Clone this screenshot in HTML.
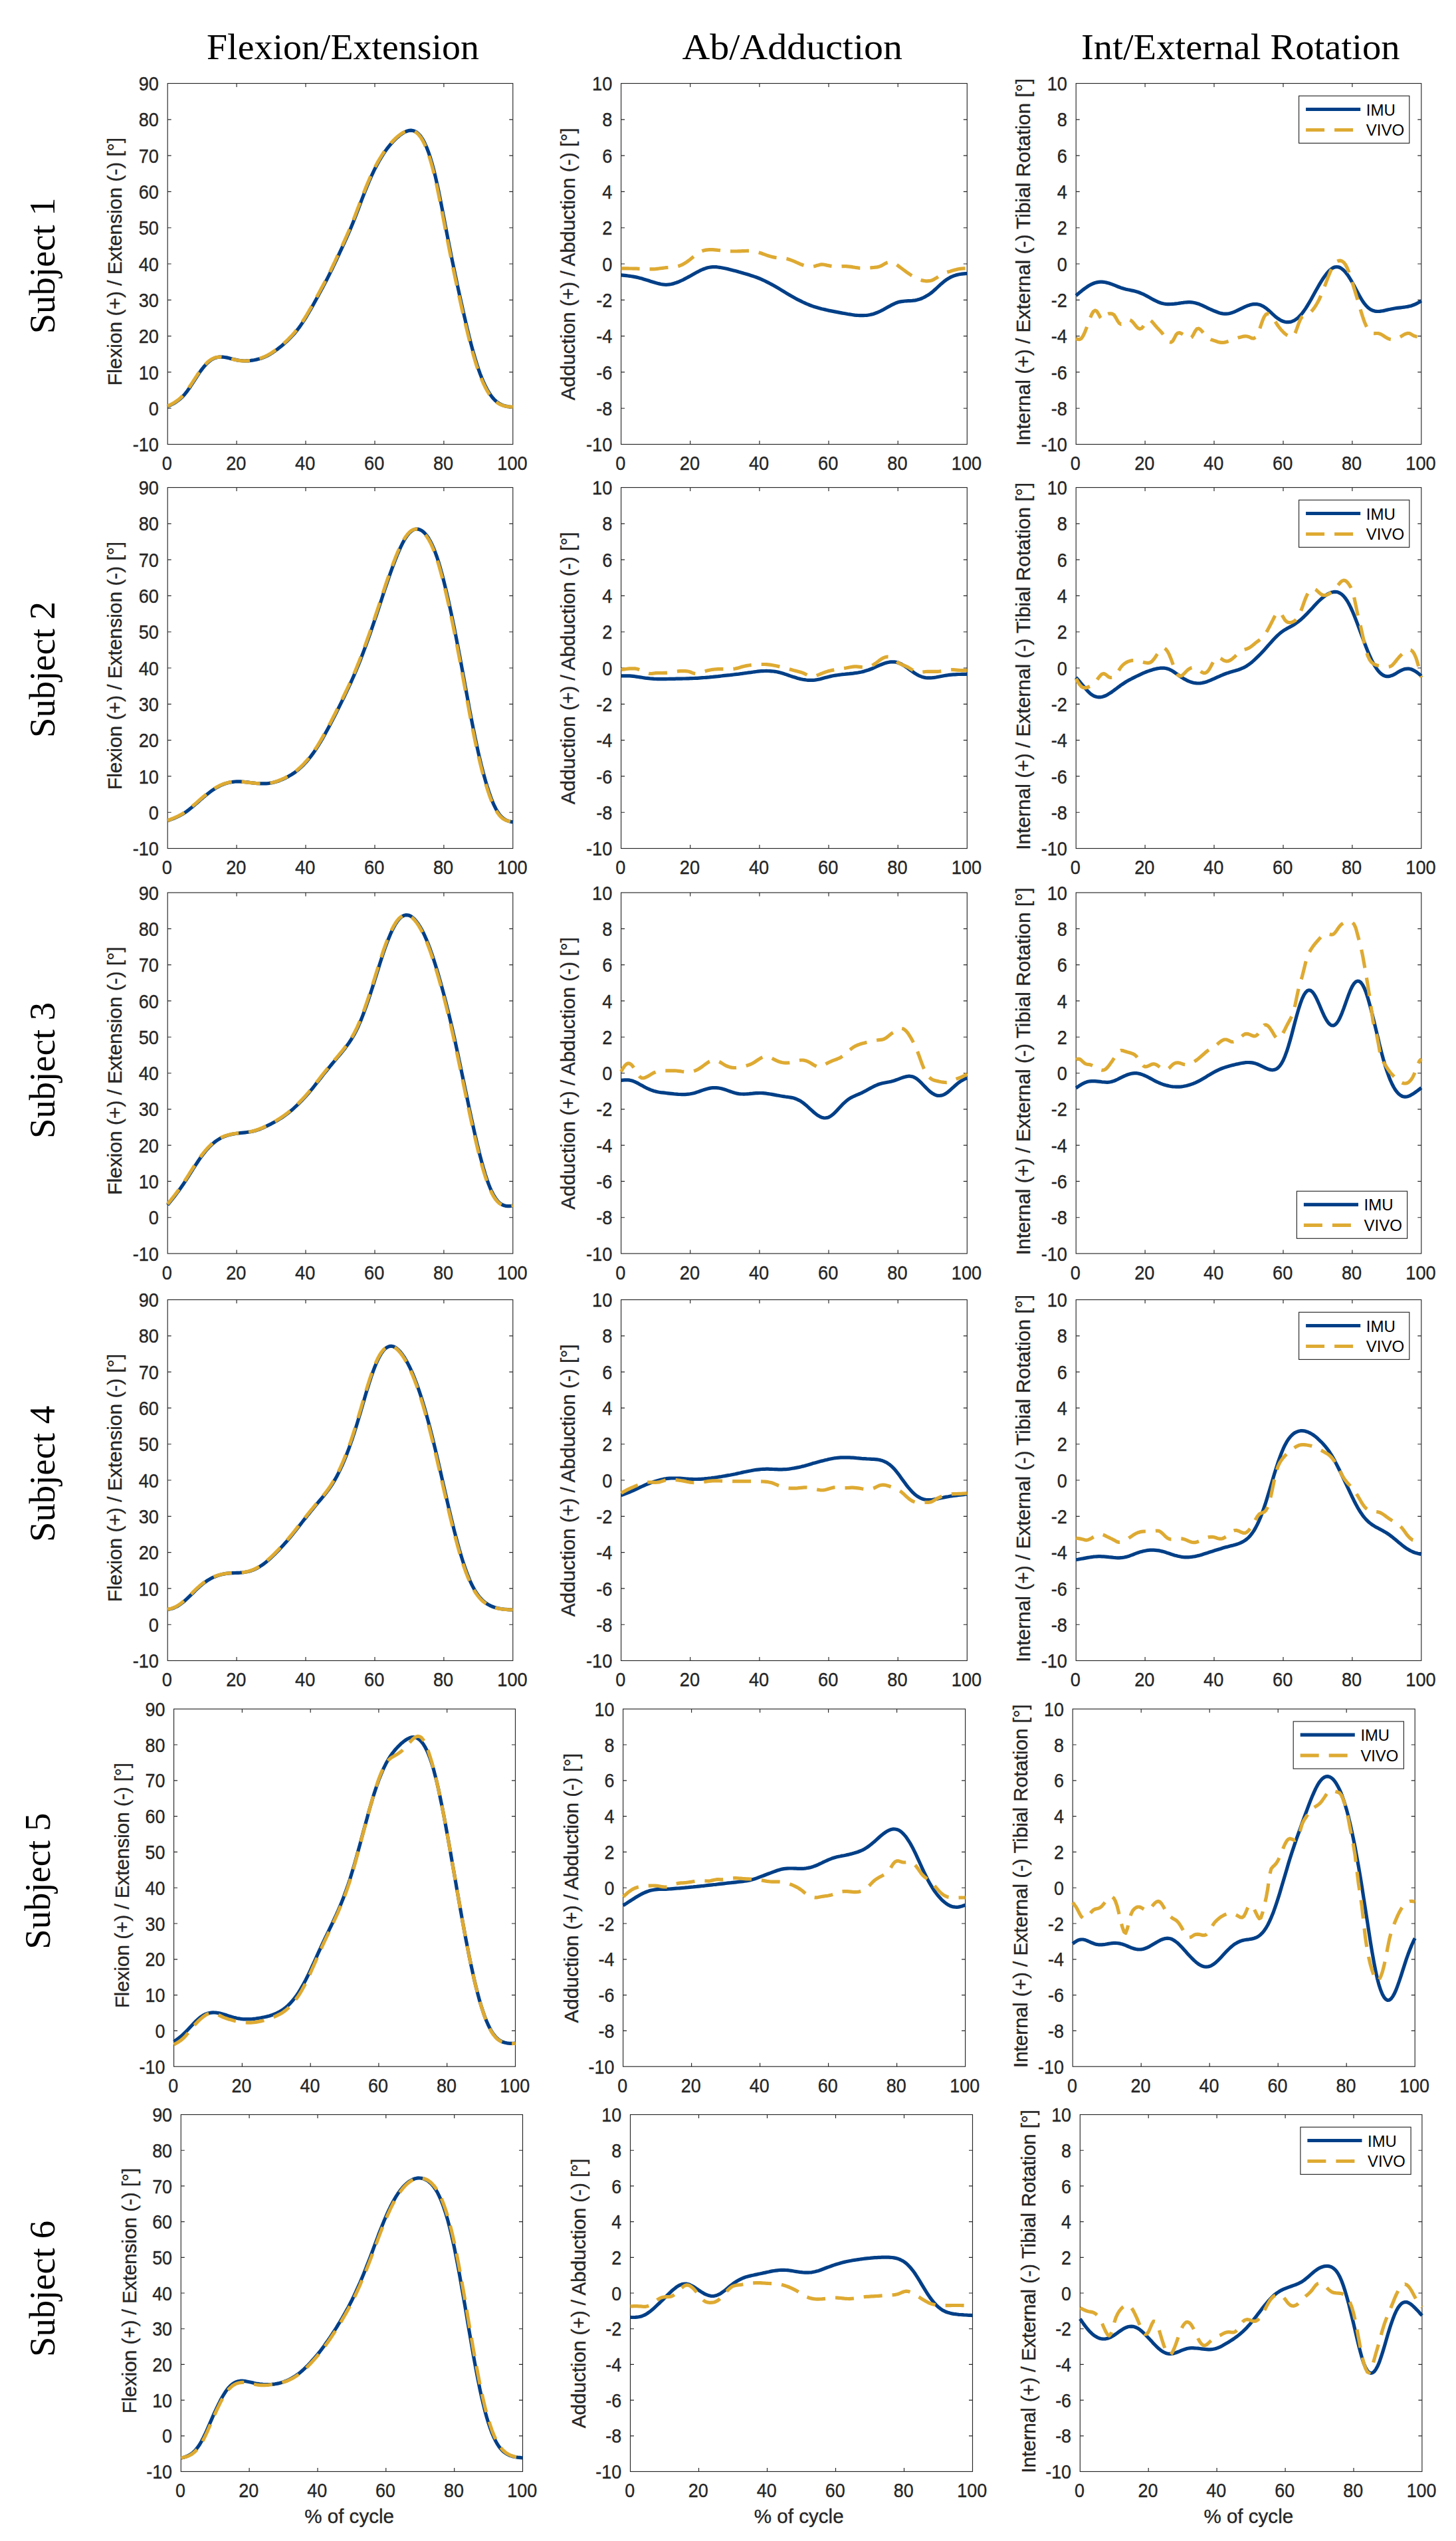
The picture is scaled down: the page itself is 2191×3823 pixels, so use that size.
<!DOCTYPE html>
<html lang="en"><head><meta charset="utf-8"><title>Knee kinematics: IMU vs VIVO</title><style>
html,body{margin:0;padding:0;background:#fff}
svg{display:block}
text{fill:#262626}
.tk,.lb{stroke:#262626;stroke-width:0.35px}
.ti{font-family:"Liberation Serif","DejaVu Serif",serif;font-size:54px;fill:#000}
.tk{font-family:"Liberation Sans","DejaVu Sans",sans-serif;font-size:29.6px}
.lb{font-family:"Liberation Sans","DejaVu Sans",sans-serif;font-size:29.9px}
.lt{font-family:"Liberation Sans","DejaVu Sans",sans-serif;font-size:24px;fill:#000}
.r5 .tk,.r6 .tk{font-size:29.29px}
.r5 .lb,.r6 .lb{font-size:29.59px}
.r5 .lt,.r6 .lt{font-size:23.75px}
.ax{fill:none;stroke:#262626;stroke-width:1.15}
.lg{fill:#fff;stroke:#262626;stroke-width:1.15}
.imu{fill:none;stroke:#003f87;stroke-width:5.2;stroke-linejoin:round}
.vivo{fill:none;stroke:#deaa32;stroke-width:5.2;stroke-dasharray:28 15;stroke-linejoin:round}
</style></head><body>
<svg width="2191" height="3823" viewBox="0 0 2191 3823">
<rect width="100%" height="100%" fill="#fff"/>
<text class="ti" x="311" y="89" textLength="410" lengthAdjust="spacingAndGlyphs">Flexion/Extension</text>
<text class="ti" x="1026.5" y="89" textLength="331.5" lengthAdjust="spacingAndGlyphs">Ab/Adduction</text>
<text class="ti" x="1627" y="89" textLength="479.5" lengthAdjust="spacingAndGlyphs">Int/External Rotation</text>
<text class="ti" transform="translate(81.7,502.3) rotate(-90)" textLength="205" lengthAdjust="spacingAndGlyphs">Subject 1</text>
<g class="r1"><clipPath id="c11"><rect x="249.2" y="122.5" width="525.6" height="549"/></clipPath>
<rect class="ax" x="252.2" y="125.5" width="519.6" height="543"/>
<path class="ax" d="M356.1,668.5v-5.5M356.1,125.5v5.5M460,668.5v-5.5M460,125.5v5.5M564,668.5v-5.5M564,125.5v5.5M667.9,668.5v-5.5M667.9,125.5v5.5M252.2,614.2h5.5M771.8,614.2h-5.5M252.2,559.9h5.5M771.8,559.9h-5.5M252.2,505.6h5.5M771.8,505.6h-5.5M252.2,451.3h5.5M771.8,451.3h-5.5M252.2,397h5.5M771.8,397h-5.5M252.2,342.7h5.5M771.8,342.7h-5.5M252.2,288.4h5.5M771.8,288.4h-5.5M252.2,234.1h5.5M771.8,234.1h-5.5M252.2,179.8h5.5M771.8,179.8h-5.5"/>
<g clip-path="url(#c11)">
<path class="imu" d="M252.2,611.6 254.8,610.4 257.4,609 260,607.7 262.6,606.2 265.2,604.5 267.8,602.7 270.4,600.7 273,598.4 275.6,595.8 278.2,592.9 280.8,589.7 283.4,586.1 286,582.4 288.6,578.4 291.2,574.4 293.8,570.4 296.4,566.3 299,562.4 301.6,558.6 304.2,555.1 306.8,551.8 309.4,548.9 312,546.2 314.6,543.9 317.1,541.9 319.7,540.3 322.3,539 324.9,538.1 327.5,537.5 330.1,537.2 332.7,537.1 335.3,537.2 337.9,537.5 340.5,537.9 343.1,538.4 345.7,539.1 348.3,539.7 350.9,540.4 353.5,541 356.1,541.6 358.7,542.1 361.3,542.5 363.9,542.7 366.5,542.9 369.1,543 371.7,542.9 374.3,542.8 376.9,542.5 379.5,542.1 382.1,541.7 384.7,541.2 387.3,540.6 389.9,539.9 392.5,539.2 395.1,538.3 397.7,537.3 400.3,536.2 402.9,534.9 405.5,533.5 408.1,531.9 410.7,530.2 413.3,528.4 415.9,526.5 418.5,524.6 421.1,522.5 423.7,520.4 426.3,518.2 428.9,515.9 431.5,513.5 434.1,511.1 436.7,508.5 439.3,505.8 441.9,503 444.5,500 447,496.8 449.6,493.5 452.2,489.9 454.8,486.1 457.4,482.1 460,478 462.6,473.7 465.2,469.3 467.8,464.8 470.4,460.2 473,455.5 475.6,450.7 478.2,445.9 480.8,441 483.4,436.2 486,431.4 488.6,426.6 491.2,421.7 493.8,416.6 496.4,411.4 499,406.1 501.6,400.7 504.2,395.2 506.8,389.6 509.4,384.1 512,378.4 514.6,372.8 517.2,367.2 519.8,361.4 522.4,355.6 525,349.7 527.6,343.7 530.2,337.5 532.8,331 535.4,324.3 538,317.5 540.6,310.6 543.2,303.7 545.8,296.8 548.4,290.1 551,283.6 553.6,277.2 556.2,271.1 558.8,265.2 561.4,259.6 564,254.2 566.6,249.2 569.2,244.4 571.8,239.9 574.4,235.6 576.9,231.6 579.5,227.8 582.1,224.2 584.7,220.9 587.3,217.7 589.9,214.7 592.5,211.9 595.1,209.3 597.7,206.9 600.3,204.7 602.9,202.6 605.5,200.8 608.1,199.2 610.7,198 613.3,197 615.9,196.4 618.5,196.2 621.1,196.5 623.7,197.2 626.3,198.6 628.9,200.5 631.5,203.2 634.1,206.6 636.7,210.7 639.3,215.7 641.9,221.5 644.5,228.2 647.1,235.8 649.7,244.4 652.3,253.9 654.9,264.4 657.5,275.8 660.1,287.9 662.7,300.7 665.3,313.9 667.9,327.4 670.5,341 673.1,354.5 675.7,367.8 678.3,380.9 680.9,393.7 683.5,406.3 686.1,418.6 688.7,430.7 691.3,442.7 693.9,454.4 696.5,466 699.1,477.4 701.7,488.5 704.3,499.3 706.8,509.7 709.4,519.7 712,529.3 714.6,538.3 717.2,546.8 719.8,554.8 722.4,562.1 725,568.8 727.6,574.9 730.2,580.5 732.8,585.5 735.4,590 738,594 740.6,597.5 743.2,600.5 745.8,603.1 748.4,605.2 751,607 753.6,608.4 756.2,609.6 758.8,610.5 761.4,611.1 764,611.6 766.6,612 769.2,612.3 771.8,612.5"/>
<path class="vivo" d="M252.2,611.1 254.8,609.8 257.4,608.5 260,607.1 262.6,605.5 265.2,603.8 267.8,601.9 270.4,599.8 273,597.4 275.6,594.7 278.2,591.6 280.8,588.3 283.4,584.7 286,580.8 288.6,576.8 291.2,572.8 293.8,568.8 296.4,564.8 299,560.9 301.6,557.2 304.2,553.8 306.8,550.6 309.4,547.8 312,545.3 314.6,543.1 317.1,541.2 319.7,539.8 322.3,538.6 324.9,537.8 327.5,537.3 330.1,537.1 332.7,537.1 335.3,537.3 337.9,537.6 340.5,538.1 343.1,538.7 345.7,539.3 348.3,540 350.9,540.6 353.5,541.3 356.1,541.8 358.7,542.2 361.3,542.6 363.9,542.8 366.5,542.9 369.1,543 371.7,542.9 374.3,542.7 376.9,542.4 379.5,542 382.1,541.5 384.7,541 387.3,540.3 389.9,539.6 392.5,538.8 395.1,537.9 397.7,536.9 400.3,535.7 402.9,534.3 405.5,532.9 408.1,531.3 410.7,529.5 413.3,527.7 415.9,525.8 418.5,523.8 421.1,521.7 423.7,519.5 426.3,517.3 428.9,515 431.5,512.6 434.1,510.1 436.7,507.4 439.3,504.7 441.9,501.8 444.5,498.7 447,495.5 449.6,492.1 452.2,488.4 454.8,484.5 457.4,480.5 460,476.3 462.6,472 465.2,467.5 467.8,463 470.4,458.3 473,453.6 475.6,448.8 478.2,444 480.8,439.1 483.4,434.3 486,429.5 488.6,424.6 491.2,419.7 493.8,414.6 496.4,409.3 499,403.9 501.6,398.5 504.2,393 506.8,387.4 509.4,381.8 512,376.2 514.6,370.6 517.2,364.9 519.8,359.1 522.4,353.3 525,347.3 527.6,341.2 530.2,334.9 532.8,328.4 535.4,321.6 538,314.7 540.6,307.8 543.2,300.9 545.8,294.1 548.4,287.5 551,281 553.6,274.8 556.2,268.7 558.8,262.9 561.4,257.4 564,252.2 566.6,247.2 569.2,242.6 571.8,238.2 574.4,234 576.9,230.1 579.5,226.4 582.1,222.9 584.7,219.6 587.3,216.5 589.9,213.6 592.5,210.9 595.1,208.3 597.7,206 600.3,203.8 602.9,201.9 605.5,200.1 608.1,198.7 610.7,197.6 613.3,196.7 615.9,196.3 618.5,196.3 621.1,196.7 623.7,197.7 626.3,199.3 628.9,201.5 631.5,204.4 634.1,208.1 636.7,212.6 639.3,217.9 641.9,224.1 644.5,231.1 647.1,239.2 649.7,248.1 652.3,258 654.9,268.8 657.5,280.5 660.1,293 662.7,305.9 665.3,319.3 667.9,332.8 670.5,346.4 673.1,359.8 675.7,373.1 678.3,386.1 680.9,398.8 683.5,411.2 686.1,423.4 688.7,435.5 691.3,447.4 693.9,459.1 696.5,470.6 699.1,481.9 701.7,492.8 704.3,503.5 706.8,513.7 709.4,523.6 712,532.9 714.6,541.8 717.2,550.1 719.8,557.8 722.4,564.9 725,571.3 727.6,577.2 730.2,582.6 732.8,587.4 735.4,591.7 738,595.4 740.6,598.7 743.2,601.6 745.8,604 748.4,606 751,607.6 753.6,608.9 756.2,609.9 758.8,610.7 761.4,611.2 764,611.6 766.6,611.9 769.2,612.1 771.8,612.3"/>
</g>
<text class="tk" transform="translate(251.4,707.1) scale(0.92,1)" text-anchor="middle">0</text>
<text class="tk" transform="translate(355.3,707.1) scale(0.92,1)" text-anchor="middle">20</text>
<text class="tk" transform="translate(459.2,707.1) scale(0.92,1)" text-anchor="middle">40</text>
<text class="tk" transform="translate(563.2,707.1) scale(0.92,1)" text-anchor="middle">60</text>
<text class="tk" transform="translate(667.1,707.1) scale(0.92,1)" text-anchor="middle">80</text>
<text class="tk" transform="translate(771,707.1) scale(0.92,1)" text-anchor="middle">100</text>
<text class="tk" transform="translate(239,679.1) scale(0.92,1)" text-anchor="end">-10</text>
<text class="tk" transform="translate(239,624.8) scale(0.92,1)" text-anchor="end">0</text>
<text class="tk" transform="translate(239,570.5) scale(0.92,1)" text-anchor="end">10</text>
<text class="tk" transform="translate(239,516.2) scale(0.92,1)" text-anchor="end">20</text>
<text class="tk" transform="translate(239,461.9) scale(0.92,1)" text-anchor="end">30</text>
<text class="tk" transform="translate(239,407.6) scale(0.92,1)" text-anchor="end">40</text>
<text class="tk" transform="translate(239,353.3) scale(0.92,1)" text-anchor="end">50</text>
<text class="tk" transform="translate(239,299) scale(0.92,1)" text-anchor="end">60</text>
<text class="tk" transform="translate(239,244.7) scale(0.92,1)" text-anchor="end">70</text>
<text class="tk" transform="translate(239,190.4) scale(0.92,1)" text-anchor="end">80</text>
<text class="tk" transform="translate(239,136.1) scale(0.92,1)" text-anchor="end">90</text>
<text class="lb" transform="translate(183,393.5) rotate(-90)" text-anchor="middle">Flexion (+) / Extension (-) [°]</text></g>
<g class="r1"><clipPath id="c12"><rect x="931.6" y="122.5" width="526.7" height="549"/></clipPath>
<rect class="ax" x="934.6" y="125.5" width="520.7" height="543"/>
<path class="ax" d="M1038.7,668.5v-5.5M1038.7,125.5v5.5M1142.9,668.5v-5.5M1142.9,125.5v5.5M1247,668.5v-5.5M1247,125.5v5.5M1351.2,668.5v-5.5M1351.2,125.5v5.5M934.6,614.2h5.5M1455.3,614.2h-5.5M934.6,559.9h5.5M1455.3,559.9h-5.5M934.6,505.6h5.5M1455.3,505.6h-5.5M934.6,451.3h5.5M1455.3,451.3h-5.5M934.6,397h5.5M1455.3,397h-5.5M934.6,342.7h5.5M1455.3,342.7h-5.5M934.6,288.4h5.5M1455.3,288.4h-5.5M934.6,234.1h5.5M1455.3,234.1h-5.5M934.6,179.8h5.5M1455.3,179.8h-5.5"/>
<g clip-path="url(#c12)">
<path class="imu" d="M934.6,413.8 937.2,414.1 939.8,414.4 942.4,414.7 945,415 947.6,415.3 950.2,415.7 952.8,416.1 955.4,416.6 958,417.1 960.6,417.7 963.2,418.4 965.8,419.1 968.4,419.9 971,420.7 973.7,421.5 976.3,422.3 978.9,423.2 981.5,424 984.1,424.8 986.7,425.6 989.3,426.3 991.9,426.9 994.5,427.5 997.1,427.9 999.7,428.2 1002.3,428.3 1004.9,428.2 1007.5,427.9 1010.1,427.5 1012.7,426.9 1015.3,426.1 1017.9,425.3 1020.5,424.3 1023.1,423.2 1025.7,422 1028.3,420.8 1030.9,419.4 1033.5,418 1036.1,416.6 1038.7,415.2 1041.3,413.7 1043.9,412.2 1046.6,410.7 1049.2,409.3 1051.8,408 1054.4,406.7 1057,405.5 1059.6,404.5 1062.2,403.6 1064.8,402.8 1067.4,402.3 1070,401.9 1072.6,401.7 1075.2,401.6 1077.8,401.7 1080.4,402 1083,402.3 1085.6,402.7 1088.2,403.2 1090.8,403.7 1093.4,404.3 1096,404.9 1098.6,405.6 1101.2,406.2 1103.8,406.9 1106.4,407.6 1109,408.3 1111.6,409.1 1114.2,409.8 1116.8,410.5 1119.4,411.3 1122.1,412 1124.7,412.8 1127.3,413.6 1129.9,414.4 1132.5,415.2 1135.1,416.1 1137.7,417 1140.3,418 1142.9,419 1145.5,420.1 1148.1,421.3 1150.7,422.5 1153.3,423.8 1155.9,425.1 1158.5,426.5 1161.1,427.9 1163.7,429.3 1166.3,430.8 1168.9,432.3 1171.5,433.8 1174.1,435.4 1176.7,437 1179.3,438.5 1181.9,440.1 1184.5,441.7 1187.1,443.2 1189.7,444.8 1192.3,446.3 1195,447.8 1197.6,449.2 1200.2,450.6 1202.8,451.9 1205.4,453.2 1208,454.5 1210.6,455.7 1213.2,456.9 1215.8,457.9 1218.4,459 1221,460 1223.6,460.9 1226.2,461.7 1228.8,462.5 1231.4,463.3 1234,464 1236.6,464.7 1239.2,465.3 1241.8,465.9 1244.4,466.5 1247,467.1 1249.6,467.6 1252.2,468.1 1254.8,468.6 1257.4,469.1 1260,469.6 1262.6,470.1 1265.2,470.6 1267.8,471.1 1270.5,471.5 1273.1,472 1275.7,472.5 1278.3,472.9 1280.9,473.3 1283.5,473.7 1286.1,474.1 1288.7,474.3 1291.3,474.5 1293.9,474.7 1296.5,474.7 1299.1,474.7 1301.7,474.5 1304.3,474.3 1306.9,474 1309.5,473.5 1312.1,472.9 1314.7,472.2 1317.3,471.3 1319.9,470.3 1322.5,469.2 1325.1,468 1327.7,466.7 1330.3,465.3 1332.9,463.8 1335.5,462.3 1338.1,460.9 1340.7,459.4 1343.3,458.1 1346,456.8 1348.6,455.7 1351.2,454.8 1353.8,454.1 1356.4,453.6 1359,453.3 1361.6,453 1364.2,452.8 1366.8,452.7 1369.4,452.6 1372,452.5 1374.6,452.2 1377.2,451.9 1379.8,451.3 1382.4,450.6 1385,449.7 1387.6,448.7 1390.2,447.5 1392.8,446.1 1395.4,444.6 1398,443 1400.6,441.1 1403.2,439.1 1405.8,436.8 1408.4,434.5 1411,432 1413.6,429.6 1416.2,427.2 1418.9,424.9 1421.5,422.8 1424.1,420.9 1426.7,419.2 1429.3,417.7 1431.9,416.4 1434.5,415.3 1437.1,414.4 1439.7,413.6 1442.3,413 1444.9,412.5 1447.5,412.2 1450.1,411.9 1452.7,411.7 1455.3,411.5"/>
<path class="vivo" d="M934.6,403.8 937.2,403.8 939.8,403.8 942.4,403.9 945,403.9 947.6,404 950.2,404 952.8,404.1 955.4,404.1 958,404.2 960.6,404.3 963.2,404.4 965.8,404.6 968.4,404.7 971,404.8 973.7,404.9 976.3,404.9 978.9,404.9 981.5,404.9 984.1,404.8 986.7,404.6 989.3,404.3 991.9,404 994.5,403.7 997.1,403.3 999.7,403 1002.3,402.7 1004.9,402.5 1007.5,402.3 1010.1,402.2 1012.7,401.9 1015.3,401.6 1017.9,401.2 1020.5,400.5 1023.1,399.7 1025.7,398.6 1028.3,397.3 1030.9,395.8 1033.5,394.1 1036.1,392.2 1038.7,390.2 1041.3,388.1 1043.9,385.9 1046.6,383.8 1049.2,381.8 1051.8,380.1 1054.4,378.6 1057,377.5 1059.6,376.7 1062.2,376.1 1064.8,375.8 1067.4,375.6 1070,375.6 1072.6,375.7 1075.2,375.9 1077.8,376.1 1080.4,376.4 1083,376.6 1085.6,376.9 1088.2,377.2 1090.8,377.4 1093.4,377.6 1096,377.8 1098.6,377.9 1101.2,378 1103.8,378 1106.4,378 1109,378 1111.6,377.9 1114.2,377.8 1116.8,377.7 1119.4,377.6 1122.1,377.5 1124.7,377.4 1127.3,377.4 1129.9,377.5 1132.5,377.7 1135.1,378.1 1137.7,378.7 1140.3,379.4 1142.9,380.2 1145.5,381 1148.1,382 1150.7,382.9 1153.3,383.9 1155.9,384.8 1158.5,385.6 1161.1,386.3 1163.7,386.9 1166.3,387.4 1168.9,387.7 1171.5,388 1174.1,388.2 1176.7,388.4 1179.3,388.6 1181.9,388.9 1184.5,389.4 1187.1,390.2 1189.7,391.1 1192.3,392.1 1195,393.2 1197.6,394.3 1200.2,395.5 1202.8,396.6 1205.4,397.8 1208,398.8 1210.6,399.7 1213.2,400.6 1215.8,401.2 1218.4,401.5 1221,401.5 1223.6,401.1 1226.2,400.5 1228.8,399.6 1231.4,398.9 1234,398.2 1236.6,397.9 1239.2,398 1241.8,398.5 1244.4,399.1 1247,399.6 1249.6,400.1 1252.2,400.5 1254.8,400.7 1257.4,400.8 1260,400.8 1262.6,400.8 1265.2,400.7 1267.8,400.6 1270.5,400.5 1273.1,400.6 1275.7,400.8 1278.3,401.1 1280.9,401.4 1283.5,401.9 1286.1,402.3 1288.7,402.7 1291.3,403 1293.9,403.3 1296.5,403.4 1299.1,403.5 1301.7,403.5 1304.3,403.4 1306.9,403.2 1309.5,403 1312.1,402.7 1314.7,402.5 1317.3,402.2 1319.9,401.9 1322.5,401.3 1325.1,400.4 1327.7,399.1 1330.3,397.6 1332.9,396.1 1335.5,394.9 1338.1,394.2 1340.7,394.1 1343.3,394.8 1346,396.1 1348.6,397.8 1351.2,399.6 1353.8,401.6 1356.4,403.5 1359,405.5 1361.6,407.4 1364.2,409.3 1366.8,411.1 1369.4,412.9 1372,414.6 1374.6,416.2 1377.2,417.6 1379.8,418.9 1382.4,420.1 1385,421.1 1387.6,421.9 1390.2,422.4 1392.8,422.8 1395.4,422.9 1398,422.7 1400.6,422.2 1403.2,421.4 1405.8,420.1 1408.4,418.6 1411,416.9 1413.6,415.1 1416.2,413.5 1418.9,412 1421.5,410.8 1424.1,409.9 1426.7,409.1 1429.3,408.4 1431.9,407.6 1434.5,406.8 1437.1,406.1 1439.7,405.4 1442.3,404.8 1444.9,404.4 1447.5,404.1 1450.1,403.9 1452.7,403.8 1455.3,403.8"/>
</g>
<text class="tk" transform="translate(933.8,707.1) scale(0.92,1)" text-anchor="middle">0</text>
<text class="tk" transform="translate(1037.9,707.1) scale(0.92,1)" text-anchor="middle">20</text>
<text class="tk" transform="translate(1142.1,707.1) scale(0.92,1)" text-anchor="middle">40</text>
<text class="tk" transform="translate(1246.2,707.1) scale(0.92,1)" text-anchor="middle">60</text>
<text class="tk" transform="translate(1350.4,707.1) scale(0.92,1)" text-anchor="middle">80</text>
<text class="tk" transform="translate(1454.5,707.1) scale(0.92,1)" text-anchor="middle">100</text>
<text class="tk" transform="translate(921.4,679.1) scale(0.92,1)" text-anchor="end">-10</text>
<text class="tk" transform="translate(921.4,624.8) scale(0.92,1)" text-anchor="end">-8</text>
<text class="tk" transform="translate(921.4,570.5) scale(0.92,1)" text-anchor="end">-6</text>
<text class="tk" transform="translate(921.4,516.2) scale(0.92,1)" text-anchor="end">-4</text>
<text class="tk" transform="translate(921.4,461.9) scale(0.92,1)" text-anchor="end">-2</text>
<text class="tk" transform="translate(921.4,407.6) scale(0.92,1)" text-anchor="end">0</text>
<text class="tk" transform="translate(921.4,353.3) scale(0.92,1)" text-anchor="end">2</text>
<text class="tk" transform="translate(921.4,299) scale(0.92,1)" text-anchor="end">4</text>
<text class="tk" transform="translate(921.4,244.7) scale(0.92,1)" text-anchor="end">6</text>
<text class="tk" transform="translate(921.4,190.4) scale(0.92,1)" text-anchor="end">8</text>
<text class="tk" transform="translate(921.4,136.1) scale(0.92,1)" text-anchor="end">10</text>
<text class="lb" transform="translate(865.4,397.4) rotate(-90)" text-anchor="middle">Adduction (+) / Abduction (-) [°]</text></g>
<g class="r1"><clipPath id="c13"><rect x="1616.2" y="122.5" width="525.6" height="549"/></clipPath>
<rect class="ax" x="1619.2" y="125.5" width="519.6" height="543"/>
<path class="ax" d="M1723.1,668.5v-5.5M1723.1,125.5v5.5M1827,668.5v-5.5M1827,125.5v5.5M1931,668.5v-5.5M1931,125.5v5.5M2034.9,668.5v-5.5M2034.9,125.5v5.5M1619.2,614.2h5.5M2138.8,614.2h-5.5M1619.2,559.9h5.5M2138.8,559.9h-5.5M1619.2,505.6h5.5M2138.8,505.6h-5.5M1619.2,451.3h5.5M2138.8,451.3h-5.5M1619.2,397h5.5M2138.8,397h-5.5M1619.2,342.7h5.5M2138.8,342.7h-5.5M1619.2,288.4h5.5M2138.8,288.4h-5.5M1619.2,234.1h5.5M2138.8,234.1h-5.5M1619.2,179.8h5.5M2138.8,179.8h-5.5"/>
<g clip-path="url(#c13)">
<path class="imu" d="M1619.2,444.7 1621.8,442.5 1624.4,440.3 1627,438.2 1629.6,436.1 1632.2,434.1 1634.8,432.3 1637.4,430.5 1640,429 1642.6,427.6 1645.2,426.5 1647.8,425.5 1650.4,424.9 1653,424.4 1655.6,424.2 1658.2,424.2 1660.8,424.4 1663.4,424.8 1666,425.4 1668.6,426.1 1671.2,426.9 1673.8,427.9 1676.4,428.9 1679,429.9 1681.6,431 1684.2,432 1686.7,432.9 1689.3,433.7 1691.9,434.5 1694.5,435.2 1697.1,435.8 1699.7,436.3 1702.3,436.9 1704.9,437.4 1707.5,438 1710.1,438.7 1712.7,439.5 1715.3,440.5 1717.9,441.6 1720.5,442.7 1723.1,444 1725.7,445.4 1728.3,446.8 1730.9,448.2 1733.5,449.7 1736.1,451.1 1738.7,452.4 1741.3,453.6 1743.9,454.8 1746.5,455.7 1749.1,456.5 1751.7,457 1754.3,457.4 1756.9,457.6 1759.5,457.6 1762.1,457.5 1764.7,457.3 1767.3,457.1 1769.9,456.8 1772.5,456.5 1775.1,456.1 1777.7,455.7 1780.3,455.4 1782.9,455 1785.5,454.8 1788.1,454.7 1790.7,454.7 1793.3,454.8 1795.9,455.2 1798.5,455.7 1801.1,456.4 1803.7,457.2 1806.3,458.3 1808.9,459.4 1811.5,460.6 1814.1,461.8 1816.6,463.1 1819.2,464.3 1821.8,465.5 1824.4,466.6 1827,467.8 1829.6,468.8 1832.2,469.8 1834.8,470.7 1837.4,471.4 1840,471.9 1842.6,472.2 1845.2,472.2 1847.8,472 1850.4,471.5 1853,470.8 1855.6,469.9 1858.2,468.8 1860.8,467.7 1863.4,466.4 1866,465.1 1868.6,463.8 1871.2,462.6 1873.8,461.4 1876.4,460.3 1879,459.4 1881.6,458.6 1884.2,457.9 1886.8,457.6 1889.4,457.5 1892,457.7 1894.6,458.3 1897.2,459.1 1899.8,460.3 1902.4,461.8 1905,463.6 1907.6,465.7 1910.2,468 1912.8,470.4 1915.4,472.8 1918,475.2 1920.6,477.4 1923.2,479.3 1925.8,481 1928.4,482.5 1931,483.5 1933.6,484.3 1936.2,484.7 1938.8,484.7 1941.4,484.4 1944,483.7 1946.5,482.7 1949.1,481.2 1951.7,479.4 1954.3,477.1 1956.9,474.4 1959.5,471.3 1962.1,467.9 1964.7,464.1 1967.3,460 1969.9,455.7 1972.5,451.2 1975.1,446.5 1977.7,441.8 1980.3,437.1 1982.9,432.4 1985.5,427.9 1988.1,423.6 1990.7,419.5 1993.3,415.7 1995.9,412.2 1998.5,409.2 2001.1,406.6 2003.7,404.4 2006.3,402.8 2008.9,401.8 2011.5,401.5 2014.1,401.8 2016.7,402.8 2019.3,404.4 2021.9,406.6 2024.5,409.3 2027.1,412.6 2029.7,416.3 2032.3,420.5 2034.9,425 2037.5,429.7 2040.1,434.6 2042.7,439.5 2045.3,444.3 2047.9,448.8 2050.5,453 2053.1,456.7 2055.7,459.8 2058.3,462.5 2060.9,464.6 2063.5,466.2 2066.1,467.3 2068.7,468.1 2071.3,468.4 2073.9,468.5 2076.4,468.4 2079,468 2081.6,467.6 2084.2,467 2086.8,466.4 2089.4,465.8 2092,465.3 2094.6,464.7 2097.2,464.2 2099.8,463.8 2102.4,463.4 2105,463.1 2107.6,462.8 2110.2,462.5 2112.8,462.2 2115.4,461.8 2118,461.4 2120.6,460.8 2123.2,460.2 2125.8,459.3 2128.4,458.3 2131,457.1 2133.6,455.7 2136.2,454.2 2138.8,452.6"/>
<path class="vivo" d="M1619.2,509.4 1621.8,510.5 1624.4,510.7 1627,509.4 1629.6,505.9 1632.2,500.5 1634.8,493.9 1637.4,486.7 1640,479.6 1642.6,473.4 1645.2,468.9 1647.8,467 1650.4,468.1 1653,472.3 1655.6,477.3 1658.2,480.4 1660.8,479.4 1663.4,476.1 1666,473 1668.6,471.9 1671.2,471.9 1673.8,472.2 1676.4,473.8 1679,477.7 1681.6,482.5 1684.2,486.3 1686.7,487.8 1689.3,487.2 1691.9,485.5 1694.5,483.4 1697.1,481.7 1699.7,481.2 1702.3,482.3 1704.9,484.8 1707.5,488.1 1710.1,491.4 1712.7,493.9 1715.3,494.9 1717.9,493.9 1720.5,491.1 1723.1,487.3 1725.7,483.8 1728.3,481.7 1730.9,481.9 1733.5,483.8 1736.1,486.9 1738.7,490.1 1741.3,493 1743.9,495.7 1746.5,498.5 1749.1,501.5 1751.7,505.1 1754.3,508.7 1756.9,512 1759.5,514.3 1762.1,515 1764.7,513.2 1767.3,508.4 1769.9,503.4 1772.5,501 1775.1,500.7 1777.7,501.7 1780.3,503.4 1782.9,505.5 1785.5,507.5 1788.1,509 1790.7,509.3 1793.3,507.5 1795.9,503.3 1798.5,498.3 1801.1,494.7 1803.7,494.2 1806.3,495.8 1808.9,498.5 1811.5,501.7 1814.1,504.8 1816.6,507.5 1819.2,509.4 1821.8,510.7 1824.4,511.6 1827,512.4 1829.6,513.3 1832.2,514.2 1834.8,514.9 1837.4,515.4 1840,515.4 1842.6,515.1 1845.2,514.5 1847.8,513.7 1850.4,512.9 1853,511.9 1855.6,510.9 1858.2,509.9 1860.8,509 1863.4,508.1 1866,507.4 1868.6,506.7 1871.2,506.1 1873.8,505.9 1876.4,506 1879,506.7 1881.6,507.9 1884.2,509 1886.8,509.1 1889.4,507.5 1892,503.5 1894.6,497.5 1897.2,490.1 1899.8,482.6 1902.4,476.5 1905,473 1907.6,471.9 1910.2,472.7 1912.8,475 1915.4,478.4 1918,482.3 1920.6,486.3 1923.2,490.2 1925.8,493.7 1928.4,496.8 1931,499.6 1933.6,502 1936.2,504 1938.8,505.5 1941.4,506.7 1944,507.2 1946.5,505.6 1949.1,500.8 1951.7,493.9 1954.3,486.6 1956.9,480.4 1959.5,476.5 1962.1,474.5 1964.7,473.6 1967.3,472.7 1969.9,471.4 1972.5,469.3 1975.1,466.6 1977.7,463.2 1980.3,459.3 1982.9,454.8 1985.5,449.7 1988.1,444 1990.7,437.6 1993.3,430.9 1995.9,423.9 1998.5,417.1 2001.1,410.6 2003.7,404.7 2006.3,399.7 2008.9,395.9 2011.5,393.5 2014.1,392.3 2016.7,392.1 2019.3,392.8 2021.9,394.6 2024.5,397.8 2027.1,402.8 2029.7,409.1 2032.3,416.6 2034.9,424.7 2037.5,433.2 2040.1,441.8 2042.7,450.6 2045.3,459.4 2047.9,468.1 2050.5,476.4 2053.1,483.9 2055.7,490.1 2058.3,494.9 2060.9,498.3 2063.5,500.5 2066.1,501.5 2068.7,501.7 2071.3,501.5 2073.9,501.5 2076.4,502.2 2079,503.4 2081.6,505 2084.2,506.7 2086.8,508.3 2089.4,509.6 2092,510.5 2094.6,510.9 2097.2,510.8 2099.8,510.3 2102.4,509.4 2105,508.1 2107.6,506.6 2110.2,505 2112.8,503.4 2115.4,502.2 2118,501.4 2120.6,501.5 2123.2,502.6 2125.8,504.2 2128.4,505.6 2131,506.3 2133.6,506.4 2136.2,506.1 2138.8,505.6"/>
</g>
<text class="tk" transform="translate(1618.4,707.1) scale(0.92,1)" text-anchor="middle">0</text>
<text class="tk" transform="translate(1722.3,707.1) scale(0.92,1)" text-anchor="middle">20</text>
<text class="tk" transform="translate(1826.2,707.1) scale(0.92,1)" text-anchor="middle">40</text>
<text class="tk" transform="translate(1930.2,707.1) scale(0.92,1)" text-anchor="middle">60</text>
<text class="tk" transform="translate(2034.1,707.1) scale(0.92,1)" text-anchor="middle">80</text>
<text class="tk" transform="translate(2138,707.1) scale(0.92,1)" text-anchor="middle">100</text>
<text class="tk" transform="translate(1606,679.1) scale(0.92,1)" text-anchor="end">-10</text>
<text class="tk" transform="translate(1606,624.8) scale(0.92,1)" text-anchor="end">-8</text>
<text class="tk" transform="translate(1606,570.5) scale(0.92,1)" text-anchor="end">-6</text>
<text class="tk" transform="translate(1606,516.2) scale(0.92,1)" text-anchor="end">-4</text>
<text class="tk" transform="translate(1606,461.9) scale(0.92,1)" text-anchor="end">-2</text>
<text class="tk" transform="translate(1606,407.6) scale(0.92,1)" text-anchor="end">0</text>
<text class="tk" transform="translate(1606,353.3) scale(0.92,1)" text-anchor="end">2</text>
<text class="tk" transform="translate(1606,299) scale(0.92,1)" text-anchor="end">4</text>
<text class="tk" transform="translate(1606,244.7) scale(0.92,1)" text-anchor="end">6</text>
<text class="tk" transform="translate(1606,190.4) scale(0.92,1)" text-anchor="end">8</text>
<text class="tk" transform="translate(1606,136.1) scale(0.92,1)" text-anchor="end">10</text>
<text class="lb" transform="translate(1550,394.4) rotate(-90)" text-anchor="middle">Internal (+) / External (-) Tibial Rotation [°]</text>
<rect class="lg" x="1954.6" y="144.3" width="166.2" height="71.1"/>
<path class="imu" d="M1965.1,164.5h82.1"/>
<path class="vivo" d="M1965.1,195.5h82.1"/>
<text class="lt" x="2055.8" y="173.5">IMU</text>
<text class="lt" x="2055.8" y="204.4">VIVO</text></g>
<text class="ti" transform="translate(81.7,1109.9) rotate(-90)" textLength="205" lengthAdjust="spacingAndGlyphs">Subject 2</text>
<g class="r2"><clipPath id="c21"><rect x="249.2" y="730.5" width="525.6" height="549"/></clipPath>
<rect class="ax" x="252.2" y="733.5" width="519.6" height="543"/>
<path class="ax" d="M356.1,1276.5v-5.5M356.1,733.5v5.5M460,1276.5v-5.5M460,733.5v5.5M564,1276.5v-5.5M564,733.5v5.5M667.9,1276.5v-5.5M667.9,733.5v5.5M252.2,1222.2h5.5M771.8,1222.2h-5.5M252.2,1167.9h5.5M771.8,1167.9h-5.5M252.2,1113.6h5.5M771.8,1113.6h-5.5M252.2,1059.3h5.5M771.8,1059.3h-5.5M252.2,1005h5.5M771.8,1005h-5.5M252.2,950.7h5.5M771.8,950.7h-5.5M252.2,896.4h5.5M771.8,896.4h-5.5M252.2,842.1h5.5M771.8,842.1h-5.5M252.2,787.8h5.5M771.8,787.8h-5.5"/>
<g clip-path="url(#c21)">
<path class="imu" d="M252.2,1234.9 254.8,1233.9 257.4,1232.9 260,1231.9 262.6,1230.8 265.2,1229.7 267.8,1228.5 270.4,1227.2 273,1225.8 275.6,1224.3 278.2,1222.6 280.8,1220.8 283.4,1218.9 286,1216.8 288.6,1214.7 291.2,1212.5 293.8,1210.3 296.4,1208 299,1205.7 301.6,1203.4 304.2,1201.2 306.8,1198.9 309.4,1196.8 312,1194.7 314.6,1192.7 317.1,1190.8 319.7,1188.9 322.3,1187.2 324.9,1185.6 327.5,1184.1 330.1,1182.7 332.7,1181.4 335.3,1180.3 337.9,1179.3 340.5,1178.5 343.1,1177.8 345.7,1177.1 348.3,1176.7 350.9,1176.3 353.5,1176 356.1,1175.9 358.7,1175.9 361.3,1175.9 363.9,1176.1 366.5,1176.3 369.1,1176.6 371.7,1176.9 374.3,1177.2 376.9,1177.5 379.5,1177.8 382.1,1178.1 384.7,1178.4 387.3,1178.6 389.9,1178.7 392.5,1178.8 395.1,1178.9 397.7,1178.9 400.3,1178.8 402.9,1178.6 405.5,1178.3 408.1,1177.9 410.7,1177.4 413.3,1176.8 415.9,1176 418.5,1175.2 421.1,1174.2 423.7,1173.1 426.3,1172 428.9,1170.8 431.5,1169.5 434.1,1168.1 436.7,1166.6 439.3,1165 441.9,1163.3 444.5,1161.5 447,1159.5 449.6,1157.4 452.2,1155.1 454.8,1152.7 457.4,1150.1 460,1147.3 462.6,1144.3 465.2,1141.2 467.8,1137.9 470.4,1134.4 473,1130.8 475.6,1126.9 478.2,1122.9 480.8,1118.7 483.4,1114.4 486,1109.9 488.6,1105.3 491.2,1100.6 493.8,1095.8 496.4,1090.9 499,1085.9 501.6,1080.9 504.2,1075.8 506.8,1070.6 509.4,1065.4 512,1060.1 514.6,1054.9 517.2,1049.6 519.8,1044.2 522.4,1038.7 525,1033.2 527.6,1027.6 530.2,1021.8 532.8,1015.9 535.4,1009.8 538,1003.6 540.6,997.2 543.2,990.6 545.8,983.8 548.4,976.9 551,969.8 553.6,962.6 556.2,955.3 558.8,947.8 561.4,940.2 564,932.5 566.6,924.8 569.2,916.9 571.8,909 574.4,901.2 576.9,893.3 579.5,885.5 582.1,877.8 584.7,870.2 587.3,862.7 589.9,855.4 592.5,848.4 595.1,841.6 597.7,835 600.3,828.9 602.9,823.1 605.5,817.8 608.1,813 610.7,808.7 613.3,805 615.9,801.9 618.5,799.5 621.1,797.7 623.7,796.5 626.3,796 628.9,796.1 631.5,796.8 634.1,798 636.7,799.9 639.3,802.3 641.9,805.4 644.5,809.1 647.1,813.5 649.7,818.5 652.3,824.3 654.9,830.8 657.5,838 660.1,846.1 662.7,855 665.3,864.4 667.9,874.5 670.5,885.1 673.1,896.1 675.7,907.6 678.3,919.5 680.9,931.8 683.5,944.5 686.1,957.6 688.7,970.9 691.3,984.6 693.9,998.5 696.5,1012.5 699.1,1026.6 701.7,1040.7 704.3,1054.8 706.8,1068.6 709.4,1082.1 712,1095.3 714.6,1108.1 717.2,1120.4 719.8,1132.2 722.4,1143.4 725,1154 727.6,1164 730.2,1173.5 732.8,1182.3 735.4,1190.4 738,1197.9 740.6,1204.8 743.2,1210.9 745.8,1216.2 748.4,1220.8 751,1224.7 753.6,1227.8 756.2,1230.4 758.8,1232.4 761.4,1233.8 764,1234.9 766.6,1235.8 769.2,1236.4 771.8,1236.9"/>
<path class="vivo" d="M252.2,1234.5 254.8,1233.5 257.4,1232.5 260,1231.4 262.6,1230.4 265.2,1229.2 267.8,1228 270.4,1226.6 273,1225.2 275.6,1223.6 278.2,1221.9 280.8,1220 283.4,1218.1 286,1216 288.6,1213.8 291.2,1211.6 293.8,1209.4 296.4,1207.1 299,1204.8 301.6,1202.5 304.2,1200.3 306.8,1198.1 309.4,1196 312,1193.9 314.6,1191.9 317.1,1190 319.7,1188.2 322.3,1186.5 324.9,1185 327.5,1183.5 330.1,1182.2 332.7,1181 335.3,1179.9 337.9,1179 340.5,1178.2 343.1,1177.5 345.7,1176.9 348.3,1176.5 350.9,1176.2 353.5,1176 356.1,1175.9 358.7,1175.9 361.3,1176 363.9,1176.2 366.5,1176.4 369.1,1176.7 371.7,1177 374.3,1177.3 376.9,1177.6 379.5,1177.9 382.1,1178.2 384.7,1178.5 387.3,1178.6 389.9,1178.8 392.5,1178.9 395.1,1178.9 397.7,1178.8 400.3,1178.7 402.9,1178.5 405.5,1178.2 408.1,1177.8 410.7,1177.2 413.3,1176.5 415.9,1175.7 418.5,1174.8 421.1,1173.8 423.7,1172.7 426.3,1171.5 428.9,1170.3 431.5,1168.9 434.1,1167.5 436.7,1166 439.3,1164.3 441.9,1162.6 444.5,1160.7 447,1158.7 449.6,1156.5 452.2,1154.2 454.8,1151.7 457.4,1149 460,1146.1 462.6,1143.1 465.2,1139.9 467.8,1136.5 470.4,1133 473,1129.3 475.6,1125.3 478.2,1121.3 480.8,1117 483.4,1112.6 486,1108.1 488.6,1103.4 491.2,1098.7 493.8,1093.8 496.4,1088.9 499,1083.9 501.6,1078.8 504.2,1073.7 506.8,1068.5 509.4,1063.3 512,1058 514.6,1052.8 517.2,1047.4 519.8,1042 522.4,1036.5 525,1031 527.6,1025.3 530.2,1019.5 532.8,1013.5 535.4,1007.4 538,1001.1 540.6,994.6 543.2,987.9 545.8,981.1 548.4,974.1 551,967 553.6,959.7 556.2,952.3 558.8,944.8 561.4,937.2 564,929.4 566.6,921.6 569.2,913.8 571.8,905.9 574.4,898 576.9,890.2 579.5,882.4 582.1,874.7 584.7,867.2 587.3,859.8 589.9,852.6 592.5,845.6 595.1,838.9 597.7,832.5 600.3,826.5 602.9,820.9 605.5,815.8 608.1,811.2 610.7,807.2 613.3,803.7 615.9,800.9 618.5,798.7 621.1,797.2 623.7,796.3 626.3,796 628.9,796.3 631.5,797.2 634.1,798.7 636.7,800.8 639.3,803.5 641.9,806.8 644.5,810.8 647.1,815.4 649.7,820.7 652.3,826.8 654.9,833.6 657.5,841.2 660.1,849.6 662.7,858.7 665.3,868.4 667.9,878.7 670.5,889.4 673.1,900.6 675.7,912.3 678.3,924.4 680.9,936.8 683.5,949.7 686.1,962.9 688.7,976.4 691.3,990.1 693.9,1004.1 696.5,1018.2 699.1,1032.3 701.7,1046.4 704.3,1060.3 706.8,1074.1 709.4,1087.5 712,1100.5 714.6,1113.1 717.2,1125.2 719.8,1136.7 722.4,1147.7 725,1158.1 727.6,1167.9 730.2,1177.1 732.8,1185.6 735.4,1193.5 738,1200.8 740.6,1207.3 743.2,1213.2 745.8,1218.2 748.4,1222.5 751,1226 753.6,1228.9 756.2,1231.2 758.8,1232.9 761.4,1234.1 764,1235 766.6,1235.6 769.2,1236.1 771.8,1236.4"/>
</g>
<text class="tk" transform="translate(251.4,1315.1) scale(0.92,1)" text-anchor="middle">0</text>
<text class="tk" transform="translate(355.3,1315.1) scale(0.92,1)" text-anchor="middle">20</text>
<text class="tk" transform="translate(459.2,1315.1) scale(0.92,1)" text-anchor="middle">40</text>
<text class="tk" transform="translate(563.2,1315.1) scale(0.92,1)" text-anchor="middle">60</text>
<text class="tk" transform="translate(667.1,1315.1) scale(0.92,1)" text-anchor="middle">80</text>
<text class="tk" transform="translate(771,1315.1) scale(0.92,1)" text-anchor="middle">100</text>
<text class="tk" transform="translate(239,1287.1) scale(0.92,1)" text-anchor="end">-10</text>
<text class="tk" transform="translate(239,1232.8) scale(0.92,1)" text-anchor="end">0</text>
<text class="tk" transform="translate(239,1178.5) scale(0.92,1)" text-anchor="end">10</text>
<text class="tk" transform="translate(239,1124.2) scale(0.92,1)" text-anchor="end">20</text>
<text class="tk" transform="translate(239,1069.9) scale(0.92,1)" text-anchor="end">30</text>
<text class="tk" transform="translate(239,1015.6) scale(0.92,1)" text-anchor="end">40</text>
<text class="tk" transform="translate(239,961.3) scale(0.92,1)" text-anchor="end">50</text>
<text class="tk" transform="translate(239,907) scale(0.92,1)" text-anchor="end">60</text>
<text class="tk" transform="translate(239,852.7) scale(0.92,1)" text-anchor="end">70</text>
<text class="tk" transform="translate(239,798.4) scale(0.92,1)" text-anchor="end">80</text>
<text class="tk" transform="translate(239,744.1) scale(0.92,1)" text-anchor="end">90</text>
<text class="lb" transform="translate(183,1001.5) rotate(-90)" text-anchor="middle">Flexion (+) / Extension (-) [°]</text></g>
<g class="r2"><clipPath id="c22"><rect x="931.6" y="730.5" width="526.7" height="549"/></clipPath>
<rect class="ax" x="934.6" y="733.5" width="520.7" height="543"/>
<path class="ax" d="M1038.7,1276.5v-5.5M1038.7,733.5v5.5M1142.9,1276.5v-5.5M1142.9,733.5v5.5M1247,1276.5v-5.5M1247,733.5v5.5M1351.2,1276.5v-5.5M1351.2,733.5v5.5M934.6,1222.2h5.5M1455.3,1222.2h-5.5M934.6,1167.9h5.5M1455.3,1167.9h-5.5M934.6,1113.6h5.5M1455.3,1113.6h-5.5M934.6,1059.3h5.5M1455.3,1059.3h-5.5M934.6,1005h5.5M1455.3,1005h-5.5M934.6,950.7h5.5M1455.3,950.7h-5.5M934.6,896.4h5.5M1455.3,896.4h-5.5M934.6,842.1h5.5M1455.3,842.1h-5.5M934.6,787.8h5.5M1455.3,787.8h-5.5"/>
<g clip-path="url(#c22)">
<path class="imu" d="M934.6,1016.9 937.2,1016.8 939.8,1016.8 942.4,1016.8 945,1016.8 947.6,1016.9 950.2,1017.1 952.8,1017.4 955.4,1017.7 958,1018.1 960.6,1018.5 963.2,1018.9 965.8,1019.3 968.4,1019.7 971,1020.1 973.7,1020.4 976.3,1020.7 978.9,1021 981.5,1021.2 984.1,1021.4 986.7,1021.5 989.3,1021.6 991.9,1021.7 994.5,1021.7 997.1,1021.7 999.7,1021.6 1002.3,1021.6 1004.9,1021.5 1007.5,1021.4 1010.1,1021.4 1012.7,1021.3 1015.3,1021.3 1017.9,1021.2 1020.5,1021.2 1023.1,1021.1 1025.7,1021.1 1028.3,1021 1030.9,1021 1033.5,1020.9 1036.1,1020.8 1038.7,1020.7 1041.3,1020.6 1043.9,1020.5 1046.6,1020.4 1049.2,1020.3 1051.8,1020.1 1054.4,1019.9 1057,1019.7 1059.6,1019.5 1062.2,1019.3 1064.8,1019.1 1067.4,1018.9 1070,1018.6 1072.6,1018.4 1075.2,1018.1 1077.8,1017.8 1080.4,1017.6 1083,1017.3 1085.6,1017 1088.2,1016.7 1090.8,1016.4 1093.4,1016.1 1096,1015.8 1098.6,1015.6 1101.2,1015.3 1103.8,1015 1106.4,1014.7 1109,1014.4 1111.6,1014.1 1114.2,1013.7 1116.8,1013.4 1119.4,1013 1122.1,1012.7 1124.7,1012.3 1127.3,1011.9 1129.9,1011.6 1132.5,1011.2 1135.1,1010.8 1137.7,1010.5 1140.3,1010.2 1142.9,1009.9 1145.5,1009.7 1148.1,1009.6 1150.7,1009.5 1153.3,1009.4 1155.9,1009.5 1158.5,1009.6 1161.1,1009.8 1163.7,1010 1166.3,1010.4 1168.9,1010.8 1171.5,1011.4 1174.1,1012 1176.7,1012.8 1179.3,1013.6 1181.9,1014.4 1184.5,1015.3 1187.1,1016.2 1189.7,1017.1 1192.3,1018 1195,1018.8 1197.6,1019.6 1200.2,1020.4 1202.8,1021.1 1205.4,1021.7 1208,1022.2 1210.6,1022.6 1213.2,1023 1215.8,1023.3 1218.4,1023.4 1221,1023.4 1223.6,1023.3 1226.2,1023.1 1228.8,1022.7 1231.4,1022.3 1234,1021.7 1236.6,1021 1239.2,1020.3 1241.8,1019.6 1244.4,1018.9 1247,1018.2 1249.6,1017.6 1252.2,1017 1254.8,1016.5 1257.4,1016.1 1260,1015.7 1262.6,1015.3 1265.2,1015 1267.8,1014.7 1270.5,1014.5 1273.1,1014.2 1275.7,1013.9 1278.3,1013.7 1280.9,1013.4 1283.5,1013.1 1286.1,1012.7 1288.7,1012.4 1291.3,1012 1293.9,1011.5 1296.5,1011 1299.1,1010.4 1301.7,1009.6 1304.3,1008.8 1306.9,1008 1309.5,1007 1312.1,1006 1314.7,1004.9 1317.3,1003.7 1319.9,1002.5 1322.5,1001.3 1325.1,1000.2 1327.7,999.2 1330.3,998.3 1332.9,997.4 1335.5,996.8 1338.1,996.2 1340.7,995.9 1343.3,995.8 1346,995.9 1348.6,996.3 1351.2,997 1353.8,998 1356.4,999.2 1359,1000.7 1361.6,1002.3 1364.2,1004 1366.8,1005.9 1369.4,1007.8 1372,1009.7 1374.6,1011.5 1377.2,1013.3 1379.8,1014.9 1382.4,1016.3 1385,1017.4 1387.6,1018.4 1390.2,1019.1 1392.8,1019.6 1395.4,1019.8 1398,1019.9 1400.6,1019.9 1403.2,1019.7 1405.8,1019.4 1408.4,1019 1411,1018.5 1413.6,1018 1416.2,1017.5 1418.9,1017 1421.5,1016.5 1424.1,1016.1 1426.7,1015.7 1429.3,1015.4 1431.9,1015.1 1434.5,1014.9 1437.1,1014.8 1439.7,1014.6 1442.3,1014.5 1444.9,1014.5 1447.5,1014.4 1450.1,1014.3 1452.7,1014.3 1455.3,1014.2"/>
<path class="vivo" d="M934.6,1007.7 937.2,1007.3 939.8,1006.9 942.4,1006.5 945,1006.2 947.6,1005.9 950.2,1005.8 952.8,1005.8 955.4,1005.9 958,1006.3 960.6,1007 963.2,1008 965.8,1009.2 968.4,1010.5 971,1011.7 973.7,1012.7 976.3,1013.3 978.9,1013.5 981.5,1013.3 984.1,1013 986.7,1012.7 989.3,1012.5 991.9,1012.5 994.5,1012.5 997.1,1012.5 999.7,1012.4 1002.3,1012.3 1004.9,1012 1007.5,1011.6 1010.1,1011.2 1012.7,1010.7 1015.3,1010.4 1017.9,1010.1 1020.5,1009.9 1023.1,1009.7 1025.7,1009.6 1028.3,1009.6 1030.9,1009.6 1033.5,1009.8 1036.1,1010.2 1038.7,1011 1041.3,1012.1 1043.9,1013.1 1046.6,1013.5 1049.2,1013.2 1051.8,1012.6 1054.4,1011.9 1057,1011 1059.6,1010.2 1062.2,1009.5 1064.8,1008.8 1067.4,1008.2 1070,1007.7 1072.6,1007.3 1075.2,1007 1077.8,1006.8 1080.4,1006.6 1083,1006.6 1085.6,1006.5 1088.2,1006.6 1090.8,1006.6 1093.4,1006.7 1096,1006.8 1098.6,1006.8 1101.2,1006.7 1103.8,1006.4 1106.4,1006 1109,1005.4 1111.6,1004.7 1114.2,1003.9 1116.8,1003.1 1119.4,1002.5 1122.1,1001.9 1124.7,1001.4 1127.3,1001 1129.9,1000.7 1132.5,1000.4 1135.1,1000.1 1137.7,999.9 1140.3,999.7 1142.9,999.6 1145.5,999.5 1148.1,999.5 1150.7,999.5 1153.3,999.6 1155.9,999.8 1158.5,1000.1 1161.1,1000.5 1163.7,1001 1166.3,1001.5 1168.9,1002 1171.5,1002.6 1174.1,1003.2 1176.7,1003.8 1179.3,1004.4 1181.9,1005.1 1184.5,1005.8 1187.1,1006.6 1189.7,1007.3 1192.3,1008.1 1195,1008.8 1197.6,1009.4 1200.2,1010.1 1202.8,1010.7 1205.4,1011.5 1208,1012.4 1210.6,1013.5 1213.2,1014.8 1215.8,1016.2 1218.4,1017.2 1221,1017.9 1223.6,1017.9 1226.2,1017.3 1228.8,1016.4 1231.4,1015.4 1234,1014.3 1236.6,1013.3 1239.2,1012.2 1241.8,1011.3 1244.4,1010.4 1247,1009.6 1249.6,1009 1252.2,1008.4 1254.8,1007.9 1257.4,1007.4 1260,1007 1262.6,1006.6 1265.2,1006.2 1267.8,1005.8 1270.5,1005.4 1273.1,1005 1275.7,1004.5 1278.3,1004 1280.9,1003.5 1283.5,1003.2 1286.1,1002.9 1288.7,1002.9 1291.3,1003.1 1293.9,1003.4 1296.5,1003.7 1299.1,1003.9 1301.7,1003.9 1304.3,1003.7 1306.9,1003.3 1309.5,1002.5 1312.1,1001.5 1314.7,1000 1317.3,998.2 1319.9,996.2 1322.5,994.2 1325.1,992.3 1327.7,990.7 1330.3,989.4 1332.9,988.5 1335.5,988.1 1338.1,988.2 1340.7,988.9 1343.3,990.4 1346,992.4 1348.6,994.6 1351.2,996.7 1353.8,998.3 1356.4,999.6 1359,1000.7 1361.6,1001.7 1364.2,1002.8 1366.8,1004.1 1369.4,1005.7 1372,1007.4 1374.6,1009 1377.2,1010.3 1379.8,1011 1382.4,1011.4 1385,1011.3 1387.6,1011.1 1390.2,1010.8 1392.8,1010.5 1395.4,1010.4 1398,1010.3 1400.6,1010.4 1403.2,1010.4 1405.8,1010.4 1408.4,1010.4 1411,1010.4 1413.6,1010.2 1416.2,1009.9 1418.9,1009.6 1421.5,1009.1 1424.1,1008.6 1426.7,1008.1 1429.3,1007.8 1431.9,1007.6 1434.5,1007.7 1437.1,1007.9 1439.7,1008.1 1442.3,1008.3 1444.9,1008.5 1447.5,1008.6 1450.1,1008.6 1452.7,1008.6 1455.3,1008.5"/>
</g>
<text class="tk" transform="translate(933.8,1315.1) scale(0.92,1)" text-anchor="middle">0</text>
<text class="tk" transform="translate(1037.9,1315.1) scale(0.92,1)" text-anchor="middle">20</text>
<text class="tk" transform="translate(1142.1,1315.1) scale(0.92,1)" text-anchor="middle">40</text>
<text class="tk" transform="translate(1246.2,1315.1) scale(0.92,1)" text-anchor="middle">60</text>
<text class="tk" transform="translate(1350.4,1315.1) scale(0.92,1)" text-anchor="middle">80</text>
<text class="tk" transform="translate(1454.5,1315.1) scale(0.92,1)" text-anchor="middle">100</text>
<text class="tk" transform="translate(921.4,1287.1) scale(0.92,1)" text-anchor="end">-10</text>
<text class="tk" transform="translate(921.4,1232.8) scale(0.92,1)" text-anchor="end">-8</text>
<text class="tk" transform="translate(921.4,1178.5) scale(0.92,1)" text-anchor="end">-6</text>
<text class="tk" transform="translate(921.4,1124.2) scale(0.92,1)" text-anchor="end">-4</text>
<text class="tk" transform="translate(921.4,1069.9) scale(0.92,1)" text-anchor="end">-2</text>
<text class="tk" transform="translate(921.4,1015.6) scale(0.92,1)" text-anchor="end">0</text>
<text class="tk" transform="translate(921.4,961.3) scale(0.92,1)" text-anchor="end">2</text>
<text class="tk" transform="translate(921.4,907) scale(0.92,1)" text-anchor="end">4</text>
<text class="tk" transform="translate(921.4,852.7) scale(0.92,1)" text-anchor="end">6</text>
<text class="tk" transform="translate(921.4,798.4) scale(0.92,1)" text-anchor="end">8</text>
<text class="tk" transform="translate(921.4,744.1) scale(0.92,1)" text-anchor="end">10</text>
<text class="lb" transform="translate(865.4,1005.4) rotate(-90)" text-anchor="middle">Adduction (+) / Abduction (-) [°]</text></g>
<g class="r2"><clipPath id="c23"><rect x="1616.2" y="730.5" width="525.6" height="549"/></clipPath>
<rect class="ax" x="1619.2" y="733.5" width="519.6" height="543"/>
<path class="ax" d="M1723.1,1276.5v-5.5M1723.1,733.5v5.5M1827,1276.5v-5.5M1827,733.5v5.5M1931,1276.5v-5.5M1931,733.5v5.5M2034.9,1276.5v-5.5M2034.9,733.5v5.5M1619.2,1222.2h5.5M2138.8,1222.2h-5.5M1619.2,1167.9h5.5M2138.8,1167.9h-5.5M1619.2,1113.6h5.5M2138.8,1113.6h-5.5M1619.2,1059.3h5.5M2138.8,1059.3h-5.5M1619.2,1005h5.5M2138.8,1005h-5.5M1619.2,950.7h5.5M2138.8,950.7h-5.5M1619.2,896.4h5.5M2138.8,896.4h-5.5M1619.2,842.1h5.5M2138.8,842.1h-5.5M1619.2,787.8h5.5M2138.8,787.8h-5.5"/>
<g clip-path="url(#c23)">
<path class="imu" d="M1619.2,1019.1 1621.8,1022.1 1624.4,1025.2 1627,1028.3 1629.6,1031.4 1632.2,1034.5 1634.8,1037.6 1637.4,1040.4 1640,1042.9 1642.6,1045 1645.2,1046.6 1647.8,1047.8 1650.4,1048.5 1653,1048.9 1655.6,1048.9 1658.2,1048.5 1660.8,1047.8 1663.4,1046.8 1666,1045.5 1668.6,1043.9 1671.2,1042.3 1673.8,1040.5 1676.4,1038.6 1679,1036.7 1681.6,1034.7 1684.2,1032.8 1686.7,1030.9 1689.3,1029.2 1691.9,1027.5 1694.5,1025.8 1697.1,1024.3 1699.7,1022.8 1702.3,1021.5 1704.9,1020.1 1707.5,1018.8 1710.1,1017.5 1712.7,1016.3 1715.3,1015.1 1717.9,1013.9 1720.5,1012.7 1723.1,1011.6 1725.7,1010.5 1728.3,1009.6 1730.9,1008.7 1733.5,1007.9 1736.1,1007.1 1738.7,1006.5 1741.3,1005.9 1743.9,1005.5 1746.5,1005.2 1749.1,1005 1751.7,1005.1 1754.3,1005.5 1756.9,1006.1 1759.5,1007 1762.1,1008.3 1764.7,1009.8 1767.3,1011.5 1769.9,1013.3 1772.5,1015.2 1775.1,1017 1777.7,1018.7 1780.3,1020.4 1782.9,1021.9 1785.5,1023.3 1788.1,1024.6 1790.7,1025.6 1793.3,1026.5 1795.9,1027.2 1798.5,1027.7 1801.1,1028 1803.7,1028 1806.3,1027.9 1808.9,1027.5 1811.5,1026.9 1814.1,1026.2 1816.6,1025.4 1819.2,1024.4 1821.8,1023.4 1824.4,1022.2 1827,1021.1 1829.6,1019.9 1832.2,1018.7 1834.8,1017.6 1837.4,1016.4 1840,1015.3 1842.6,1014.3 1845.2,1013.3 1847.8,1012.4 1850.4,1011.6 1853,1010.8 1855.6,1010 1858.2,1009.3 1860.8,1008.5 1863.4,1007.7 1866,1006.8 1868.6,1005.7 1871.2,1004.6 1873.8,1003.2 1876.4,1001.7 1879,999.9 1881.6,998 1884.2,995.9 1886.8,993.6 1889.4,991.2 1892,988.7 1894.6,986.1 1897.2,983.5 1899.8,980.7 1902.4,977.9 1905,975 1907.6,972.1 1910.2,969.1 1912.8,966.2 1915.4,963.3 1918,960.5 1920.6,957.9 1923.2,955.4 1925.8,953.1 1928.4,951 1931,949.1 1933.6,947.4 1936.2,945.9 1938.8,944.5 1941.4,943.1 1944,941.7 1946.5,940.2 1949.1,938.5 1951.7,936.7 1954.3,934.8 1956.9,932.7 1959.5,930.4 1962.1,928 1964.7,925.4 1967.3,922.8 1969.9,920 1972.5,917.2 1975.1,914.4 1977.7,911.5 1980.3,908.7 1982.9,906 1985.5,903.5 1988.1,901.1 1990.7,898.9 1993.3,896.9 1995.9,895.1 1998.5,893.6 2001.1,892.3 2003.7,891.3 2006.3,890.7 2008.9,890.4 2011.5,890.6 2014.1,891.3 2016.7,892.6 2019.3,894.4 2021.9,896.9 2024.5,900 2027.1,903.8 2029.7,908.3 2032.3,913.4 2034.9,919.1 2037.5,925.3 2040.1,931.8 2042.7,938.6 2045.3,945.6 2047.9,952.6 2050.5,959.7 2053.1,966.7 2055.7,973.5 2058.3,980.1 2060.9,986.2 2063.5,991.9 2066.1,997.1 2068.7,1001.7 2071.3,1005.7 2073.9,1009.2 2076.4,1012 2079,1014.3 2081.6,1016 2084.2,1017.1 2086.8,1017.6 2089.4,1017.6 2092,1017.1 2094.6,1016.3 2097.2,1015.1 2099.8,1013.7 2102.4,1012.1 2105,1010.6 2107.6,1009.1 2110.2,1007.9 2112.8,1006.9 2115.4,1006.3 2118,1006.1 2120.6,1006.2 2123.2,1006.8 2125.8,1007.8 2128.4,1009.1 2131,1010.7 2133.6,1012.6 2136.2,1014.7 2138.8,1016.9"/>
<path class="vivo" d="M1619.2,1021 1621.8,1025.6 1624.4,1029.6 1627,1032.7 1629.6,1034.4 1632.2,1034.9 1634.8,1034.6 1637.4,1033.8 1640,1032.6 1642.6,1030.9 1645.2,1028.8 1647.8,1026.2 1650.4,1023.2 1653,1019.8 1655.6,1016.6 1658.2,1014.2 1660.8,1013.4 1663.4,1014.5 1666,1016.6 1668.6,1018.6 1671.2,1019.5 1673.8,1019.3 1676.4,1017.9 1679,1015.3 1681.6,1011.7 1684.2,1007.7 1686.7,1003.9 1689.3,1000.9 1691.9,998.6 1694.5,996.9 1697.1,995.5 1699.7,994.6 1702.3,993.9 1704.9,993.6 1707.5,993.5 1710.1,993.7 1712.7,994.1 1715.3,994.7 1717.9,995.5 1720.5,996.2 1723.1,996.9 1725.7,997.3 1728.3,997.4 1730.9,996.7 1733.5,995 1736.1,992.1 1738.7,988.4 1741.3,984.4 1743.9,980.6 1746.5,977.5 1749.1,975.5 1751.7,975.1 1754.3,976.7 1756.9,980 1759.5,984.9 1762.1,991.2 1764.7,998.3 1767.3,1005.5 1769.9,1011.5 1772.5,1015.5 1775.1,1017.2 1777.7,1016.9 1780.3,1015 1782.9,1012.4 1785.5,1009.6 1788.1,1007.3 1790.7,1005.7 1793.3,1004.6 1795.9,1004.3 1798.5,1004.7 1801.1,1005.8 1803.7,1007.6 1806.3,1009.7 1808.9,1011.6 1811.5,1012.6 1814.1,1012.4 1816.6,1010.8 1819.2,1007.7 1821.8,1003.3 1824.4,998.3 1827,993.6 1829.6,990.3 1832.2,989.1 1834.8,989.5 1837.4,990.9 1840,992.7 1842.6,994.1 1845.2,994.8 1847.8,994.7 1850.4,993.8 1853,992.2 1855.6,990.2 1858.2,987.8 1860.8,985.3 1863.4,982.8 1866,980.7 1868.6,978.9 1871.2,977.8 1873.8,977 1876.4,976.2 1879,975.1 1881.6,973.5 1884.2,971.6 1886.8,969.4 1889.4,967.3 1892,965.3 1894.6,963.4 1897.2,961.3 1899.8,958.9 1902.4,955.9 1905,952.1 1907.6,947.8 1910.2,943 1912.8,938 1915.4,932.8 1918,927.7 1920.6,923.6 1923.2,921.1 1925.8,921.1 1928.4,924 1931,928.5 1933.6,932.8 1936.2,935.4 1938.8,936.5 1941.4,936.6 1944,936.2 1946.5,935.2 1949.1,933.4 1951.7,930.5 1954.3,926.5 1956.9,921.1 1959.5,914.3 1962.1,906.9 1964.7,899.9 1967.3,894.2 1969.9,889.9 1972.5,887.1 1975.1,885.7 1977.7,885.8 1980.3,887.3 1982.9,889.6 1985.5,892.1 1988.1,894.2 1990.7,895.4 1993.3,895.7 1995.9,895.3 1998.5,894.2 2001.1,892.7 2003.7,890.8 2006.3,888.5 2008.9,885.8 2011.5,882.8 2014.1,879.6 2016.7,876.5 2019.3,874.1 2021.9,873.1 2024.5,873.6 2027.1,875.6 2029.7,878.8 2032.3,883 2034.9,889 2037.5,898 2040.1,910.3 2042.7,923 2045.3,933.8 2047.9,944.2 2050.5,956 2053.1,968.2 2055.7,978.9 2058.3,986.9 2060.9,992.4 2063.5,996 2066.1,998.2 2068.7,999.7 2071.3,1000.7 2073.9,1001.4 2076.4,1001.7 2079,1002 2081.6,1002.2 2084.2,1002.5 2086.8,1002.8 2089.4,1003.2 2092,1002.8 2094.6,1001.3 2097.2,998.7 2099.8,995.5 2102.4,992.2 2105,989.1 2107.6,986.3 2110.2,983.8 2112.8,981.6 2115.4,979.8 2118,978.3 2120.6,977.6 2123.2,978.1 2125.8,980.2 2128.4,984.2 2131,990.3 2133.6,998.6 2136.2,1008.5 2138.8,1019.1"/>
</g>
<text class="tk" transform="translate(1618.4,1315.1) scale(0.92,1)" text-anchor="middle">0</text>
<text class="tk" transform="translate(1722.3,1315.1) scale(0.92,1)" text-anchor="middle">20</text>
<text class="tk" transform="translate(1826.2,1315.1) scale(0.92,1)" text-anchor="middle">40</text>
<text class="tk" transform="translate(1930.2,1315.1) scale(0.92,1)" text-anchor="middle">60</text>
<text class="tk" transform="translate(2034.1,1315.1) scale(0.92,1)" text-anchor="middle">80</text>
<text class="tk" transform="translate(2138,1315.1) scale(0.92,1)" text-anchor="middle">100</text>
<text class="tk" transform="translate(1606,1287.1) scale(0.92,1)" text-anchor="end">-10</text>
<text class="tk" transform="translate(1606,1232.8) scale(0.92,1)" text-anchor="end">-8</text>
<text class="tk" transform="translate(1606,1178.5) scale(0.92,1)" text-anchor="end">-6</text>
<text class="tk" transform="translate(1606,1124.2) scale(0.92,1)" text-anchor="end">-4</text>
<text class="tk" transform="translate(1606,1069.9) scale(0.92,1)" text-anchor="end">-2</text>
<text class="tk" transform="translate(1606,1015.6) scale(0.92,1)" text-anchor="end">0</text>
<text class="tk" transform="translate(1606,961.3) scale(0.92,1)" text-anchor="end">2</text>
<text class="tk" transform="translate(1606,907) scale(0.92,1)" text-anchor="end">4</text>
<text class="tk" transform="translate(1606,852.7) scale(0.92,1)" text-anchor="end">6</text>
<text class="tk" transform="translate(1606,798.4) scale(0.92,1)" text-anchor="end">8</text>
<text class="tk" transform="translate(1606,744.1) scale(0.92,1)" text-anchor="end">10</text>
<text class="lb" transform="translate(1550,1002.4) rotate(-90)" text-anchor="middle">Internal (+) / External (-) Tibial Rotation [°]</text>
<rect class="lg" x="1954.6" y="752.3" width="166.2" height="71.1"/>
<path class="imu" d="M1965.1,772.5h82.1"/>
<path class="vivo" d="M1965.1,803.5h82.1"/>
<text class="lt" x="2055.8" y="781.5">IMU</text>
<text class="lt" x="2055.8" y="812.4">VIVO</text></g>
<text class="ti" transform="translate(81.7,1712.9) rotate(-90)" textLength="205" lengthAdjust="spacingAndGlyphs">Subject 3</text>
<g class="r3"><clipPath id="c31"><rect x="249.2" y="1340" width="525.6" height="549"/></clipPath>
<rect class="ax" x="252.2" y="1343" width="519.6" height="543"/>
<path class="ax" d="M356.1,1886v-5.5M356.1,1343v5.5M460,1886v-5.5M460,1343v5.5M564,1886v-5.5M564,1343v5.5M667.9,1886v-5.5M667.9,1343v5.5M252.2,1831.7h5.5M771.8,1831.7h-5.5M252.2,1777.4h5.5M771.8,1777.4h-5.5M252.2,1723.1h5.5M771.8,1723.1h-5.5M252.2,1668.8h5.5M771.8,1668.8h-5.5M252.2,1614.5h5.5M771.8,1614.5h-5.5M252.2,1560.2h5.5M771.8,1560.2h-5.5M252.2,1505.9h5.5M771.8,1505.9h-5.5M252.2,1451.6h5.5M771.8,1451.6h-5.5M252.2,1397.3h5.5M771.8,1397.3h-5.5"/>
<g clip-path="url(#c31)">
<path class="imu" d="M252.2,1812.9 254.8,1809.7 257.4,1806.4 260,1803.2 262.6,1799.8 265.2,1796.4 267.8,1793 270.4,1789.4 273,1785.7 275.6,1782 278.2,1778.1 280.8,1774.1 283.4,1770 286,1765.9 288.6,1761.8 291.2,1757.7 293.8,1753.6 296.4,1749.7 299,1745.8 301.6,1742.1 304.2,1738.5 306.8,1735.1 309.4,1731.9 312,1728.9 314.6,1726.1 317.1,1723.5 319.7,1721.1 322.3,1718.9 324.9,1716.9 327.5,1715.1 330.1,1713.5 332.7,1712 335.3,1710.8 337.9,1709.7 340.5,1708.8 343.1,1708 345.7,1707.3 348.3,1706.7 350.9,1706.1 353.5,1705.7 356.1,1705.3 358.7,1705 361.3,1704.7 363.9,1704.4 366.5,1704.1 369.1,1703.8 371.7,1703.5 374.3,1703.2 376.9,1702.7 379.5,1702.2 382.1,1701.6 384.7,1700.9 387.3,1700.1 389.9,1699.2 392.5,1698.2 395.1,1697.1 397.7,1695.9 400.3,1694.7 402.9,1693.4 405.5,1692.1 408.1,1690.8 410.7,1689.4 413.3,1688 415.9,1686.5 418.5,1685 421.1,1683.4 423.7,1681.7 426.3,1680 428.9,1678.1 431.5,1676.2 434.1,1674.2 436.7,1672.1 439.3,1669.9 441.9,1667.6 444.5,1665.2 447,1662.8 449.6,1660.3 452.2,1657.7 454.8,1655.1 457.4,1652.3 460,1649.5 462.6,1646.6 465.2,1643.5 467.8,1640.4 470.4,1637.3 473,1634 475.6,1630.7 478.2,1627.4 480.8,1624.1 483.4,1620.8 486,1617.5 488.6,1614.2 491.2,1611 493.8,1607.8 496.4,1604.6 499,1601.5 501.6,1598.4 504.2,1595.3 506.8,1592.2 509.4,1589.1 512,1586 514.6,1582.9 517.2,1579.6 519.8,1576.3 522.4,1572.8 525,1569.2 527.6,1565.3 530.2,1561.1 532.8,1556.7 535.4,1551.8 538,1546.6 540.6,1540.8 543.2,1534.7 545.8,1528.1 548.4,1521.2 551,1513.9 553.6,1506.4 556.2,1498.6 558.8,1490.7 561.4,1482.6 564,1474.3 566.6,1465.9 569.2,1457.6 571.8,1449.3 574.4,1441.3 576.9,1433.5 579.5,1426 582.1,1418.9 584.7,1412.2 587.3,1405.9 589.9,1400.2 592.5,1395 595.1,1390.4 597.7,1386.5 600.3,1383.2 602.9,1380.5 605.5,1378.6 608.1,1377.3 610.7,1376.7 613.3,1376.8 615.9,1377.4 618.5,1378.7 621.1,1380.6 623.7,1383 626.3,1386 628.9,1389.4 631.5,1393.4 634.1,1397.8 636.7,1402.7 639.3,1408.2 641.9,1414.1 644.5,1420.6 647.1,1427.5 649.7,1434.9 652.3,1442.6 654.9,1450.8 657.5,1459.3 660.1,1468 662.7,1477.1 665.3,1486.5 667.9,1496.1 670.5,1506.1 673.1,1516.4 675.7,1526.9 678.3,1537.8 680.9,1549 683.5,1560.6 686.1,1572.4 688.7,1584.5 691.3,1596.8 693.9,1609.2 696.5,1621.6 699.1,1634 701.7,1646.3 704.3,1658.6 706.8,1670.8 709.4,1682.8 712,1694.6 714.6,1706.2 717.2,1717.5 719.8,1728.4 722.4,1738.8 725,1748.7 727.6,1758 730.2,1766.7 732.8,1774.7 735.4,1781.9 738,1788.4 740.6,1794 743.2,1798.9 745.8,1803 748.4,1806.4 751,1809.2 753.6,1811.3 756.2,1812.8 758.8,1813.8 761.4,1814.4 764,1814.7 766.6,1814.7 769.2,1814.5 771.8,1814.2"/>
<path class="vivo" d="M252.2,1811.6 254.8,1808.4 257.4,1805.1 260,1801.8 262.6,1798.5 265.2,1795.1 267.8,1791.6 270.4,1787.9 273,1784.2 275.6,1780.4 278.2,1776.5 280.8,1772.5 283.4,1768.4 286,1764.2 288.6,1760.1 291.2,1756 293.8,1752 296.4,1748.1 299,1744.3 301.6,1740.6 304.2,1737.1 306.8,1733.8 309.4,1730.7 312,1727.8 314.6,1725 317.1,1722.5 319.7,1720.1 322.3,1718 324.9,1716.1 327.5,1714.4 330.1,1712.9 332.7,1711.5 335.3,1710.4 337.9,1709.3 340.5,1708.4 343.1,1707.7 345.7,1707 348.3,1706.4 350.9,1705.9 353.5,1705.5 356.1,1705.1 358.7,1704.8 361.3,1704.6 363.9,1704.3 366.5,1704 369.1,1703.7 371.7,1703.4 374.3,1703 376.9,1702.6 379.5,1702 382.1,1701.4 384.7,1700.6 387.3,1699.7 389.9,1698.8 392.5,1697.8 395.1,1696.6 397.7,1695.5 400.3,1694.2 402.9,1692.9 405.5,1691.6 408.1,1690.2 410.7,1688.8 413.3,1687.4 415.9,1685.9 418.5,1684.3 421.1,1682.7 423.7,1681 426.3,1679.2 428.9,1677.4 431.5,1675.4 434.1,1673.3 436.7,1671.2 439.3,1669 441.9,1666.6 444.5,1664.3 447,1661.8 449.6,1659.3 452.2,1656.7 454.8,1654 457.4,1651.2 460,1648.4 462.6,1645.4 465.2,1642.3 467.8,1639.2 470.4,1636 473,1632.7 475.6,1629.4 478.2,1626.1 480.8,1622.8 483.4,1619.4 486,1616.1 488.6,1612.9 491.2,1609.7 493.8,1606.5 496.4,1603.3 499,1600.2 501.6,1597.1 504.2,1594 506.8,1591 509.4,1587.9 512,1584.7 514.6,1581.6 517.2,1578.3 519.8,1574.9 522.4,1571.4 525,1567.6 527.6,1563.7 530.2,1559.4 532.8,1554.8 535.4,1549.8 538,1544.3 540.6,1538.4 543.2,1532.1 545.8,1525.4 548.4,1518.3 551,1510.9 553.6,1503.3 556.2,1495.5 558.8,1487.4 561.4,1479.3 564,1471 566.6,1462.6 569.2,1454.3 571.8,1446.1 574.4,1438.1 576.9,1430.4 579.5,1423.1 582.1,1416.1 584.7,1409.6 587.3,1403.6 589.9,1398 592.5,1393.1 595.1,1388.8 597.7,1385.1 600.3,1382 602.9,1379.7 605.5,1378 608.1,1377 610.7,1376.7 613.3,1377 615.9,1377.9 618.5,1379.4 621.1,1381.5 623.7,1384.1 626.3,1387.3 628.9,1390.9 631.5,1395.1 634.1,1399.7 636.7,1404.8 639.3,1410.5 641.9,1416.6 644.5,1423.3 647.1,1430.4 649.7,1437.9 652.3,1445.9 654.9,1454.1 657.5,1462.7 660.1,1471.6 662.7,1480.8 665.3,1490.3 667.9,1500.1 670.5,1510.2 673.1,1520.6 675.7,1531.3 678.3,1542.3 680.9,1553.6 683.5,1565.3 686.1,1577.2 688.7,1589.4 691.3,1601.7 693.9,1614.1 696.5,1626.5 699.1,1638.9 701.7,1651.2 704.3,1663.5 706.8,1675.6 709.4,1687.6 712,1699.3 714.6,1710.8 717.2,1721.9 719.8,1732.6 722.4,1742.8 725,1752.5 727.6,1761.6 730.2,1770 732.8,1777.7 735.4,1784.6 738,1790.7 740.6,1796.1 743.2,1800.7 745.8,1804.5 748.4,1807.6 751,1810.1 753.6,1812 756.2,1813.3 758.8,1814.1 761.4,1814.5 764,1814.5 766.6,1814.4 769.2,1814.1 771.8,1813.7"/>
</g>
<text class="tk" transform="translate(251.4,1924.6) scale(0.92,1)" text-anchor="middle">0</text>
<text class="tk" transform="translate(355.3,1924.6) scale(0.92,1)" text-anchor="middle">20</text>
<text class="tk" transform="translate(459.2,1924.6) scale(0.92,1)" text-anchor="middle">40</text>
<text class="tk" transform="translate(563.2,1924.6) scale(0.92,1)" text-anchor="middle">60</text>
<text class="tk" transform="translate(667.1,1924.6) scale(0.92,1)" text-anchor="middle">80</text>
<text class="tk" transform="translate(771,1924.6) scale(0.92,1)" text-anchor="middle">100</text>
<text class="tk" transform="translate(239,1896.6) scale(0.92,1)" text-anchor="end">-10</text>
<text class="tk" transform="translate(239,1842.3) scale(0.92,1)" text-anchor="end">0</text>
<text class="tk" transform="translate(239,1788) scale(0.92,1)" text-anchor="end">10</text>
<text class="tk" transform="translate(239,1733.7) scale(0.92,1)" text-anchor="end">20</text>
<text class="tk" transform="translate(239,1679.4) scale(0.92,1)" text-anchor="end">30</text>
<text class="tk" transform="translate(239,1625.1) scale(0.92,1)" text-anchor="end">40</text>
<text class="tk" transform="translate(239,1570.8) scale(0.92,1)" text-anchor="end">50</text>
<text class="tk" transform="translate(239,1516.5) scale(0.92,1)" text-anchor="end">60</text>
<text class="tk" transform="translate(239,1462.2) scale(0.92,1)" text-anchor="end">70</text>
<text class="tk" transform="translate(239,1407.9) scale(0.92,1)" text-anchor="end">80</text>
<text class="tk" transform="translate(239,1353.6) scale(0.92,1)" text-anchor="end">90</text>
<text class="lb" transform="translate(183,1611) rotate(-90)" text-anchor="middle">Flexion (+) / Extension (-) [°]</text></g>
<g class="r3"><clipPath id="c32"><rect x="931.6" y="1340" width="526.7" height="549"/></clipPath>
<rect class="ax" x="934.6" y="1343" width="520.7" height="543"/>
<path class="ax" d="M1038.7,1886v-5.5M1038.7,1343v5.5M1142.9,1886v-5.5M1142.9,1343v5.5M1247,1886v-5.5M1247,1343v5.5M1351.2,1886v-5.5M1351.2,1343v5.5M934.6,1831.7h5.5M1455.3,1831.7h-5.5M934.6,1777.4h5.5M1455.3,1777.4h-5.5M934.6,1723.1h5.5M1455.3,1723.1h-5.5M934.6,1668.8h5.5M1455.3,1668.8h-5.5M934.6,1614.5h5.5M1455.3,1614.5h-5.5M934.6,1560.2h5.5M1455.3,1560.2h-5.5M934.6,1505.9h5.5M1455.3,1505.9h-5.5M934.6,1451.6h5.5M1455.3,1451.6h-5.5M934.6,1397.3h5.5M1455.3,1397.3h-5.5"/>
<g clip-path="url(#c32)">
<path class="imu" d="M934.6,1625.4 937.2,1625.1 939.8,1624.9 942.4,1624.8 945,1624.9 947.6,1625.2 950.2,1625.8 952.8,1626.6 955.4,1627.7 958,1628.9 960.6,1630.2 963.2,1631.7 965.8,1633.1 968.4,1634.6 971,1636 973.7,1637.3 976.3,1638.5 978.9,1639.6 981.5,1640.6 984.1,1641.4 986.7,1642.1 989.3,1642.7 991.9,1643.2 994.5,1643.6 997.1,1643.9 999.7,1644.2 1002.3,1644.5 1004.9,1644.8 1007.5,1645.1 1010.1,1645.4 1012.7,1645.7 1015.3,1646 1017.9,1646.2 1020.5,1646.4 1023.1,1646.5 1025.7,1646.6 1028.3,1646.6 1030.9,1646.6 1033.5,1646.4 1036.1,1646.2 1038.7,1645.8 1041.3,1645.3 1043.9,1644.7 1046.6,1643.9 1049.2,1643.1 1051.8,1642.2 1054.4,1641.3 1057,1640.4 1059.6,1639.5 1062.2,1638.7 1064.8,1638 1067.4,1637.4 1070,1636.9 1072.6,1636.7 1075.2,1636.5 1077.8,1636.6 1080.4,1636.8 1083,1637.2 1085.6,1637.7 1088.2,1638.4 1090.8,1639.2 1093.4,1640.1 1096,1641.1 1098.6,1642 1101.2,1642.9 1103.8,1643.8 1106.4,1644.5 1109,1645.1 1111.6,1645.6 1114.2,1645.9 1116.8,1646 1119.4,1646.1 1122.1,1646 1124.7,1645.8 1127.3,1645.7 1129.9,1645.4 1132.5,1645.2 1135.1,1644.9 1137.7,1644.7 1140.3,1644.6 1142.9,1644.5 1145.5,1644.5 1148.1,1644.7 1150.7,1644.9 1153.3,1645.2 1155.9,1645.6 1158.5,1646 1161.1,1646.4 1163.7,1646.9 1166.3,1647.4 1168.9,1647.9 1171.5,1648.3 1174.1,1648.8 1176.7,1649.2 1179.3,1649.6 1181.9,1650 1184.5,1650.3 1187.1,1650.7 1189.7,1651.1 1192.3,1651.6 1195,1652.3 1197.6,1653.2 1200.2,1654.3 1202.8,1655.6 1205.4,1657.1 1208,1658.9 1210.6,1660.9 1213.2,1663.1 1215.8,1665.4 1218.4,1667.8 1221,1670.2 1223.6,1672.5 1226.2,1674.8 1228.8,1676.8 1231.4,1678.6 1234,1680.1 1236.6,1681.2 1239.2,1681.8 1241.8,1682 1244.4,1681.7 1247,1680.9 1249.6,1679.5 1252.2,1677.6 1254.8,1675.4 1257.4,1672.8 1260,1670.1 1262.6,1667.3 1265.2,1664.5 1267.8,1661.7 1270.5,1659.2 1273.1,1656.8 1275.7,1654.7 1278.3,1652.9 1280.9,1651.3 1283.5,1650 1286.1,1648.8 1288.7,1647.7 1291.3,1646.6 1293.9,1645.5 1296.5,1644.3 1299.1,1643 1301.7,1641.7 1304.3,1640.3 1306.9,1638.8 1309.5,1637.4 1312.1,1636 1314.7,1634.7 1317.3,1633.4 1319.9,1632.3 1322.5,1631.3 1325.1,1630.5 1327.7,1629.8 1330.3,1629.3 1332.9,1628.8 1335.5,1628.3 1338.1,1627.8 1340.7,1627.2 1343.3,1626.5 1346,1625.7 1348.6,1624.8 1351.2,1623.9 1353.8,1622.9 1356.4,1621.9 1359,1621 1361.6,1620.2 1364.2,1619.6 1366.8,1619.2 1369.4,1619.2 1372,1619.6 1374.6,1620.3 1377.2,1621.6 1379.8,1623.3 1382.4,1625.4 1385,1627.8 1387.6,1630.5 1390.2,1633.2 1392.8,1635.9 1395.4,1638.5 1398,1641 1400.6,1643.2 1403.2,1645.1 1405.8,1646.6 1408.4,1647.7 1411,1648.4 1413.6,1648.5 1416.2,1648.2 1418.9,1647.5 1421.5,1646.3 1424.1,1644.7 1426.7,1642.8 1429.3,1640.6 1431.9,1638.2 1434.5,1635.8 1437.1,1633.5 1439.7,1631.2 1442.3,1629.1 1444.9,1627.2 1447.5,1625.6 1450.1,1624.2 1452.7,1623 1455.3,1621.8"/>
<path class="vivo" d="M934.6,1612.3 937.2,1607.8 939.8,1603.9 942.4,1601.2 945,1599.9 947.6,1600.2 950.2,1601.9 952.8,1605 955.4,1609 958,1613.4 960.6,1617.5 963.2,1620.5 965.8,1621.9 968.4,1622 971,1621.2 973.7,1619.9 976.3,1618.5 978.9,1616.9 981.5,1615.3 984.1,1613.9 986.7,1612.7 989.3,1611.8 991.9,1611.3 994.5,1611 997.1,1610.9 999.7,1610.9 1002.3,1610.9 1004.9,1610.9 1007.5,1610.9 1010.1,1610.8 1012.7,1610.8 1015.3,1610.9 1017.9,1611 1020.5,1611.3 1023.1,1611.6 1025.7,1612 1028.3,1612.3 1030.9,1612.6 1033.5,1612.7 1036.1,1612.7 1038.7,1612.5 1041.3,1612.1 1043.9,1611.5 1046.6,1610.6 1049.2,1609.4 1051.8,1608 1054.4,1606.3 1057,1604.5 1059.6,1602.5 1062.2,1600.6 1064.8,1598.8 1067.4,1597.2 1070,1596 1072.6,1595.3 1075.2,1595.1 1077.8,1595.5 1080.4,1596.4 1083,1597.7 1085.6,1599.3 1088.2,1600.9 1090.8,1602.5 1093.4,1603.8 1096,1604.8 1098.6,1605.6 1101.2,1606.1 1103.8,1606.4 1106.4,1606.5 1109,1606.3 1111.6,1606.1 1114.2,1605.6 1116.8,1605.1 1119.4,1604.4 1122.1,1603.7 1124.7,1602.9 1127.3,1602.1 1129.9,1601 1132.5,1599.8 1135.1,1598.2 1137.7,1596.5 1140.3,1594.8 1142.9,1593.1 1145.5,1591.5 1148.1,1590.3 1150.7,1589.6 1153.3,1589.4 1155.9,1589.8 1158.5,1590.7 1161.1,1591.9 1163.7,1593.3 1166.3,1594.6 1168.9,1595.9 1171.5,1597 1174.1,1597.9 1176.7,1598.5 1179.3,1598.9 1181.9,1599.1 1184.5,1599.1 1187.1,1599 1189.7,1598.7 1192.3,1598.1 1195,1597.4 1197.6,1596.6 1200.2,1595.9 1202.8,1595.3 1205.4,1595 1208,1595 1210.6,1595.4 1213.2,1596.1 1215.8,1597.2 1218.4,1598.5 1221,1600 1223.6,1601.7 1226.2,1603.2 1228.8,1604.5 1231.4,1605.3 1234,1605.2 1236.6,1604.4 1239.2,1603.1 1241.8,1601.5 1244.4,1599.9 1247,1598.5 1249.6,1597.3 1252.2,1596.2 1254.8,1595.1 1257.4,1594.2 1260,1593.2 1262.6,1592.1 1265.2,1590.8 1267.8,1589.1 1270.5,1587.1 1273.1,1584.9 1275.7,1582.5 1278.3,1580.1 1280.9,1577.9 1283.5,1576 1286.1,1574.4 1288.7,1573.1 1291.3,1572 1293.9,1571.1 1296.5,1570.3 1299.1,1569.6 1301.7,1568.9 1304.3,1568.3 1306.9,1567.7 1309.5,1567.1 1312.1,1566.5 1314.7,1565.9 1317.3,1565.4 1319.9,1565 1322.5,1564.7 1325.1,1564.4 1327.7,1564.1 1330.3,1563.2 1332.9,1561.8 1335.5,1559.9 1338.1,1557.8 1340.7,1555.7 1343.3,1553.8 1346,1552.1 1348.6,1550.5 1351.2,1549 1353.8,1547.8 1356.4,1547.3 1359,1547.8 1361.6,1549.4 1364.2,1551.9 1366.8,1555.2 1369.4,1559.3 1372,1563.8 1374.6,1568.6 1377.2,1573.9 1379.8,1580 1382.4,1586.7 1385,1593.9 1387.6,1601 1390.2,1607.5 1392.8,1612.9 1395.4,1617.2 1398,1620.5 1400.6,1622.8 1403.2,1624.4 1405.8,1625.4 1408.4,1626 1411,1626.6 1413.6,1627.2 1416.2,1627.7 1418.9,1628.1 1421.5,1628.5 1424.1,1628.7 1426.7,1628.5 1429.3,1627.8 1431.9,1626.8 1434.5,1625.5 1437.1,1624.2 1439.7,1623.1 1442.3,1622.1 1444.9,1621.2 1447.5,1620.2 1450.1,1618.9 1452.7,1617.3 1455.3,1615.4"/>
</g>
<text class="tk" transform="translate(933.8,1924.6) scale(0.92,1)" text-anchor="middle">0</text>
<text class="tk" transform="translate(1037.9,1924.6) scale(0.92,1)" text-anchor="middle">20</text>
<text class="tk" transform="translate(1142.1,1924.6) scale(0.92,1)" text-anchor="middle">40</text>
<text class="tk" transform="translate(1246.2,1924.6) scale(0.92,1)" text-anchor="middle">60</text>
<text class="tk" transform="translate(1350.4,1924.6) scale(0.92,1)" text-anchor="middle">80</text>
<text class="tk" transform="translate(1454.5,1924.6) scale(0.92,1)" text-anchor="middle">100</text>
<text class="tk" transform="translate(921.4,1896.6) scale(0.92,1)" text-anchor="end">-10</text>
<text class="tk" transform="translate(921.4,1842.3) scale(0.92,1)" text-anchor="end">-8</text>
<text class="tk" transform="translate(921.4,1788) scale(0.92,1)" text-anchor="end">-6</text>
<text class="tk" transform="translate(921.4,1733.7) scale(0.92,1)" text-anchor="end">-4</text>
<text class="tk" transform="translate(921.4,1679.4) scale(0.92,1)" text-anchor="end">-2</text>
<text class="tk" transform="translate(921.4,1625.1) scale(0.92,1)" text-anchor="end">0</text>
<text class="tk" transform="translate(921.4,1570.8) scale(0.92,1)" text-anchor="end">2</text>
<text class="tk" transform="translate(921.4,1516.5) scale(0.92,1)" text-anchor="end">4</text>
<text class="tk" transform="translate(921.4,1462.2) scale(0.92,1)" text-anchor="end">6</text>
<text class="tk" transform="translate(921.4,1407.9) scale(0.92,1)" text-anchor="end">8</text>
<text class="tk" transform="translate(921.4,1353.6) scale(0.92,1)" text-anchor="end">10</text>
<text class="lb" transform="translate(865.4,1614.9) rotate(-90)" text-anchor="middle">Adduction (+) / Abduction (-) [°]</text></g>
<g class="r3"><clipPath id="c33"><rect x="1616.2" y="1340" width="525.6" height="549"/></clipPath>
<rect class="ax" x="1619.2" y="1343" width="519.6" height="543"/>
<path class="ax" d="M1723.1,1886v-5.5M1723.1,1343v5.5M1827,1886v-5.5M1827,1343v5.5M1931,1886v-5.5M1931,1343v5.5M2034.9,1886v-5.5M2034.9,1343v5.5M1619.2,1831.7h5.5M2138.8,1831.7h-5.5M1619.2,1777.4h5.5M2138.8,1777.4h-5.5M1619.2,1723.1h5.5M2138.8,1723.1h-5.5M1619.2,1668.8h5.5M2138.8,1668.8h-5.5M1619.2,1614.5h5.5M2138.8,1614.5h-5.5M1619.2,1560.2h5.5M2138.8,1560.2h-5.5M1619.2,1505.9h5.5M2138.8,1505.9h-5.5M1619.2,1451.6h5.5M2138.8,1451.6h-5.5M1619.2,1397.3h5.5M2138.8,1397.3h-5.5"/>
<g clip-path="url(#c33)">
<path class="imu" d="M1619.2,1637 1621.8,1635.2 1624.4,1633.4 1627,1631.7 1629.6,1630.3 1632.2,1629 1634.8,1628.1 1637.4,1627.3 1640,1626.8 1642.6,1626.6 1645.2,1626.5 1647.8,1626.6 1650.4,1626.8 1653,1627.1 1655.6,1627.4 1658.2,1627.8 1660.8,1628 1663.4,1628.2 1666,1628.3 1668.6,1628.1 1671.2,1627.7 1673.8,1627.1 1676.4,1626.2 1679,1625.2 1681.6,1624 1684.2,1622.7 1686.7,1621.4 1689.3,1620.2 1691.9,1618.9 1694.5,1617.8 1697.1,1616.8 1699.7,1616 1702.3,1615.3 1704.9,1614.9 1707.5,1614.7 1710.1,1614.7 1712.7,1615 1715.3,1615.6 1717.9,1616.4 1720.5,1617.4 1723.1,1618.5 1725.7,1619.7 1728.3,1621 1730.9,1622.4 1733.5,1623.8 1736.1,1625.2 1738.7,1626.6 1741.3,1627.8 1743.9,1629 1746.5,1630.1 1749.1,1631.1 1751.7,1632 1754.3,1632.8 1756.9,1633.4 1759.5,1634 1762.1,1634.5 1764.7,1634.8 1767.3,1635 1769.9,1635.2 1772.5,1635.2 1775.1,1635.1 1777.7,1634.9 1780.3,1634.5 1782.9,1634 1785.5,1633.5 1788.1,1632.8 1790.7,1632 1793.3,1631.1 1795.9,1630.2 1798.5,1629.1 1801.1,1627.9 1803.7,1626.6 1806.3,1625.2 1808.9,1623.7 1811.5,1622.2 1814.1,1620.7 1816.6,1619.1 1819.2,1617.6 1821.8,1616 1824.4,1614.5 1827,1613 1829.6,1611.6 1832.2,1610.3 1834.8,1609.1 1837.4,1608 1840,1607 1842.6,1606.1 1845.2,1605.2 1847.8,1604.5 1850.4,1603.7 1853,1603 1855.6,1602.4 1858.2,1601.8 1860.8,1601.1 1863.4,1600.6 1866,1600 1868.6,1599.5 1871.2,1599.1 1873.8,1598.7 1876.4,1598.5 1879,1598.5 1881.6,1598.6 1884.2,1598.9 1886.8,1599.4 1889.4,1600.1 1892,1601 1894.6,1602.1 1897.2,1603.3 1899.8,1604.6 1902.4,1605.8 1905,1607.1 1907.6,1608.2 1910.2,1609.1 1912.8,1609.6 1915.4,1609.8 1918,1609.4 1920.6,1608.3 1923.2,1606.5 1925.8,1603.7 1928.4,1600 1931,1595.2 1933.6,1589.2 1936.2,1582.2 1938.8,1574.1 1941.4,1565.3 1944,1555.8 1946.5,1546 1949.1,1536.1 1951.7,1526.6 1954.3,1517.6 1956.9,1509.6 1959.5,1502.7 1962.1,1497.1 1964.7,1493.1 1967.3,1490.6 1969.9,1489.8 1972.5,1490.4 1975.1,1492.5 1977.7,1496 1980.3,1500.6 1982.9,1506.1 1985.5,1512 1988.1,1518.2 1990.7,1524.2 1993.3,1529.8 1995.9,1534.5 1998.5,1538.4 2001.1,1541.1 2003.7,1542.7 2006.3,1543 2008.9,1541.9 2011.5,1539.4 2014.1,1535.6 2016.7,1530.5 2019.3,1524.4 2021.9,1517.6 2024.5,1510.3 2027.1,1503 2029.7,1495.9 2032.3,1489.4 2034.9,1484 2037.5,1479.9 2040.1,1477.2 2042.7,1476 2045.3,1476.3 2047.9,1478.2 2050.5,1481.7 2053.1,1486.8 2055.7,1493.4 2058.3,1501.4 2060.9,1510.5 2063.5,1520.4 2066.1,1530.7 2068.7,1541.4 2071.3,1552.2 2073.9,1563 2076.4,1573.6 2079,1583.8 2081.6,1593.5 2084.2,1602.4 2086.8,1610.6 2089.4,1618 2092,1624.7 2094.6,1630.5 2097.2,1635.5 2099.8,1639.8 2102.4,1643.2 2105,1646 2107.6,1648 2110.2,1649.4 2112.8,1650.1 2115.4,1650.2 2118,1649.8 2120.6,1648.9 2123.2,1647.6 2125.8,1646.1 2128.4,1644.3 2131,1642.5 2133.6,1640.6 2136.2,1638.6 2138.8,1636.6"/>
<path class="vivo" d="M1619.2,1594.1 1621.8,1593.2 1624.4,1593.3 1627,1595 1629.6,1597.6 1632.2,1599.8 1634.8,1601 1637.4,1601.4 1640,1601.7 1642.6,1602.6 1645.2,1603.9 1647.8,1605.4 1650.4,1607 1653,1608.5 1655.6,1609.6 1658.2,1610.2 1660.8,1610 1663.4,1608.8 1666,1606.5 1668.6,1603.4 1671.2,1599.8 1673.8,1596.2 1676.4,1592.2 1679,1588 1681.6,1584.1 1684.2,1581.4 1686.7,1580.3 1689.3,1580.6 1691.9,1581.4 1694.5,1582.2 1697.1,1583.1 1699.7,1583.8 1702.3,1584.6 1704.9,1585.5 1707.5,1586.9 1710.1,1589.3 1712.7,1592.8 1715.3,1596.9 1717.9,1600.8 1720.5,1603.6 1723.1,1604.8 1725.7,1604.7 1728.3,1603.6 1730.9,1602.3 1733.5,1601.1 1736.1,1600.7 1738.7,1601.2 1741.3,1602.6 1743.9,1604.5 1746.5,1606.4 1749.1,1608 1751.7,1609.2 1754.3,1609.5 1756.9,1608.8 1759.5,1606.8 1762.1,1604.2 1764.7,1601.7 1767.3,1599.9 1769.9,1599 1772.5,1598.8 1775.1,1599.2 1777.7,1600.1 1780.3,1601.1 1782.9,1601.7 1785.5,1601.9 1788.1,1601.5 1790.7,1600.6 1793.3,1599.4 1795.9,1597.9 1798.5,1596.3 1801.1,1594.5 1803.7,1592.5 1806.3,1590.3 1808.9,1588 1811.5,1585.7 1814.1,1583.4 1816.6,1581.4 1819.2,1579.6 1821.8,1578 1824.4,1576.5 1827,1574.8 1829.6,1573 1832.2,1570.8 1834.8,1568.5 1837.4,1566.4 1840,1564.9 1842.6,1564 1845.2,1564 1847.8,1564.9 1850.4,1566.2 1853,1567.3 1855.6,1567.5 1858.2,1566.9 1860.8,1565.6 1863.4,1563.8 1866,1561.6 1868.6,1559.2 1871.2,1557 1873.8,1555.6 1876.4,1555.3 1879,1555.9 1881.6,1556.9 1884.2,1558.1 1886.8,1558.9 1889.4,1558.6 1892,1556.9 1894.6,1553.5 1897.2,1549.1 1899.8,1545 1902.4,1542.3 1905,1541.8 1907.6,1543.1 1910.2,1545.7 1912.8,1549.4 1915.4,1553.7 1918,1558.2 1920.6,1561.6 1923.2,1562.5 1925.8,1561.1 1928.4,1558 1931,1553.7 1933.6,1548.7 1936.2,1543.4 1938.8,1538.5 1941.4,1533.9 1944,1528.7 1946.5,1521.4 1949.1,1511.3 1951.7,1498.5 1954.3,1486.4 1956.9,1477.5 1959.5,1469.2 1962.1,1458.8 1964.7,1448.1 1967.3,1439.7 1969.9,1433.5 1972.5,1428.8 1975.1,1424.8 1977.7,1421.4 1980.3,1418.2 1982.9,1415.2 1985.5,1412.2 1988.1,1409.5 1990.7,1407.3 1993.3,1405.7 1995.9,1404.9 1998.5,1404.9 2001.1,1405.6 2003.7,1406.2 2006.3,1405.7 2008.9,1403.3 2011.5,1399.8 2014.1,1395.9 2016.7,1392.7 2019.3,1390.2 2021.9,1388.6 2024.5,1387.6 2027.1,1387.1 2029.7,1387 2032.3,1387.3 2034.9,1387.9 2037.5,1390.3 2040.1,1395.9 2042.7,1405.5 2045.3,1415.2 2047.9,1425 2050.5,1437.5 2053.1,1451.9 2055.7,1467 2058.3,1482.6 2060.9,1498.9 2063.5,1517.3 2066.1,1536.3 2068.7,1547.2 2071.3,1555.6 2073.9,1568.6 2076.4,1582.5 2079,1591.9 2081.6,1597.7 2084.2,1601.7 2086.8,1605.8 2089.4,1609.8 2092,1613.4 2094.6,1616.4 2097.2,1619.1 2099.8,1621.7 2102.4,1624.1 2105,1626.3 2107.6,1628.1 2110.2,1629.3 2112.8,1630 2115.4,1630 2118,1629.2 2120.6,1627.6 2123.2,1624.8 2125.8,1620.8 2128.4,1615.3 2131,1608.3 2133.6,1601.3 2136.2,1596 2138.8,1593.3"/>
</g>
<text class="tk" transform="translate(1618.4,1924.6) scale(0.92,1)" text-anchor="middle">0</text>
<text class="tk" transform="translate(1722.3,1924.6) scale(0.92,1)" text-anchor="middle">20</text>
<text class="tk" transform="translate(1826.2,1924.6) scale(0.92,1)" text-anchor="middle">40</text>
<text class="tk" transform="translate(1930.2,1924.6) scale(0.92,1)" text-anchor="middle">60</text>
<text class="tk" transform="translate(2034.1,1924.6) scale(0.92,1)" text-anchor="middle">80</text>
<text class="tk" transform="translate(2138,1924.6) scale(0.92,1)" text-anchor="middle">100</text>
<text class="tk" transform="translate(1606,1896.6) scale(0.92,1)" text-anchor="end">-10</text>
<text class="tk" transform="translate(1606,1842.3) scale(0.92,1)" text-anchor="end">-8</text>
<text class="tk" transform="translate(1606,1788) scale(0.92,1)" text-anchor="end">-6</text>
<text class="tk" transform="translate(1606,1733.7) scale(0.92,1)" text-anchor="end">-4</text>
<text class="tk" transform="translate(1606,1679.4) scale(0.92,1)" text-anchor="end">-2</text>
<text class="tk" transform="translate(1606,1625.1) scale(0.92,1)" text-anchor="end">0</text>
<text class="tk" transform="translate(1606,1570.8) scale(0.92,1)" text-anchor="end">2</text>
<text class="tk" transform="translate(1606,1516.5) scale(0.92,1)" text-anchor="end">4</text>
<text class="tk" transform="translate(1606,1462.2) scale(0.92,1)" text-anchor="end">6</text>
<text class="tk" transform="translate(1606,1407.9) scale(0.92,1)" text-anchor="end">8</text>
<text class="tk" transform="translate(1606,1353.6) scale(0.92,1)" text-anchor="end">10</text>
<text class="lb" transform="translate(1550,1611.9) rotate(-90)" text-anchor="middle">Internal (+) / External (-) Tibial Rotation [°]</text>
<rect class="lg" x="1951.4" y="1792.2" width="166.2" height="71.1"/>
<path class="imu" d="M1961.9,1812.4h82.1"/>
<path class="vivo" d="M1961.9,1843.4h82.1"/>
<text class="lt" x="2052.6" y="1821.4">IMU</text>
<text class="lt" x="2052.6" y="1852.3">VIVO</text></g>
<text class="ti" transform="translate(81.7,2319.9) rotate(-90)" textLength="205" lengthAdjust="spacingAndGlyphs">Subject 4</text>
<g class="r4"><clipPath id="c41"><rect x="249.2" y="1952.5" width="525.6" height="549"/></clipPath>
<rect class="ax" x="252.2" y="1955.5" width="519.6" height="543"/>
<path class="ax" d="M356.1,2498.5v-5.5M356.1,1955.5v5.5M460,2498.5v-5.5M460,1955.5v5.5M564,2498.5v-5.5M564,1955.5v5.5M667.9,2498.5v-5.5M667.9,1955.5v5.5M252.2,2444.2h5.5M771.8,2444.2h-5.5M252.2,2389.9h5.5M771.8,2389.9h-5.5M252.2,2335.6h5.5M771.8,2335.6h-5.5M252.2,2281.3h5.5M771.8,2281.3h-5.5M252.2,2227h5.5M771.8,2227h-5.5M252.2,2172.7h5.5M771.8,2172.7h-5.5M252.2,2118.4h5.5M771.8,2118.4h-5.5M252.2,2064.1h5.5M771.8,2064.1h-5.5M252.2,2009.8h5.5M771.8,2009.8h-5.5"/>
<g clip-path="url(#c41)">
<path class="imu" d="M252.2,2421.6 254.8,2421.1 257.4,2420.4 260,2419.7 262.6,2418.7 265.2,2417.5 267.8,2416.1 270.4,2414.4 273,2412.5 275.6,2410.5 278.2,2408.2 280.8,2405.9 283.4,2403.4 286,2400.9 288.6,2398.4 291.2,2395.8 293.8,2393.2 296.4,2390.7 299,2388.3 301.6,2385.9 304.2,2383.7 306.8,2381.7 309.4,2379.8 312,2378 314.6,2376.5 317.1,2375 319.7,2373.7 322.3,2372.5 324.9,2371.5 327.5,2370.5 330.1,2369.7 332.7,2369 335.3,2368.4 337.9,2367.9 340.5,2367.4 343.1,2367.1 345.7,2366.9 348.3,2366.7 350.9,2366.6 353.5,2366.5 356.1,2366.4 358.7,2366.3 361.3,2366.2 363.9,2366 366.5,2365.7 369.1,2365.3 371.7,2364.8 374.3,2364.2 376.9,2363.5 379.5,2362.6 382.1,2361.6 384.7,2360.4 387.3,2359.1 389.9,2357.6 392.5,2355.9 395.1,2354.2 397.7,2352.3 400.3,2350.2 402.9,2348 405.5,2345.7 408.1,2343.3 410.7,2340.9 413.3,2338.4 415.9,2335.7 418.5,2333.1 421.1,2330.4 423.7,2327.6 426.3,2324.7 428.9,2321.8 431.5,2318.9 434.1,2315.9 436.7,2312.8 439.3,2309.6 441.9,2306.4 444.5,2303.2 447,2299.9 449.6,2296.6 452.2,2293.3 454.8,2290 457.4,2286.7 460,2283.5 462.6,2280.2 465.2,2277 467.8,2273.7 470.4,2270.5 473,2267.4 475.6,2264.2 478.2,2261.1 480.8,2258 483.4,2255 486,2251.9 488.6,2248.7 491.2,2245.4 493.8,2242 496.4,2238.4 499,2234.5 501.6,2230.4 504.2,2225.9 506.8,2221.2 509.4,2216.1 512,2210.7 514.6,2205.1 517.2,2199.1 519.8,2192.9 522.4,2186.3 525,2179.3 527.6,2172 530.2,2164.4 532.8,2156.5 535.4,2148.3 538,2139.8 540.6,2131.1 543.2,2122.2 545.8,2113.3 548.4,2104.4 551,2095.6 553.6,2087 556.2,2078.7 558.8,2070.8 561.4,2063.4 564,2056.5 566.6,2050.2 569.2,2044.6 571.8,2039.7 574.4,2035.4 576.9,2032 579.5,2029.3 582.1,2027.3 584.7,2026 587.3,2025.4 589.9,2025.4 592.5,2026.1 595.1,2027.4 597.7,2029.3 600.3,2031.7 602.9,2034.6 605.5,2037.9 608.1,2041.7 610.7,2046 613.3,2050.6 615.9,2055.7 618.5,2061.2 621.1,2067.1 623.7,2073.4 626.3,2080.1 628.9,2087.3 631.5,2094.8 634.1,2102.8 636.7,2111.3 639.3,2120.1 641.9,2129.3 644.5,2138.8 647.1,2148.7 649.7,2158.9 652.3,2169.4 654.9,2180.2 657.5,2191.1 660.1,2202.3 662.7,2213.7 665.3,2225.1 667.9,2236.5 670.5,2247.9 673.1,2259.2 675.7,2270.3 678.3,2281.3 680.9,2292 683.5,2302.5 686.1,2312.6 688.7,2322.4 691.3,2331.7 693.9,2340.6 696.5,2349 699.1,2356.8 701.7,2364.2 704.3,2371 706.8,2377.2 709.4,2383 712,2388.1 714.6,2392.8 717.2,2396.9 719.8,2400.6 722.4,2403.8 725,2406.6 727.6,2409.1 730.2,2411.2 732.8,2413 735.4,2414.5 738,2415.9 740.6,2417 743.2,2418 745.8,2418.8 748.4,2419.5 751,2420 753.6,2420.5 756.2,2420.9 758.8,2421.2 761.4,2421.4 764,2421.6 766.6,2421.8 769.2,2421.9 771.8,2422.1"/>
<path class="vivo" d="M252.2,2421.4 254.8,2420.8 257.4,2420.2 260,2419.3 262.6,2418.3 265.2,2417 267.8,2415.4 270.4,2413.7 273,2411.7 275.6,2409.6 278.2,2407.3 280.8,2404.9 283.4,2402.4 286,2399.9 288.6,2397.3 291.2,2394.7 293.8,2392.2 296.4,2389.7 299,2387.3 301.6,2385 304.2,2382.9 306.8,2380.9 309.4,2379.1 312,2377.4 314.6,2375.9 317.1,2374.5 319.7,2373.2 322.3,2372.1 324.9,2371.1 327.5,2370.2 330.1,2369.4 332.7,2368.8 335.3,2368.2 337.9,2367.7 340.5,2367.3 343.1,2367 345.7,2366.8 348.3,2366.6 350.9,2366.5 353.5,2366.5 356.1,2366.4 358.7,2366.3 361.3,2366.1 363.9,2365.8 366.5,2365.5 369.1,2365.1 371.7,2364.6 374.3,2363.9 376.9,2363.1 379.5,2362.2 382.1,2361.1 384.7,2359.9 387.3,2358.5 389.9,2356.9 392.5,2355.3 395.1,2353.4 397.7,2351.5 400.3,2349.3 402.9,2347.1 405.5,2344.8 408.1,2342.4 410.7,2339.9 413.3,2337.3 415.9,2334.7 418.5,2332 421.1,2329.2 423.7,2326.4 426.3,2323.6 428.9,2320.7 431.5,2317.7 434.1,2314.6 436.7,2311.5 439.3,2308.3 441.9,2305.1 444.5,2301.8 447,2298.6 449.6,2295.3 452.2,2292 454.8,2288.7 457.4,2285.4 460,2282.2 462.6,2278.9 465.2,2275.7 467.8,2272.4 470.4,2269.3 473,2266.1 475.6,2263 478.2,2259.9 480.8,2256.8 483.4,2253.7 486,2250.6 488.6,2247.4 491.2,2244.1 493.8,2240.6 496.4,2236.9 499,2232.9 501.6,2228.6 504.2,2224 506.8,2219.2 509.4,2214 512,2208.5 514.6,2202.7 517.2,2196.7 519.8,2190.3 522.4,2183.6 525,2176.5 527.6,2169 530.2,2161.3 532.8,2153.2 535.4,2144.9 538,2136.3 540.6,2127.6 543.2,2118.7 545.8,2109.7 548.4,2100.9 551,2092.1 553.6,2083.7 556.2,2075.5 558.8,2067.8 561.4,2060.6 564,2053.9 566.6,2047.9 569.2,2042.5 571.8,2037.9 574.4,2034 576.9,2030.8 579.5,2028.4 582.1,2026.7 584.7,2025.6 587.3,2025.3 589.9,2025.6 592.5,2026.6 595.1,2028.1 597.7,2030.2 600.3,2032.8 602.9,2035.9 605.5,2039.4 608.1,2043.4 610.7,2047.8 613.3,2052.6 615.9,2057.9 618.5,2063.5 621.1,2069.6 623.7,2076 626.3,2082.9 628.9,2090.2 631.5,2098 634.1,2106.2 636.7,2114.8 639.3,2123.7 641.9,2133.1 644.5,2142.8 647.1,2152.8 649.7,2163.1 652.3,2173.7 654.9,2184.5 657.5,2195.6 660.1,2206.8 662.7,2218.2 665.3,2229.7 667.9,2241.1 670.5,2252.4 673.1,2263.7 675.7,2274.8 678.3,2285.6 680.9,2296.2 683.5,2306.6 686.1,2316.6 688.7,2326.1 691.3,2335.3 693.9,2344 696.5,2352.2 699.1,2359.8 701.7,2367 704.3,2373.5 706.8,2379.6 709.4,2385.1 712,2390.1 714.6,2394.5 717.2,2398.5 719.8,2401.9 722.4,2405 725,2407.7 727.6,2410 730.2,2411.9 732.8,2413.6 735.4,2415.1 738,2416.3 740.6,2417.4 743.2,2418.3 745.8,2419.1 748.4,2419.7 751,2420.2 753.6,2420.7 756.2,2421 758.8,2421.3 761.4,2421.5 764,2421.7 766.6,2421.8 769.2,2421.9 771.8,2422"/>
</g>
<text class="tk" transform="translate(251.4,2537.1) scale(0.92,1)" text-anchor="middle">0</text>
<text class="tk" transform="translate(355.3,2537.1) scale(0.92,1)" text-anchor="middle">20</text>
<text class="tk" transform="translate(459.2,2537.1) scale(0.92,1)" text-anchor="middle">40</text>
<text class="tk" transform="translate(563.2,2537.1) scale(0.92,1)" text-anchor="middle">60</text>
<text class="tk" transform="translate(667.1,2537.1) scale(0.92,1)" text-anchor="middle">80</text>
<text class="tk" transform="translate(771,2537.1) scale(0.92,1)" text-anchor="middle">100</text>
<text class="tk" transform="translate(239,2509.1) scale(0.92,1)" text-anchor="end">-10</text>
<text class="tk" transform="translate(239,2454.8) scale(0.92,1)" text-anchor="end">0</text>
<text class="tk" transform="translate(239,2400.5) scale(0.92,1)" text-anchor="end">10</text>
<text class="tk" transform="translate(239,2346.2) scale(0.92,1)" text-anchor="end">20</text>
<text class="tk" transform="translate(239,2291.9) scale(0.92,1)" text-anchor="end">30</text>
<text class="tk" transform="translate(239,2237.6) scale(0.92,1)" text-anchor="end">40</text>
<text class="tk" transform="translate(239,2183.3) scale(0.92,1)" text-anchor="end">50</text>
<text class="tk" transform="translate(239,2129) scale(0.92,1)" text-anchor="end">60</text>
<text class="tk" transform="translate(239,2074.7) scale(0.92,1)" text-anchor="end">70</text>
<text class="tk" transform="translate(239,2020.4) scale(0.92,1)" text-anchor="end">80</text>
<text class="tk" transform="translate(239,1966.1) scale(0.92,1)" text-anchor="end">90</text>
<text class="lb" transform="translate(183,2223.5) rotate(-90)" text-anchor="middle">Flexion (+) / Extension (-) [°]</text></g>
<g class="r4"><clipPath id="c42"><rect x="931.6" y="1952.5" width="526.7" height="549"/></clipPath>
<rect class="ax" x="934.6" y="1955.5" width="520.7" height="543"/>
<path class="ax" d="M1038.7,2498.5v-5.5M1038.7,1955.5v5.5M1142.9,2498.5v-5.5M1142.9,1955.5v5.5M1247,2498.5v-5.5M1247,1955.5v5.5M1351.2,2498.5v-5.5M1351.2,1955.5v5.5M934.6,2444.2h5.5M1455.3,2444.2h-5.5M934.6,2389.9h5.5M1455.3,2389.9h-5.5M934.6,2335.6h5.5M1455.3,2335.6h-5.5M934.6,2281.3h5.5M1455.3,2281.3h-5.5M934.6,2227h5.5M1455.3,2227h-5.5M934.6,2172.7h5.5M1455.3,2172.7h-5.5M934.6,2118.4h5.5M1455.3,2118.4h-5.5M934.6,2064.1h5.5M1455.3,2064.1h-5.5M934.6,2009.8h5.5M1455.3,2009.8h-5.5"/>
<g clip-path="url(#c42)">
<path class="imu" d="M934.6,2249.8 937.2,2248.9 939.8,2247.9 942.4,2246.9 945,2245.9 947.6,2244.8 950.2,2243.7 952.8,2242.6 955.4,2241.4 958,2240.2 960.6,2238.9 963.2,2237.7 965.8,2236.5 968.4,2235.3 971,2234.1 973.7,2233 976.3,2232 978.9,2231 981.5,2230.2 984.1,2229.3 986.7,2228.5 989.3,2227.7 991.9,2227 994.5,2226.3 997.1,2225.7 999.7,2225.1 1002.3,2224.7 1004.9,2224.4 1007.5,2224.2 1010.1,2224 1012.7,2224 1015.3,2224 1017.9,2224 1020.5,2224.1 1023.1,2224.2 1025.7,2224.4 1028.3,2224.6 1030.9,2224.8 1033.5,2225 1036.1,2225.2 1038.7,2225.3 1041.3,2225.4 1043.9,2225.5 1046.6,2225.5 1049.2,2225.5 1051.8,2225.4 1054.4,2225.3 1057,2225.1 1059.6,2224.9 1062.2,2224.6 1064.8,2224.4 1067.4,2224.1 1070,2223.8 1072.6,2223.4 1075.2,2223.1 1077.8,2222.7 1080.4,2222.3 1083,2221.9 1085.6,2221.5 1088.2,2221 1090.8,2220.6 1093.4,2220.1 1096,2219.6 1098.6,2219.2 1101.2,2218.7 1103.8,2218.2 1106.4,2217.7 1109,2217.1 1111.6,2216.5 1114.2,2216 1116.8,2215.4 1119.4,2214.8 1122.1,2214.3 1124.7,2213.7 1127.3,2213.2 1129.9,2212.8 1132.5,2212.3 1135.1,2211.8 1137.7,2211.4 1140.3,2211.1 1142.9,2210.8 1145.5,2210.5 1148.1,2210.4 1150.7,2210.3 1153.3,2210.2 1155.9,2210.2 1158.5,2210.3 1161.1,2210.4 1163.7,2210.5 1166.3,2210.6 1168.9,2210.7 1171.5,2210.8 1174.1,2210.8 1176.7,2210.8 1179.3,2210.7 1181.9,2210.6 1184.5,2210.4 1187.1,2210.1 1189.7,2209.7 1192.3,2209.3 1195,2208.9 1197.6,2208.4 1200.2,2207.9 1202.8,2207.4 1205.4,2206.8 1208,2206.1 1210.6,2205.5 1213.2,2204.7 1215.8,2204 1218.4,2203.2 1221,2202.4 1223.6,2201.6 1226.2,2200.9 1228.8,2200.2 1231.4,2199.5 1234,2198.8 1236.6,2198.1 1239.2,2197.5 1241.8,2196.8 1244.4,2196.2 1247,2195.5 1249.6,2195 1252.2,2194.5 1254.8,2194 1257.4,2193.7 1260,2193.3 1262.6,2193.1 1265.2,2192.9 1267.8,2192.8 1270.5,2192.8 1273.1,2192.8 1275.7,2192.8 1278.3,2192.9 1280.9,2193.1 1283.5,2193.2 1286.1,2193.4 1288.7,2193.7 1291.3,2193.9 1293.9,2194.1 1296.5,2194.4 1299.1,2194.6 1301.7,2194.7 1304.3,2194.9 1306.9,2195 1309.5,2195.1 1312.1,2195.3 1314.7,2195.4 1317.3,2195.6 1319.9,2195.9 1322.5,2196.3 1325.1,2196.9 1327.7,2197.6 1330.3,2198.6 1332.9,2199.8 1335.5,2201.3 1338.1,2203.1 1340.7,2205.2 1343.3,2207.7 1346,2210.4 1348.6,2213.5 1351.2,2216.8 1353.8,2220.3 1356.4,2223.9 1359,2227.5 1361.6,2231.1 1364.2,2234.6 1366.8,2237.9 1369.4,2240.9 1372,2243.8 1374.6,2246.4 1377.2,2248.7 1379.8,2250.7 1382.4,2252.4 1385,2253.8 1387.6,2254.9 1390.2,2255.7 1392.8,2256.3 1395.4,2256.6 1398,2256.7 1400.6,2256.6 1403.2,2256.3 1405.8,2255.9 1408.4,2255.4 1411,2254.9 1413.6,2254.3 1416.2,2253.7 1418.9,2253.2 1421.5,2252.6 1424.1,2252.1 1426.7,2251.7 1429.3,2251.2 1431.9,2250.8 1434.5,2250.5 1437.1,2250.1 1439.7,2249.8 1442.3,2249.5 1444.9,2249.2 1447.5,2248.9 1450.1,2248.6 1452.7,2248.2 1455.3,2247.9"/>
<path class="vivo" d="M934.6,2246.5 937.2,2245.1 939.8,2243.6 942.4,2242.2 945,2240.9 947.6,2239.6 950.2,2238.4 952.8,2237.3 955.4,2236.2 958,2235.1 960.6,2234.1 963.2,2233.1 965.8,2232.2 968.4,2231.4 971,2230.8 973.7,2230.3 976.3,2230 978.9,2230 981.5,2230.1 984.1,2230.3 986.7,2230.4 989.3,2230.2 991.9,2229.9 994.5,2229.1 997.1,2228.2 999.7,2227.4 1002.3,2226.8 1004.9,2226.4 1007.5,2226.2 1010.1,2226.2 1012.7,2226.3 1015.3,2226.5 1017.9,2226.7 1020.5,2227 1023.1,2227.3 1025.7,2227.7 1028.3,2228.1 1030.9,2228.6 1033.5,2229.2 1036.1,2229.7 1038.7,2230.2 1041.3,2230.5 1043.9,2230.7 1046.6,2230.7 1049.2,2230.6 1051.8,2230.4 1054.4,2230.1 1057,2229.8 1059.6,2229.4 1062.2,2229.1 1064.8,2228.7 1067.4,2228.4 1070,2228.1 1072.6,2227.9 1075.2,2227.9 1077.8,2227.9 1080.4,2227.9 1083,2228 1085.6,2228.1 1088.2,2228.2 1090.8,2228.3 1093.4,2228.4 1096,2228.5 1098.6,2228.6 1101.2,2228.6 1103.8,2228.7 1106.4,2228.7 1109,2228.7 1111.6,2228.7 1114.2,2228.6 1116.8,2228.6 1119.4,2228.6 1122.1,2228.6 1124.7,2228.6 1127.3,2228.6 1129.9,2228.6 1132.5,2228.6 1135.1,2228.7 1137.7,2228.7 1140.3,2228.7 1142.9,2228.8 1145.5,2228.9 1148.1,2229 1150.7,2229.1 1153.3,2229.4 1155.9,2229.7 1158.5,2230.2 1161.1,2230.8 1163.7,2231.7 1166.3,2232.8 1168.9,2233.9 1171.5,2235.1 1174.1,2236.1 1176.7,2236.9 1179.3,2237.6 1181.9,2238.2 1184.5,2238.6 1187.1,2238.9 1189.7,2239.1 1192.3,2239.2 1195,2239.2 1197.6,2239.1 1200.2,2238.9 1202.8,2238.6 1205.4,2238.3 1208,2238.1 1210.6,2237.9 1213.2,2237.9 1215.8,2238.1 1218.4,2238.5 1221,2239 1223.6,2239.6 1226.2,2240.2 1228.8,2240.9 1231.4,2241.4 1234,2241.8 1236.6,2242 1239.2,2241.9 1241.8,2241.5 1244.4,2240.8 1247,2240 1249.6,2239.2 1252.2,2238.5 1254.8,2237.9 1257.4,2237.7 1260,2237.7 1262.6,2237.9 1265.2,2238.2 1267.8,2238.5 1270.5,2238.6 1273.1,2238.6 1275.7,2238.5 1278.3,2238.3 1280.9,2238.2 1283.5,2238.2 1286.1,2238.3 1288.7,2238.6 1291.3,2238.9 1293.9,2239.3 1296.5,2239.8 1299.1,2240.2 1301.7,2240.5 1304.3,2240.7 1306.9,2240.7 1309.5,2240.5 1312.1,2240 1314.7,2239.1 1317.3,2237.8 1319.9,2236.5 1322.5,2235.3 1325.1,2234.5 1327.7,2234.1 1330.3,2234.1 1332.9,2234.5 1335.5,2235.2 1338.1,2236 1340.7,2237 1343.3,2237.9 1346,2238.9 1348.6,2240.1 1351.2,2241.3 1353.8,2242.9 1356.4,2244.7 1359,2246.9 1361.6,2249.3 1364.2,2251.8 1366.8,2254.1 1369.4,2256.1 1372,2257.8 1374.6,2259.1 1377.2,2260.1 1379.8,2260.6 1382.4,2260.7 1385,2260.7 1387.6,2260.5 1390.2,2260.4 1392.8,2260.3 1395.4,2260.4 1398,2260.3 1400.6,2259.9 1403.2,2258.8 1405.8,2257.3 1408.4,2255.6 1411,2254.1 1413.6,2252.8 1416.2,2251.7 1418.9,2250.7 1421.5,2249.9 1424.1,2249.2 1426.7,2248.7 1429.3,2248.2 1431.9,2247.9 1434.5,2247.7 1437.1,2247.6 1439.7,2247.5 1442.3,2247.4 1444.9,2247.3 1447.5,2247.2 1450.1,2247 1452.7,2246.8 1455.3,2246.6"/>
</g>
<text class="tk" transform="translate(933.8,2537.1) scale(0.92,1)" text-anchor="middle">0</text>
<text class="tk" transform="translate(1037.9,2537.1) scale(0.92,1)" text-anchor="middle">20</text>
<text class="tk" transform="translate(1142.1,2537.1) scale(0.92,1)" text-anchor="middle">40</text>
<text class="tk" transform="translate(1246.2,2537.1) scale(0.92,1)" text-anchor="middle">60</text>
<text class="tk" transform="translate(1350.4,2537.1) scale(0.92,1)" text-anchor="middle">80</text>
<text class="tk" transform="translate(1454.5,2537.1) scale(0.92,1)" text-anchor="middle">100</text>
<text class="tk" transform="translate(921.4,2509.1) scale(0.92,1)" text-anchor="end">-10</text>
<text class="tk" transform="translate(921.4,2454.8) scale(0.92,1)" text-anchor="end">-8</text>
<text class="tk" transform="translate(921.4,2400.5) scale(0.92,1)" text-anchor="end">-6</text>
<text class="tk" transform="translate(921.4,2346.2) scale(0.92,1)" text-anchor="end">-4</text>
<text class="tk" transform="translate(921.4,2291.9) scale(0.92,1)" text-anchor="end">-2</text>
<text class="tk" transform="translate(921.4,2237.6) scale(0.92,1)" text-anchor="end">0</text>
<text class="tk" transform="translate(921.4,2183.3) scale(0.92,1)" text-anchor="end">2</text>
<text class="tk" transform="translate(921.4,2129) scale(0.92,1)" text-anchor="end">4</text>
<text class="tk" transform="translate(921.4,2074.7) scale(0.92,1)" text-anchor="end">6</text>
<text class="tk" transform="translate(921.4,2020.4) scale(0.92,1)" text-anchor="end">8</text>
<text class="tk" transform="translate(921.4,1966.1) scale(0.92,1)" text-anchor="end">10</text>
<text class="lb" transform="translate(865.4,2227.4) rotate(-90)" text-anchor="middle">Adduction (+) / Abduction (-) [°]</text></g>
<g class="r4"><clipPath id="c43"><rect x="1616.2" y="1952.5" width="525.6" height="549"/></clipPath>
<rect class="ax" x="1619.2" y="1955.5" width="519.6" height="543"/>
<path class="ax" d="M1723.1,2498.5v-5.5M1723.1,1955.5v5.5M1827,2498.5v-5.5M1827,1955.5v5.5M1931,2498.5v-5.5M1931,1955.5v5.5M2034.9,2498.5v-5.5M2034.9,1955.5v5.5M1619.2,2444.2h5.5M2138.8,2444.2h-5.5M1619.2,2389.9h5.5M2138.8,2389.9h-5.5M1619.2,2335.6h5.5M2138.8,2335.6h-5.5M1619.2,2281.3h5.5M2138.8,2281.3h-5.5M1619.2,2227h5.5M2138.8,2227h-5.5M1619.2,2172.7h5.5M2138.8,2172.7h-5.5M1619.2,2118.4h5.5M2138.8,2118.4h-5.5M1619.2,2064.1h5.5M2138.8,2064.1h-5.5M1619.2,2009.8h5.5M2138.8,2009.8h-5.5"/>
<g clip-path="url(#c43)">
<path class="imu" d="M1619.2,2346.7 1621.8,2346.3 1624.4,2345.8 1627,2345.3 1629.6,2344.9 1632.2,2344.4 1634.8,2343.9 1637.4,2343.4 1640,2343 1642.6,2342.6 1645.2,2342.2 1647.8,2342 1650.4,2341.8 1653,2341.7 1655.6,2341.7 1658.2,2341.8 1660.8,2341.9 1663.4,2342.1 1666,2342.4 1668.6,2342.7 1671.2,2342.9 1673.8,2343.2 1676.4,2343.5 1679,2343.7 1681.6,2343.8 1684.2,2343.8 1686.7,2343.6 1689.3,2343.4 1691.9,2343 1694.5,2342.4 1697.1,2341.7 1699.7,2340.9 1702.3,2339.9 1704.9,2339 1707.5,2337.9 1710.1,2336.9 1712.7,2336 1715.3,2335.1 1717.9,2334.4 1720.5,2333.7 1723.1,2333.2 1725.7,2332.7 1728.3,2332.4 1730.9,2332.2 1733.5,2332.1 1736.1,2332.1 1738.7,2332.3 1741.3,2332.6 1743.9,2332.9 1746.5,2333.5 1749.1,2334.1 1751.7,2334.8 1754.3,2335.6 1756.9,2336.5 1759.5,2337.3 1762.1,2338.2 1764.7,2339.1 1767.3,2339.9 1769.9,2340.6 1772.5,2341.3 1775.1,2341.8 1777.7,2342.3 1780.3,2342.6 1782.9,2342.8 1785.5,2342.9 1788.1,2342.8 1790.7,2342.7 1793.3,2342.4 1795.9,2342 1798.5,2341.6 1801.1,2341 1803.7,2340.4 1806.3,2339.7 1808.9,2338.9 1811.5,2338.1 1814.1,2337.3 1816.6,2336.5 1819.2,2335.6 1821.8,2334.8 1824.4,2334 1827,2333.1 1829.6,2332.3 1832.2,2331.5 1834.8,2330.7 1837.4,2329.9 1840,2329.1 1842.6,2328.3 1845.2,2327.6 1847.8,2327 1850.4,2326.3 1853,2325.6 1855.6,2325 1858.2,2324.3 1860.8,2323.5 1863.4,2322.6 1866,2321.6 1868.6,2320.4 1871.2,2319 1873.8,2317.4 1876.4,2315.4 1879,2313.1 1881.6,2310.2 1884.2,2306.9 1886.8,2303.1 1889.4,2298.6 1892,2293.6 1894.6,2288.1 1897.2,2281.9 1899.8,2275 1902.4,2267.6 1905,2259.7 1907.6,2251.3 1910.2,2242.7 1912.8,2233.9 1915.4,2225.2 1918,2216.6 1920.6,2208.2 1923.2,2200.2 1925.8,2192.8 1928.4,2185.9 1931,2179.7 1933.6,2174.2 1936.2,2169.4 1938.8,2165.4 1941.4,2162 1944,2159.2 1946.5,2157 1949.1,2155.3 1951.7,2154.1 1954.3,2153.2 1956.9,2152.7 1959.5,2152.6 1962.1,2152.8 1964.7,2153.4 1967.3,2154.2 1969.9,2155.3 1972.5,2156.6 1975.1,2158.2 1977.7,2160 1980.3,2162.1 1982.9,2164.3 1985.5,2166.8 1988.1,2169.3 1990.7,2172 1993.3,2174.9 1995.9,2178.1 1998.5,2181.5 2001.1,2185.3 2003.7,2189.4 2006.3,2193.9 2008.9,2198.6 2011.5,2203.6 2014.1,2208.7 2016.7,2214 2019.3,2219.4 2021.9,2224.8 2024.5,2230.3 2027.1,2235.8 2029.7,2241.3 2032.3,2246.8 2034.9,2252.3 2037.5,2257.7 2040.1,2262.8 2042.7,2267.6 2045.3,2272 2047.9,2276.1 2050.5,2279.8 2053.1,2283.1 2055.7,2286.1 2058.3,2288.7 2060.9,2291 2063.5,2293 2066.1,2294.8 2068.7,2296.4 2071.3,2297.9 2073.9,2299.3 2076.4,2300.6 2079,2302 2081.6,2303.4 2084.2,2304.9 2086.8,2306.5 2089.4,2308.2 2092,2310.1 2094.6,2312.1 2097.2,2314.2 2099.8,2316.3 2102.4,2318.5 2105,2320.7 2107.6,2322.8 2110.2,2324.9 2112.8,2327 2115.4,2328.8 2118,2330.6 2120.6,2332.1 2123.2,2333.5 2125.8,2334.7 2128.4,2335.7 2131,2336.6 2133.6,2337.3 2136.2,2337.9 2138.8,2338.5"/>
<path class="vivo" d="M1619.2,2314.2 1621.8,2314.5 1624.4,2314.9 1627,2315.4 1629.6,2316.1 1632.2,2316.8 1634.8,2317.1 1637.4,2316.7 1640,2315.6 1642.6,2314.2 1645.2,2312.5 1647.8,2310.9 1650.4,2309.5 1653,2308.6 1655.6,2308.2 1658.2,2308.5 1660.8,2309.4 1663.4,2310.6 1666,2312 1668.6,2313.2 1671.2,2314.5 1673.8,2315.7 1676.4,2317.1 1679,2318.6 1681.6,2319.9 1684.2,2320.4 1686.7,2320.3 1689.3,2319.6 1691.9,2318.4 1694.5,2316.9 1697.1,2315.2 1699.7,2313.4 1702.3,2311.6 1704.9,2309.8 1707.5,2308.2 1710.1,2306.8 1712.7,2305.7 1715.3,2304.9 1717.9,2304.4 1720.5,2304.1 1723.1,2304 1725.7,2303.9 1728.3,2303.8 1730.9,2303.8 1733.5,2303.7 1736.1,2303.6 1738.7,2303.3 1741.3,2303 1743.9,2303.3 1746.5,2304.7 1749.1,2306.9 1751.7,2309.5 1754.3,2312.1 1756.9,2314.2 1759.5,2315.4 1762.1,2316 1764.7,2316 1767.3,2315.7 1769.9,2315.3 1772.5,2314.9 1775.1,2314.7 1777.7,2314.9 1780.3,2315.4 1782.9,2316.1 1785.5,2317.1 1788.1,2318.3 1790.7,2319.4 1793.3,2320.2 1795.9,2320.7 1798.5,2320.6 1801.1,2320 1803.7,2319 1806.3,2317.9 1808.9,2316.6 1811.5,2315.3 1814.1,2314.2 1816.6,2313.2 1819.2,2312.6 1821.8,2312.3 1824.4,2312.4 1827,2312.8 1829.6,2313.6 1832.2,2314.4 1834.8,2315.1 1837.4,2315.2 1840,2314.7 1842.6,2313.4 1845.2,2311.7 1847.8,2309.7 1850.4,2307.6 1853,2305.5 1855.6,2303.6 1858.2,2302.5 1860.8,2302.4 1863.4,2303.2 1866,2304.4 1868.6,2305.6 1871.2,2306.4 1873.8,2306.3 1876.4,2305 1879,2302.7 1881.6,2299.4 1884.2,2295.4 1886.8,2290.8 1889.4,2286 1892,2281.6 1894.6,2278.3 1897.2,2276.7 1899.8,2275.9 1902.4,2274.8 1905,2272.3 1907.6,2267.6 1910.2,2260.1 1912.8,2249.5 1915.4,2237 1918,2224.7 1920.6,2214 1923.2,2206.1 1925.8,2200.6 1928.4,2196.6 1931,2193.2 1933.6,2190.2 1936.2,2187.6 1938.8,2185.3 1941.4,2183.1 1944,2181.1 1946.5,2179.2 1949.1,2177.3 1951.7,2175.8 1954.3,2174.6 1956.9,2173.9 1959.5,2173.6 1962.1,2173.6 1964.7,2173.8 1967.3,2174.2 1969.9,2174.7 1972.5,2175.3 1975.1,2176.1 1977.7,2177.1 1980.3,2178.1 1982.9,2179.3 1985.5,2180.7 1988.1,2182 1990.7,2183.5 1993.3,2184.9 1995.9,2186.4 1998.5,2188 2001.1,2190.1 2003.7,2192.7 2006.3,2196 2008.9,2199.8 2011.5,2204.2 2014.1,2209.1 2016.7,2214.1 2019.3,2219 2021.9,2223.5 2024.5,2227.2 2027.1,2230.4 2029.7,2233.3 2032.3,2236 2034.9,2238.9 2037.5,2242.2 2040.1,2245.8 2042.7,2249.8 2045.3,2254.2 2047.9,2258.8 2050.5,2263.1 2053.1,2266.7 2055.7,2269.4 2058.3,2271.4 2060.9,2272.8 2063.5,2273.7 2066.1,2274.1 2068.7,2274.3 2071.3,2274.5 2073.9,2274.9 2076.4,2275.6 2079,2276.9 2081.6,2278.5 2084.2,2280.4 2086.8,2282.4 2089.4,2284.2 2092,2285.9 2094.6,2287.6 2097.2,2289.2 2099.8,2290.8 2102.4,2292.5 2105,2294.4 2107.6,2296.7 2110.2,2299.5 2112.8,2302.9 2115.4,2306.6 2118,2310.1 2120.6,2313 2123.2,2315.3 2125.8,2317 2128.4,2317.8 2131,2318 2133.6,2317.3 2136.2,2316.1 2138.8,2314.7"/>
</g>
<text class="tk" transform="translate(1618.4,2537.1) scale(0.92,1)" text-anchor="middle">0</text>
<text class="tk" transform="translate(1722.3,2537.1) scale(0.92,1)" text-anchor="middle">20</text>
<text class="tk" transform="translate(1826.2,2537.1) scale(0.92,1)" text-anchor="middle">40</text>
<text class="tk" transform="translate(1930.2,2537.1) scale(0.92,1)" text-anchor="middle">60</text>
<text class="tk" transform="translate(2034.1,2537.1) scale(0.92,1)" text-anchor="middle">80</text>
<text class="tk" transform="translate(2138,2537.1) scale(0.92,1)" text-anchor="middle">100</text>
<text class="tk" transform="translate(1606,2509.1) scale(0.92,1)" text-anchor="end">-10</text>
<text class="tk" transform="translate(1606,2454.8) scale(0.92,1)" text-anchor="end">-8</text>
<text class="tk" transform="translate(1606,2400.5) scale(0.92,1)" text-anchor="end">-6</text>
<text class="tk" transform="translate(1606,2346.2) scale(0.92,1)" text-anchor="end">-4</text>
<text class="tk" transform="translate(1606,2291.9) scale(0.92,1)" text-anchor="end">-2</text>
<text class="tk" transform="translate(1606,2237.6) scale(0.92,1)" text-anchor="end">0</text>
<text class="tk" transform="translate(1606,2183.3) scale(0.92,1)" text-anchor="end">2</text>
<text class="tk" transform="translate(1606,2129) scale(0.92,1)" text-anchor="end">4</text>
<text class="tk" transform="translate(1606,2074.7) scale(0.92,1)" text-anchor="end">6</text>
<text class="tk" transform="translate(1606,2020.4) scale(0.92,1)" text-anchor="end">8</text>
<text class="tk" transform="translate(1606,1966.1) scale(0.92,1)" text-anchor="end">10</text>
<text class="lb" transform="translate(1550,2224.4) rotate(-90)" text-anchor="middle">Internal (+) / External (-) Tibial Rotation [°]</text>
<rect class="lg" x="1954.6" y="1974.3" width="166.2" height="71.1"/>
<path class="imu" d="M1965.1,1994.5h82.1"/>
<path class="vivo" d="M1965.1,2025.5h82.1"/>
<text class="lt" x="2055.8" y="2003.5">IMU</text>
<text class="lt" x="2055.8" y="2034.4">VIVO</text></g>
<text class="ti" transform="translate(74.7,2932.7) rotate(-90)" textLength="205" lengthAdjust="spacingAndGlyphs">Subject 5</text>
<g class="r5"><clipPath id="c51"><rect x="258.6" y="2568.2" width="519.9" height="544"/></clipPath>
<rect class="ax" x="261.6" y="2571.2" width="513.9" height="538"/>
<path class="ax" d="M364.4,3109.2v-5.5M364.4,2571.2v5.5M467.2,3109.2v-5.5M467.2,2571.2v5.5M569.9,3109.2v-5.5M569.9,2571.2v5.5M672.7,3109.2v-5.5M672.7,2571.2v5.5M261.6,3055.4h5.5M775.5,3055.4h-5.5M261.6,3001.6h5.5M775.5,3001.6h-5.5M261.6,2947.8h5.5M775.5,2947.8h-5.5M261.6,2894h5.5M775.5,2894h-5.5M261.6,2840.2h5.5M775.5,2840.2h-5.5M261.6,2786.4h5.5M775.5,2786.4h-5.5M261.6,2732.6h5.5M775.5,2732.6h-5.5M261.6,2678.8h5.5M775.5,2678.8h-5.5M261.6,2625h5.5M775.5,2625h-5.5"/>
<g clip-path="url(#c51)">
<path class="imu" d="M261.6,3071.6 264.2,3069.8 266.7,3068 269.3,3066.1 271.9,3064.1 274.4,3061.8 277,3059.4 279.6,3056.9 282.2,3054.2 284.7,3051.5 287.3,3048.8 289.9,3046 292.4,3043.3 295,3040.7 297.6,3038.3 300.1,3036.1 302.7,3034.1 305.3,3032.4 307.9,3031 310.4,3029.9 313,3029.1 315.6,3028.5 318.1,3028.1 320.7,3027.9 323.3,3028 325.8,3028.2 328.4,3028.6 331,3029.1 333.5,3029.7 336.1,3030.5 338.7,3031.3 341.3,3032.1 343.8,3033 346.4,3033.8 349,3034.6 351.5,3035.3 354.1,3035.9 356.7,3036.5 359.2,3036.9 361.8,3037.3 364.4,3037.6 366.9,3037.8 369.5,3037.9 372.1,3037.9 374.7,3037.9 377.2,3037.8 379.8,3037.6 382.4,3037.3 384.9,3037 387.5,3036.6 390.1,3036.2 392.6,3035.8 395.2,3035.3 397.8,3034.8 400.4,3034.2 402.9,3033.6 405.5,3032.9 408.1,3032.1 410.6,3031.2 413.2,3030.2 415.8,3029.1 418.3,3027.9 420.9,3026.5 423.5,3025 426,3023.3 428.6,3021.4 431.2,3019.3 433.8,3016.9 436.3,3014.4 438.9,3011.6 441.5,3008.5 444,3005.2 446.6,3001.7 449.2,2997.9 451.7,2993.8 454.3,2989.4 456.9,2984.8 459.5,2979.9 462,2974.9 464.6,2969.6 467.2,2964.2 469.7,2958.7 472.3,2953 474.9,2947.3 477.4,2941.6 480,2935.9 482.6,2930.3 485.1,2924.8 487.7,2919.3 490.3,2914 492.9,2908.6 495.4,2903.3 498,2898 500.6,2892.6 503.1,2887.1 505.7,2881.5 508.3,2875.8 510.8,2869.9 513.4,2863.7 516,2857.3 518.5,2850.5 521.1,2843.5 523.7,2836 526.3,2828.3 528.8,2820.1 531.4,2811.6 534,2802.8 536.5,2793.6 539.1,2784.3 541.7,2774.9 544.2,2765.4 546.8,2755.8 549.4,2746.3 552,2736.9 554.5,2727.5 557.1,2718.4 559.7,2709.6 562.2,2701.1 564.8,2693.1 567.4,2685.5 569.9,2678.3 572.5,2671.7 575.1,2665.5 577.6,2659.8 580.2,2654.6 582.8,2649.8 585.4,2645.4 587.9,2641.5 590.5,2637.8 593.1,2634.5 595.6,2631.5 598.2,2628.7 600.8,2626.1 603.3,2623.6 605.9,2621.4 608.5,2619.3 611.1,2617.5 613.6,2616 616.2,2614.8 618.8,2613.9 621.3,2613.6 623.9,2613.7 626.5,2614.4 629,2615.8 631.6,2617.7 634.2,2620.4 636.7,2623.7 639.3,2627.8 641.9,2632.7 644.5,2638.5 647,2645.1 649.6,2652.7 652.2,2661.2 654.7,2670.8 657.3,2681.2 659.9,2692.4 662.4,2704.4 665,2717 667.6,2730.2 670.2,2743.9 672.7,2757.9 675.3,2772.3 677.9,2786.9 680.4,2801.6 683,2816.3 685.6,2831.1 688.1,2845.9 690.7,2860.5 693.3,2875.1 695.8,2889.4 698.4,2903.5 701,2917.2 703.6,2930.6 706.1,2943.5 708.7,2955.9 711.3,2967.8 713.8,2979.2 716.4,2989.9 719,2999.9 721.5,3009.3 724.1,3018 726.7,3026 729.2,3033.4 731.8,3040 734.4,3046 737,3051.3 739.5,3055.9 742.1,3059.9 744.7,3063.2 747.2,3066 749.8,3068.3 752.4,3070.1 754.9,3071.5 757.5,3072.6 760.1,3073.3 762.7,3073.8 765.2,3074.1 767.8,3074.3 770.4,3074.3 772.9,3074.3 775.5,3074.2"/>
<path class="vivo" d="M261.6,3076.1 264.2,3074.7 266.7,3073.3 269.3,3071.7 271.9,3069.9 274.4,3067.9 277,3065.5 279.6,3062.7 282.2,3059.6 284.7,3056.4 287.3,3053.2 289.9,3050.1 292.4,3047.1 295,3044.3 297.6,3041.7 300.1,3039.2 302.7,3036.9 305.3,3034.7 307.9,3032.8 310.4,3031.1 313,3029.9 315.6,3029.1 318.1,3028.8 320.7,3028.9 323.3,3029.4 325.8,3030.3 328.4,3031.4 331,3032.7 333.5,3033.9 336.1,3035.1 338.7,3036.1 341.3,3037 343.8,3037.9 346.4,3038.6 349,3039.3 351.5,3040 354.1,3040.6 356.7,3041.2 359.2,3041.7 361.8,3042.1 364.4,3042.5 366.9,3042.8 369.5,3043 372.1,3043.1 374.7,3043.2 377.2,3043.1 379.8,3043 382.4,3042.7 384.9,3042.4 387.5,3041.9 390.1,3041.4 392.6,3040.9 395.2,3040.3 397.8,3039.6 400.4,3038.8 402.9,3038 405.5,3037.1 408.1,3036.2 410.6,3035.1 413.2,3034.1 415.8,3032.9 418.3,3031.7 420.9,3030.4 423.5,3029 426,3027.3 428.6,3025.5 431.2,3023.4 433.8,3021.1 436.3,3018.5 438.9,3015.7 441.5,3012.7 444,3009.5 446.6,3006.2 449.2,3002.5 451.7,2998.6 454.3,2994.2 456.9,2989.5 459.5,2984.6 462,2979.3 464.6,2973.9 467.2,2968.3 469.7,2962.5 472.3,2956.7 474.9,2950.9 477.4,2945 480,2939.2 482.6,2933.5 485.1,2927.8 487.7,2922.2 490.3,2916.7 492.9,2911.2 495.4,2905.8 498,2900.3 500.6,2894.9 503.1,2889.3 505.7,2883.7 508.3,2878 510.8,2872.1 513.4,2866 516,2859.6 518.5,2853 521.1,2845.9 523.7,2838.4 526.3,2830.6 528.8,2822.3 531.4,2813.6 534,2804.5 536.5,2795.2 539.1,2785.6 541.7,2776 544.2,2766.3 546.8,2756.7 549.4,2747 552,2737.4 554.5,2727.9 557.1,2718.5 559.7,2709.4 562.2,2700.5 564.8,2692.1 567.4,2684.2 569.9,2676.9 572.5,2670.1 575.1,2664 577.6,2658.6 580.2,2654 582.8,2650.3 585.4,2647.4 587.9,2645.2 590.5,2643.4 593.1,2641.9 595.6,2640.4 598.2,2638.9 600.8,2637.2 603.3,2635.4 605.9,2633.1 608.5,2630.6 611.1,2627.8 613.6,2624.8 616.2,2621.9 618.8,2619 621.3,2616.4 623.9,2614.2 626.5,2612.8 629,2612.2 631.6,2612.7 634.2,2614.3 636.7,2617.4 639.3,2621.9 641.9,2627.7 644.5,2634.7 647,2642.4 649.6,2650.8 652.2,2660.1 654.7,2670.1 657.3,2680.9 659.9,2692.3 662.4,2704.4 665,2717.1 667.6,2730.3 670.2,2744 672.7,2758.1 675.3,2772.5 677.9,2787 680.4,2801.7 683,2816.4 685.6,2831.1 688.1,2845.8 690.7,2860.5 693.3,2875.1 695.8,2889.5 698.4,2903.6 701,2917.4 703.6,2930.8 706.1,2943.7 708.7,2956.2 711.3,2968.1 713.8,2979.4 716.4,2990.1 719,3000.1 721.5,3009.5 724.1,3018.3 726.7,3026.4 729.2,3033.9 731.8,3040.6 734.4,3046.7 737,3052.1 739.5,3056.8 742.1,3060.7 744.7,3064 747.2,3066.7 749.8,3068.9 752.4,3070.7 754.9,3072 757.5,3073 760.1,3073.7 762.7,3074.2 765.2,3074.5 767.8,3074.6 770.4,3074.6 772.9,3074.5 775.5,3074.4"/>
</g>
<text class="tk" transform="translate(260.8,3147.8) scale(0.92,1)" text-anchor="middle">0</text>
<text class="tk" transform="translate(363.6,3147.8) scale(0.92,1)" text-anchor="middle">20</text>
<text class="tk" transform="translate(466.4,3147.8) scale(0.92,1)" text-anchor="middle">40</text>
<text class="tk" transform="translate(569.1,3147.8) scale(0.92,1)" text-anchor="middle">60</text>
<text class="tk" transform="translate(671.9,3147.8) scale(0.92,1)" text-anchor="middle">80</text>
<text class="tk" transform="translate(774.7,3147.8) scale(0.92,1)" text-anchor="middle">100</text>
<text class="tk" transform="translate(248.4,3119.8) scale(0.92,1)" text-anchor="end">-10</text>
<text class="tk" transform="translate(248.4,3066) scale(0.92,1)" text-anchor="end">0</text>
<text class="tk" transform="translate(248.4,3012.2) scale(0.92,1)" text-anchor="end">10</text>
<text class="tk" transform="translate(248.4,2958.4) scale(0.92,1)" text-anchor="end">20</text>
<text class="tk" transform="translate(248.4,2904.6) scale(0.92,1)" text-anchor="end">30</text>
<text class="tk" transform="translate(248.4,2850.8) scale(0.92,1)" text-anchor="end">40</text>
<text class="tk" transform="translate(248.4,2797) scale(0.92,1)" text-anchor="end">50</text>
<text class="tk" transform="translate(248.4,2743.2) scale(0.92,1)" text-anchor="end">60</text>
<text class="tk" transform="translate(248.4,2689.4) scale(0.92,1)" text-anchor="end">70</text>
<text class="tk" transform="translate(248.4,2635.6) scale(0.92,1)" text-anchor="end">80</text>
<text class="tk" transform="translate(248.4,2581.8) scale(0.92,1)" text-anchor="end">90</text>
<text class="lb" transform="translate(193.8,2836.7) rotate(-90)" text-anchor="middle">Flexion (+) / Extension (-) [°]</text></g>
<g class="r5"><clipPath id="c52"><rect x="934.6" y="2568.2" width="521" height="544"/></clipPath>
<rect class="ax" x="937.6" y="2571.2" width="515" height="538"/>
<path class="ax" d="M1040.6,3109.2v-5.5M1040.6,2571.2v5.5M1143.6,3109.2v-5.5M1143.6,2571.2v5.5M1246.6,3109.2v-5.5M1246.6,2571.2v5.5M1349.6,3109.2v-5.5M1349.6,2571.2v5.5M937.6,3055.4h5.5M1452.6,3055.4h-5.5M937.6,3001.6h5.5M1452.6,3001.6h-5.5M937.6,2947.8h5.5M1452.6,2947.8h-5.5M937.6,2894h5.5M1452.6,2894h-5.5M937.6,2840.2h5.5M1452.6,2840.2h-5.5M937.6,2786.4h5.5M1452.6,2786.4h-5.5M937.6,2732.6h5.5M1452.6,2732.6h-5.5M937.6,2678.8h5.5M1452.6,2678.8h-5.5M937.6,2625h5.5M1452.6,2625h-5.5"/>
<g clip-path="url(#c52)">
<path class="imu" d="M937.6,2866.8 940.2,2865.2 942.8,2863.6 945.3,2861.9 947.9,2860.3 950.5,2858.6 953.1,2857 955.6,2855.3 958.2,2853.7 960.8,2852.2 963.4,2850.7 965.9,2849.4 968.5,2848.1 971.1,2847 973.6,2846 976.2,2845.1 978.8,2844.3 981.4,2843.7 984,2843.3 986.5,2842.9 989.1,2842.7 991.7,2842.5 994.2,2842.4 996.8,2842.4 999.4,2842.3 1002,2842.3 1004.5,2842.2 1007.1,2842 1009.7,2841.8 1012.3,2841.6 1014.9,2841.4 1017.4,2841.2 1020,2841 1022.6,2840.8 1025.2,2840.6 1027.7,2840.4 1030.3,2840.2 1032.9,2839.9 1035.5,2839.7 1038,2839.4 1040.6,2839.1 1043.2,2838.9 1045.8,2838.6 1048.3,2838.4 1050.9,2838.1 1053.5,2837.8 1056,2837.5 1058.6,2837.3 1061.2,2837 1063.8,2836.7 1066.3,2836.4 1068.9,2836.1 1071.5,2835.8 1074.1,2835.5 1076.7,2835.3 1079.2,2835 1081.8,2834.7 1084.4,2834.4 1087,2834.1 1089.5,2833.8 1092.1,2833.5 1094.7,2833.2 1097.2,2832.9 1099.8,2832.7 1102.4,2832.4 1105,2832.1 1107.5,2831.8 1110.1,2831.5 1112.7,2831.2 1115.3,2830.9 1117.8,2830.6 1120.4,2830.2 1123,2829.9 1125.6,2829.4 1128.2,2828.9 1130.7,2828.3 1133.3,2827.6 1135.9,2826.8 1138.5,2825.9 1141,2824.9 1143.6,2823.9 1146.2,2822.9 1148.8,2822 1151.3,2821 1153.9,2820 1156.5,2819 1159,2818.1 1161.6,2817.1 1164.2,2816.1 1166.8,2815.2 1169.3,2814.3 1171.9,2813.5 1174.5,2812.8 1177.1,2812.1 1179.7,2811.6 1182.2,2811.3 1184.8,2811.1 1187.4,2811 1190,2811 1192.5,2811 1195.1,2811.1 1197.7,2811.2 1200.2,2811.3 1202.8,2811.3 1205.4,2811.3 1208,2811.3 1210.5,2811.1 1213.1,2810.8 1215.7,2810.4 1218.3,2809.9 1220.8,2809.2 1223.4,2808.4 1226,2807.5 1228.6,2806.5 1231.2,2805.4 1233.7,2804.2 1236.3,2803 1238.9,2801.7 1241.4,2800.5 1244,2799.3 1246.6,2798.1 1249.2,2797.1 1251.8,2796.1 1254.3,2795.3 1256.9,2794.5 1259.5,2793.8 1262,2793.2 1264.6,2792.7 1267.2,2792.1 1269.8,2791.7 1272.3,2791.2 1274.9,2790.6 1277.5,2790.1 1280.1,2789.4 1282.7,2788.8 1285.2,2788.1 1287.8,2787.3 1290.4,2786.5 1292.9,2785.5 1295.5,2784.5 1298.1,2783.3 1300.7,2782 1303.2,2780.4 1305.8,2778.7 1308.4,2776.8 1311,2774.8 1313.5,2772.6 1316.1,2770.4 1318.7,2768.1 1321.3,2765.8 1323.8,2763.5 1326.4,2761.3 1329,2759.2 1331.6,2757.3 1334.2,2755.6 1336.7,2754.2 1339.3,2753.1 1341.9,2752.3 1344.4,2751.9 1347,2752 1349.6,2752.5 1352.2,2753.4 1354.8,2755 1357.3,2757 1359.9,2759.6 1362.5,2762.6 1365,2766.1 1367.6,2770 1370.2,2774.2 1372.8,2778.9 1375.3,2783.9 1377.9,2789.2 1380.5,2794.8 1383.1,2800.5 1385.7,2806.3 1388.2,2811.9 1390.8,2817.4 1393.4,2822.6 1395.9,2827.7 1398.5,2832.4 1401.1,2836.9 1403.7,2841.1 1406.2,2845 1408.8,2848.5 1411.4,2851.8 1414,2854.8 1416.5,2857.6 1419.1,2860.1 1421.7,2862.3 1424.3,2864.3 1426.8,2865.9 1429.4,2867.2 1432,2868.2 1434.6,2868.9 1437.1,2869.2 1439.7,2869.3 1442.3,2869.1 1444.9,2868.6 1447.4,2867.9 1450,2867.1 1452.6,2866.3"/>
<path class="vivo" d="M937.6,2853.9 940.2,2851.5 942.8,2849.2 945.3,2847 947.9,2845.1 950.5,2843.3 953.1,2841.9 955.6,2840.7 958.2,2839.7 960.8,2838.9 963.4,2838.3 965.9,2837.9 968.5,2837.7 971.1,2837.5 973.6,2837.3 976.2,2837.2 978.8,2837.1 981.4,2837 984,2837 986.5,2837.1 989.1,2837.3 991.7,2837.7 994.2,2838.2 996.8,2838.7 999.4,2839 1002,2839 1004.5,2838.7 1007.1,2838 1009.7,2837.1 1012.3,2836.1 1014.9,2835.1 1017.4,2834.3 1020,2833.6 1022.6,2833.1 1025.2,2832.9 1027.7,2832.8 1030.3,2832.6 1032.9,2832.4 1035.5,2832 1038,2831.6 1040.6,2831.2 1043.2,2830.8 1045.8,2830.4 1048.3,2830.1 1050.9,2829.9 1053.5,2829.7 1056,2829.7 1058.6,2829.7 1061.2,2829.8 1063.8,2830 1066.3,2830.1 1068.9,2829.7 1071.5,2829.1 1074.1,2828.5 1076.7,2828 1079.2,2827.7 1081.8,2827.7 1084.4,2827.8 1087,2827.8 1089.5,2827.6 1092.1,2827.3 1094.7,2827 1097.2,2826.6 1099.8,2826.2 1102.4,2825.9 1105,2825.7 1107.5,2825.7 1110.1,2825.8 1112.7,2826 1115.3,2826.2 1117.8,2826.5 1120.4,2826.6 1123,2826.8 1125.6,2826.9 1128.2,2827 1130.7,2827.2 1133.3,2827.4 1135.9,2827.6 1138.5,2827.8 1141,2828.1 1143.6,2828.5 1146.2,2828.9 1148.8,2829.4 1151.3,2829.9 1153.9,2830.4 1156.5,2830.7 1159,2831 1161.6,2831.1 1164.2,2831.1 1166.8,2831.1 1169.3,2831 1171.9,2831.1 1174.5,2831.3 1177.1,2831.6 1179.7,2832.1 1182.2,2832.7 1184.8,2833.5 1187.4,2834.3 1190,2835.2 1192.5,2836.2 1195.1,2837.3 1197.7,2838.6 1200.2,2839.9 1202.8,2841.5 1205.4,2843.3 1208,2845.3 1210.5,2847.5 1213.1,2849.6 1215.7,2851.3 1218.3,2852.8 1220.8,2853.9 1223.4,2854.6 1226,2854.9 1228.6,2854.9 1231.2,2854.5 1233.7,2854 1236.3,2853.5 1238.9,2853.1 1241.4,2852.7 1244,2852.4 1246.6,2852 1249.2,2851.4 1251.8,2850.7 1254.3,2849.9 1256.9,2848.9 1259.5,2848 1262,2847.2 1264.6,2846.4 1267.2,2845.9 1269.8,2845.6 1272.3,2845.6 1274.9,2845.7 1277.5,2845.9 1280.1,2846.1 1282.7,2846.4 1285.2,2846.6 1287.8,2846.6 1290.4,2846.5 1292.9,2846.1 1295.5,2845.4 1298.1,2844.3 1300.7,2842.9 1303.2,2841.2 1305.8,2839 1308.4,2836.6 1311,2834 1313.5,2831.4 1316.1,2829 1318.7,2827.1 1321.3,2825.5 1323.8,2824.1 1326.4,2822.7 1329,2821.3 1331.6,2819.7 1334.2,2817.7 1336.7,2815.1 1339.3,2811.7 1341.9,2807.6 1344.4,2803.8 1347,2801.1 1349.6,2799.9 1352.2,2799.9 1354.8,2800.8 1357.3,2801.6 1359.9,2802 1362.5,2802 1365,2801.8 1367.6,2801.8 1370.2,2802 1372.8,2802.9 1375.3,2804.4 1377.9,2806.9 1380.5,2810.3 1383.1,2814.1 1385.7,2817.8 1388.2,2820.9 1390.8,2823.4 1393.4,2825.5 1395.9,2827.5 1398.5,2829.5 1401.1,2831.7 1403.7,2834.3 1406.2,2837.2 1408.8,2840.2 1411.4,2843.2 1414,2846 1416.5,2848.5 1419.1,2850.6 1421.7,2852.2 1424.3,2853.4 1426.8,2854.2 1429.4,2854.6 1432,2854.9 1434.6,2855 1437.1,2855.1 1439.7,2855.1 1442.3,2855.1 1444.9,2855 1447.4,2855 1450,2855 1452.6,2855"/>
</g>
<text class="tk" transform="translate(936.8,3147.8) scale(0.92,1)" text-anchor="middle">0</text>
<text class="tk" transform="translate(1039.8,3147.8) scale(0.92,1)" text-anchor="middle">20</text>
<text class="tk" transform="translate(1142.8,3147.8) scale(0.92,1)" text-anchor="middle">40</text>
<text class="tk" transform="translate(1245.8,3147.8) scale(0.92,1)" text-anchor="middle">60</text>
<text class="tk" transform="translate(1348.8,3147.8) scale(0.92,1)" text-anchor="middle">80</text>
<text class="tk" transform="translate(1451.8,3147.8) scale(0.92,1)" text-anchor="middle">100</text>
<text class="tk" transform="translate(924.4,3119.8) scale(0.92,1)" text-anchor="end">-10</text>
<text class="tk" transform="translate(924.4,3066) scale(0.92,1)" text-anchor="end">-8</text>
<text class="tk" transform="translate(924.4,3012.2) scale(0.92,1)" text-anchor="end">-6</text>
<text class="tk" transform="translate(924.4,2958.4) scale(0.92,1)" text-anchor="end">-4</text>
<text class="tk" transform="translate(924.4,2904.6) scale(0.92,1)" text-anchor="end">-2</text>
<text class="tk" transform="translate(924.4,2850.8) scale(0.92,1)" text-anchor="end">0</text>
<text class="tk" transform="translate(924.4,2797) scale(0.92,1)" text-anchor="end">2</text>
<text class="tk" transform="translate(924.4,2743.2) scale(0.92,1)" text-anchor="end">4</text>
<text class="tk" transform="translate(924.4,2689.4) scale(0.92,1)" text-anchor="end">6</text>
<text class="tk" transform="translate(924.4,2635.6) scale(0.92,1)" text-anchor="end">8</text>
<text class="tk" transform="translate(924.4,2581.8) scale(0.92,1)" text-anchor="end">10</text>
<text class="lb" transform="translate(869.8,2840.6) rotate(-90)" text-anchor="middle">Adduction (+) / Abduction (-) [°]</text></g>
<g class="r5"><clipPath id="c53"><rect x="1611.2" y="2568.2" width="521" height="544"/></clipPath>
<rect class="ax" x="1614.2" y="2571.2" width="515" height="538"/>
<path class="ax" d="M1717.2,3109.2v-5.5M1717.2,2571.2v5.5M1820.2,3109.2v-5.5M1820.2,2571.2v5.5M1923.2,3109.2v-5.5M1923.2,2571.2v5.5M2026.2,3109.2v-5.5M2026.2,2571.2v5.5M1614.2,3055.4h5.5M2129.2,3055.4h-5.5M1614.2,3001.6h5.5M2129.2,3001.6h-5.5M1614.2,2947.8h5.5M2129.2,2947.8h-5.5M1614.2,2894h5.5M2129.2,2894h-5.5M1614.2,2840.2h5.5M2129.2,2840.2h-5.5M1614.2,2786.4h5.5M2129.2,2786.4h-5.5M1614.2,2732.6h5.5M2129.2,2732.6h-5.5M1614.2,2678.8h5.5M2129.2,2678.8h-5.5M1614.2,2625h5.5M2129.2,2625h-5.5"/>
<g clip-path="url(#c53)">
<path class="imu" d="M1614.2,2924.3 1616.8,2922.4 1619.4,2920.7 1621.9,2919.3 1624.5,2918.4 1627.1,2918 1629.7,2918 1632.2,2918.5 1634.8,2919.4 1637.4,2920.5 1640,2921.7 1642.5,2922.8 1645.1,2923.8 1647.7,2924.7 1650.2,2925.4 1652.8,2925.8 1655.4,2925.9 1658,2925.9 1660.5,2925.6 1663.1,2925.3 1665.7,2924.9 1668.3,2924.4 1670.8,2924 1673.4,2923.6 1676,2923.4 1678.6,2923.4 1681.2,2923.5 1683.7,2923.8 1686.3,2924.4 1688.9,2925.1 1691.5,2925.9 1694,2926.9 1696.6,2928 1699.2,2929.1 1701.8,2930.2 1704.3,2931.1 1706.9,2931.9 1709.5,2932.5 1712,2932.9 1714.6,2933 1717.2,2932.9 1719.8,2932.5 1722.3,2931.7 1724.9,2930.8 1727.5,2929.6 1730.1,2928.3 1732.7,2926.8 1735.2,2925.3 1737.8,2923.8 1740.4,2922.2 1743,2920.8 1745.5,2919.4 1748.1,2918.2 1750.7,2917.2 1753.2,2916.6 1755.8,2916.2 1758.4,2916.3 1761,2916.8 1763.5,2917.6 1766.1,2919 1768.7,2920.7 1771.3,2922.7 1773.8,2925 1776.4,2927.6 1779,2930.3 1781.6,2933.2 1784.2,2936.1 1786.7,2938.9 1789.3,2941.7 1791.9,2944.5 1794.5,2947.1 1797,2949.6 1799.6,2951.9 1802.2,2954 1804.8,2955.8 1807.3,2957.2 1809.9,2958.3 1812.5,2959 1815,2959.2 1817.6,2959 1820.2,2958.4 1822.8,2957.3 1825.3,2955.8 1827.9,2953.9 1830.5,2951.7 1833.1,2949.3 1835.6,2946.7 1838.2,2943.9 1840.8,2941.1 1843.4,2938.3 1845.9,2935.6 1848.5,2933 1851.1,2930.5 1853.7,2928.2 1856.2,2926.2 1858.8,2924.4 1861.4,2922.9 1864,2921.6 1866.5,2920.5 1869.1,2919.6 1871.7,2919 1874.3,2918.5 1876.8,2918.1 1879.4,2917.8 1882,2917.4 1884.6,2916.9 1887.1,2916.3 1889.7,2915.3 1892.3,2914.1 1894.9,2912.4 1897.4,2910.2 1900,2907.6 1902.6,2904.3 1905.2,2900.5 1907.8,2896 1910.3,2890.9 1912.9,2885.1 1915.5,2878.8 1918,2871.8 1920.6,2864.3 1923.2,2856.4 1925.8,2848.1 1928.3,2839.6 1930.9,2830.8 1933.5,2822 1936.1,2813.2 1938.6,2804.5 1941.2,2796.1 1943.8,2787.9 1946.4,2780.1 1948.9,2772.6 1951.5,2765.2 1954.1,2758 1956.7,2750.8 1959.2,2743.6 1961.8,2736.5 1964.4,2729.4 1967,2722.4 1969.5,2715.6 1972.1,2708.9 1974.7,2702.6 1977.3,2696.6 1979.8,2691.1 1982.4,2686.2 1985,2681.9 1987.6,2678.5 1990.1,2675.8 1992.7,2674 1995.3,2672.9 1997.9,2672.6 2000.4,2673.2 2003,2674.5 2005.6,2676.6 2008.2,2679.5 2010.8,2683.2 2013.3,2687.7 2015.9,2692.9 2018.5,2698.9 2021,2705.8 2023.6,2713.6 2026.2,2722.2 2028.8,2731.9 2031.3,2742.4 2033.9,2753.9 2036.5,2766.1 2039.1,2779.1 2041.6,2792.9 2044.2,2807.3 2046.8,2822.5 2049.4,2838.3 2051.9,2854.6 2054.5,2871.3 2057.1,2888.1 2059.7,2904.9 2062.2,2921.4 2064.8,2937.1 2067.4,2951.7 2070,2964.9 2072.5,2976.5 2075.1,2986.4 2077.7,2994.3 2080.3,3000.5 2082.8,3005.1 2085.4,3008 2088,3009.4 2090.6,3009.1 2093.1,3007.3 2095.7,3004 2098.3,2999.4 2100.9,2993.6 2103.4,2986.9 2106,2979.5 2108.6,2971.6 2111.2,2963.4 2113.8,2955.4 2116.3,2947.6 2118.9,2940.3 2121.5,2933.5 2124,2927.3 2126.6,2921.5 2129.2,2916.2"/>
<path class="vivo" d="M1614.2,2862.3 1616.8,2865.6 1619.4,2869.4 1621.9,2873.8 1624.5,2879 1627.1,2883.5 1629.7,2885.9 1632.2,2886.3 1634.8,2885.1 1637.4,2882.7 1640,2879.6 1642.5,2876.4 1645.1,2873.8 1647.7,2872.4 1650.2,2871.8 1652.8,2871.2 1655.4,2870.1 1658,2867.9 1660.5,2865 1663.1,2861.7 1665.7,2858.5 1668.3,2855.8 1670.8,2854 1673.4,2853.8 1676,2855.8 1678.6,2860.6 1681.2,2868.2 1683.7,2878.2 1686.3,2889.2 1688.9,2899.4 1691.5,2906.6 1694,2908.4 1696.6,2901.2 1699.2,2889.2 1701.8,2880.3 1704.3,2875 1706.9,2871.9 1709.5,2870 1712,2869 1714.6,2869 1717.2,2870 1719.8,2871.5 1722.3,2873.1 1724.9,2874 1727.5,2873.8 1730.1,2872.1 1732.7,2869.4 1735.2,2866.2 1737.8,2863.3 1740.4,2861.3 1743,2860.5 1745.5,2861.5 1748.1,2864.3 1750.7,2868.5 1753.2,2873.2 1755.8,2877.6 1758.4,2881 1761,2883.5 1763.5,2885.4 1766.1,2886.9 1768.7,2888.4 1771.3,2890.4 1773.8,2893.2 1776.4,2897.1 1779,2901.6 1781.6,2906.3 1784.2,2910.4 1786.7,2913.5 1789.3,2915 1791.9,2914.5 1794.5,2912.9 1797,2911.2 1799.6,2910.3 1802.2,2910.1 1804.8,2910.4 1807.3,2911 1809.9,2911.6 1812.5,2911.6 1815,2910.7 1817.6,2908.5 1820.2,2904.8 1822.8,2900.3 1825.3,2895.9 1827.9,2892.3 1830.5,2889.6 1833.1,2887.3 1835.6,2885.2 1838.2,2883.4 1840.8,2881.9 1843.4,2880.6 1845.9,2879.6 1848.5,2878.9 1851.1,2878.6 1853.7,2878.7 1856.2,2879.3 1858.8,2880.3 1861.4,2881.7 1864,2883.3 1866.5,2884.6 1869.1,2885 1871.7,2883.2 1874.3,2878.3 1876.8,2872.1 1879.4,2867.4 1882,2866.1 1884.6,2867.9 1887.1,2871.9 1889.7,2877.3 1892.3,2882.7 1894.9,2886.5 1897.4,2885.4 1900,2877.4 1902.6,2866.3 1905.2,2855.7 1907.8,2841.3 1910.3,2821.9 1912.9,2811.6 1915.5,2808.5 1918,2806.3 1920.6,2803.3 1923.2,2799 1925.8,2793.5 1928.3,2787.2 1930.9,2780.7 1933.5,2774.7 1936.1,2770 1938.6,2767.1 1941.2,2766.2 1943.8,2766.9 1946.4,2768.1 1948.9,2768.6 1951.5,2767 1954.1,2762.2 1956.7,2753.7 1959.2,2745 1961.8,2739.2 1964.4,2735.3 1967,2731.3 1969.5,2727.4 1972.1,2724 1974.7,2721.4 1977.3,2719.5 1979.8,2717.9 1982.4,2716.3 1985,2714.3 1987.6,2711.7 1990.1,2708.4 1992.7,2704.6 1995.3,2700.7 1997.9,2697.3 2000.4,2694.9 2003,2694 2005.6,2694.2 2008.2,2694.9 2010.8,2695.7 2013.3,2696.4 2015.9,2697.7 2018.5,2700.9 2021,2706.5 2023.6,2714.2 2026.2,2724 2028.8,2735.7 2031.3,2748.7 2033.9,2762.2 2036.5,2775.3 2039.1,2791.2 2041.6,2812.2 2044.2,2833.5 2046.8,2850.5 2049.4,2868.2 2051.9,2891 2054.5,2914.2 2057.1,2931.9 2059.7,2945.1 2062.2,2955.8 2064.8,2964.7 2067.4,2972 2070,2977.7 2072.5,2980.3 2075.1,2978.8 2077.7,2973.9 2080.3,2966.6 2082.8,2957 2085.4,2945.1 2088,2931.3 2090.6,2918.2 2093.1,2908.4 2095.7,2900.7 2098.3,2893.8 2100.9,2887.4 2103.4,2881.6 2106,2876.5 2108.6,2871.9 2111.2,2868.1 2113.8,2865 2116.3,2862.7 2118.9,2861.2 2121.5,2860.5 2124,2860.4 2126.6,2860.7 2129.2,2861.2"/>
</g>
<text class="tk" transform="translate(1613.4,3147.8) scale(0.92,1)" text-anchor="middle">0</text>
<text class="tk" transform="translate(1716.4,3147.8) scale(0.92,1)" text-anchor="middle">20</text>
<text class="tk" transform="translate(1819.4,3147.8) scale(0.92,1)" text-anchor="middle">40</text>
<text class="tk" transform="translate(1922.4,3147.8) scale(0.92,1)" text-anchor="middle">60</text>
<text class="tk" transform="translate(2025.4,3147.8) scale(0.92,1)" text-anchor="middle">80</text>
<text class="tk" transform="translate(2128.4,3147.8) scale(0.92,1)" text-anchor="middle">100</text>
<text class="tk" transform="translate(1601,3119.8) scale(0.92,1)" text-anchor="end">-10</text>
<text class="tk" transform="translate(1601,3066) scale(0.92,1)" text-anchor="end">-8</text>
<text class="tk" transform="translate(1601,3012.2) scale(0.92,1)" text-anchor="end">-6</text>
<text class="tk" transform="translate(1601,2958.4) scale(0.92,1)" text-anchor="end">-4</text>
<text class="tk" transform="translate(1601,2904.6) scale(0.92,1)" text-anchor="end">-2</text>
<text class="tk" transform="translate(1601,2850.8) scale(0.92,1)" text-anchor="end">0</text>
<text class="tk" transform="translate(1601,2797) scale(0.92,1)" text-anchor="end">2</text>
<text class="tk" transform="translate(1601,2743.2) scale(0.92,1)" text-anchor="end">4</text>
<text class="tk" transform="translate(1601,2689.4) scale(0.92,1)" text-anchor="end">6</text>
<text class="tk" transform="translate(1601,2635.6) scale(0.92,1)" text-anchor="end">8</text>
<text class="tk" transform="translate(1601,2581.8) scale(0.92,1)" text-anchor="end">10</text>
<text class="lb" transform="translate(1546.4,2837.6) rotate(-90)" text-anchor="middle">Internal (+) / External (-) Tibial Rotation [°]</text>
<rect class="lg" x="1946.2" y="2590" width="166.2" height="71.1"/>
<path class="imu" d="M1956.7,2610.2h82.1"/>
<path class="vivo" d="M1956.7,2641.2h82.1"/>
<text class="lt" x="2047.4" y="2619.2">IMU</text>
<text class="lt" x="2047.4" y="2650.1">VIVO</text></g>
<text class="ti" transform="translate(81.7,3546) rotate(-90)" textLength="205" lengthAdjust="spacingAndGlyphs">Subject 6</text>
<g class="r6"><clipPath id="c61"><rect x="269.3" y="3178.5" width="520.2" height="543"/></clipPath>
<rect class="ax" x="272.3" y="3181.5" width="514.2" height="537"/>
<path class="ax" d="M375.1,3718.5v-5.5M375.1,3181.5v5.5M478,3718.5v-5.5M478,3181.5v5.5M580.8,3718.5v-5.5M580.8,3181.5v5.5M683.7,3718.5v-5.5M683.7,3181.5v5.5M272.3,3664.8h5.5M786.5,3664.8h-5.5M272.3,3611.1h5.5M786.5,3611.1h-5.5M272.3,3557.4h5.5M786.5,3557.4h-5.5M272.3,3503.7h5.5M786.5,3503.7h-5.5M272.3,3450h5.5M786.5,3450h-5.5M272.3,3396.3h5.5M786.5,3396.3h-5.5M272.3,3342.6h5.5M786.5,3342.6h-5.5M272.3,3288.9h5.5M786.5,3288.9h-5.5M272.3,3235.2h5.5M786.5,3235.2h-5.5"/>
<g clip-path="url(#c61)">
<path class="imu" d="M272.3,3698.3 274.9,3697.6 277.4,3696.9 280,3696 282.6,3694.9 285.2,3693.6 287.7,3692 290.3,3690 292.9,3687.6 295.4,3684.7 298,3681.4 300.6,3677.5 303.2,3673 305.7,3668.2 308.3,3662.9 310.9,3657.3 313.4,3651.5 316,3645.5 318.6,3639.6 321.1,3633.7 323.7,3628 326.3,3622.5 328.9,3617.2 331.4,3612.1 334,3607.3 336.6,3602.8 339.1,3598.8 341.7,3595.2 344.3,3592 346.9,3589.3 349.4,3587.1 352,3585.3 354.6,3584 357.1,3583.1 359.7,3582.5 362.3,3582.2 364.9,3582.2 367.4,3582.4 370,3582.7 372.6,3583.2 375.1,3583.7 377.7,3584.3 380.3,3584.9 382.9,3585.5 385.4,3586 388,3586.4 390.6,3586.8 393.1,3587.1 395.7,3587.4 398.3,3587.5 400.9,3587.6 403.4,3587.6 406,3587.5 408.6,3587.4 411.1,3587.1 413.7,3586.8 416.3,3586.4 418.8,3585.9 421.4,3585.2 424,3584.5 426.6,3583.7 429.1,3582.7 431.7,3581.7 434.3,3580.5 436.8,3579.2 439.4,3577.8 442,3576.3 444.6,3574.7 447.1,3572.9 449.7,3571 452.3,3568.9 454.8,3566.7 457.4,3564.4 460,3561.9 462.6,3559.4 465.1,3556.7 467.7,3554 470.3,3551.1 472.8,3548.2 475.4,3545.2 478,3542.2 480.6,3539 483.1,3535.7 485.7,3532.2 488.3,3528.7 490.8,3525.1 493.4,3521.5 496,3517.7 498.5,3513.9 501.1,3509.9 503.7,3505.9 506.3,3501.9 508.8,3497.7 511.4,3493.5 514,3489.2 516.5,3484.8 519.1,3480.3 521.7,3475.6 524.3,3470.9 526.8,3466 529.4,3461 532,3455.7 534.5,3450.3 537.1,3444.7 539.7,3438.9 542.3,3433 544.8,3426.9 547.4,3420.7 550,3414.3 552.5,3407.8 555.1,3401.2 557.7,3394.4 560.3,3387.5 562.8,3380.6 565.4,3373.7 568,3366.8 570.5,3360 573.1,3353.4 575.7,3347 578.2,3340.7 580.8,3334.7 583.4,3328.9 586,3323.4 588.5,3318.1 591.1,3313.2 593.7,3308.6 596.2,3304.3 598.8,3300.3 601.4,3296.7 604,3293.4 606.5,3290.4 609.1,3287.7 611.7,3285.3 614.2,3283.2 616.8,3281.4 619.4,3279.9 622,3278.7 624.5,3277.8 627.1,3277.2 629.7,3276.9 632.2,3277 634.8,3277.3 637.4,3278 640,3279.1 642.5,3280.4 645.1,3282.2 647.7,3284.4 650.2,3287 652.8,3290.2 655.4,3293.9 658,3298.2 660.5,3303.2 663.1,3308.8 665.7,3315.2 668.2,3322.3 670.8,3330.2 673.4,3338.9 675.9,3348.4 678.5,3358.7 681.1,3369.8 683.7,3381.7 686.2,3394.4 688.8,3407.7 691.4,3421.7 693.9,3436 696.5,3450.8 699.1,3465.8 701.7,3481 704.2,3496.3 706.8,3511.4 709.4,3526.4 711.9,3541.1 714.5,3555.4 717.1,3569.2 719.7,3582.4 722.2,3595 724.8,3606.8 727.4,3617.7 729.9,3627.9 732.5,3637.2 735.1,3645.7 737.7,3653.3 740.2,3660.2 742.8,3666.3 745.4,3671.7 747.9,3676.4 750.5,3680.4 753.1,3683.8 755.6,3686.6 758.2,3689 760.8,3690.9 763.4,3692.5 765.9,3693.8 768.5,3694.8 771.1,3695.6 773.6,3696.2 776.2,3696.7 778.8,3697.1 781.4,3697.4 783.9,3697.7 786.5,3697.9"/>
<path class="vivo" d="M272.3,3698.1 274.9,3697.5 277.4,3697 280,3696.3 282.6,3695.4 285.2,3694.3 287.7,3693 290.3,3691.2 292.9,3689.1 295.4,3686.5 298,3683.5 300.6,3679.9 303.2,3675.8 305.7,3671.2 308.3,3666.1 310.9,3660.7 313.4,3655 316,3649.1 318.6,3643.1 321.1,3637.2 323.7,3631.4 326.3,3625.7 328.9,3620.3 331.4,3615.1 334,3610.2 336.6,3605.7 339.1,3601.5 341.7,3597.9 344.3,3594.7 346.9,3592.1 349.4,3589.8 352,3588.1 354.6,3586.7 357.1,3585.7 359.7,3585 362.3,3584.6 364.9,3584.4 367.4,3584.5 370,3584.7 372.6,3585.1 375.1,3585.6 377.7,3586.2 380.3,3586.8 382.9,3587.3 385.4,3587.8 388,3588.2 390.6,3588.5 393.1,3588.7 395.7,3588.7 398.3,3588.7 400.9,3588.5 403.4,3588.3 406,3588 408.6,3587.7 411.1,3587.4 413.7,3587 416.3,3586.6 418.8,3586.1 421.4,3585.6 424,3584.9 426.6,3584.1 429.1,3583.3 431.7,3582.3 434.3,3581.2 436.8,3580 439.4,3578.7 442,3577.2 444.6,3575.6 447.1,3574 449.7,3572.1 452.3,3570.2 454.8,3568.1 457.4,3565.8 460,3563.4 462.6,3560.9 465.1,3558.3 467.7,3555.6 470.3,3552.8 472.8,3550 475.4,3547.1 478,3544 480.6,3540.9 483.1,3537.7 485.7,3534.3 488.3,3530.9 490.8,3527.3 493.4,3523.7 496,3520 498.5,3516.2 501.1,3512.3 503.7,3508.3 506.3,3504.3 508.8,3500.2 511.4,3496 514,3491.8 516.5,3487.4 519.1,3483 521.7,3478.4 524.3,3473.8 526.8,3469 529.4,3464 532,3458.9 534.5,3453.6 537.1,3448.1 539.7,3442.4 542.3,3436.6 544.8,3430.6 547.4,3424.5 550,3418.2 552.5,3411.7 555.1,3405.2 557.7,3398.5 560.3,3391.6 562.8,3384.7 565.4,3377.8 568,3370.9 570.5,3364.1 573.1,3357.4 575.7,3350.8 578.2,3344.4 580.8,3338.3 583.4,3332.3 586,3326.6 588.5,3321.2 591.1,3316.1 593.7,3311.3 596.2,3306.8 598.8,3302.6 601.4,3298.8 604,3295.3 606.5,3292.1 609.1,3289.2 611.7,3286.7 614.2,3284.4 616.8,3282.4 619.4,3280.7 622,3279.4 624.5,3278.3 627.1,3277.5 629.7,3277.1 632.2,3276.9 634.8,3277.1 637.4,3277.6 640,3278.4 642.5,3279.6 645.1,3281.1 647.7,3283 650.2,3285.4 652.8,3288.2 655.4,3291.6 658,3295.6 660.5,3300.1 663.1,3305.4 665.7,3311.3 668.2,3318 670.8,3325.4 673.4,3333.6 675.9,3342.6 678.5,3352.4 681.1,3363 683.7,3374.5 686.2,3386.7 688.8,3399.7 691.4,3413.2 693.9,3427.4 696.5,3441.9 699.1,3456.8 701.7,3471.9 704.2,3487.1 706.8,3502.3 709.4,3517.5 711.9,3532.3 714.5,3546.9 717.1,3561 719.7,3574.5 722.2,3587.5 724.8,3599.8 727.4,3611.3 729.9,3621.9 732.5,3631.7 735.1,3640.7 737.7,3648.8 740.2,3656.2 742.8,3662.8 745.4,3668.6 747.9,3673.7 750.5,3678.1 753.1,3681.8 755.6,3685 758.2,3687.6 760.8,3689.8 763.4,3691.6 765.9,3693 768.5,3694.2 771.1,3695.1 773.6,3695.9 776.2,3696.5 778.8,3696.9 781.4,3697.3 783.9,3697.5 786.5,3697.8"/>
</g>
<text class="tk" transform="translate(271.5,3757.1) scale(0.92,1)" text-anchor="middle">0</text>
<text class="tk" transform="translate(374.3,3757.1) scale(0.92,1)" text-anchor="middle">20</text>
<text class="tk" transform="translate(477.2,3757.1) scale(0.92,1)" text-anchor="middle">40</text>
<text class="tk" transform="translate(580,3757.1) scale(0.92,1)" text-anchor="middle">60</text>
<text class="tk" transform="translate(682.9,3757.1) scale(0.92,1)" text-anchor="middle">80</text>
<text class="tk" transform="translate(785.7,3757.1) scale(0.92,1)" text-anchor="middle">100</text>
<text class="tk" transform="translate(259.1,3729.1) scale(0.92,1)" text-anchor="end">-10</text>
<text class="tk" transform="translate(259.1,3675.4) scale(0.92,1)" text-anchor="end">0</text>
<text class="tk" transform="translate(259.1,3621.7) scale(0.92,1)" text-anchor="end">10</text>
<text class="tk" transform="translate(259.1,3568) scale(0.92,1)" text-anchor="end">20</text>
<text class="tk" transform="translate(259.1,3514.3) scale(0.92,1)" text-anchor="end">30</text>
<text class="tk" transform="translate(259.1,3460.6) scale(0.92,1)" text-anchor="end">40</text>
<text class="tk" transform="translate(259.1,3406.9) scale(0.92,1)" text-anchor="end">50</text>
<text class="tk" transform="translate(259.1,3353.2) scale(0.92,1)" text-anchor="end">60</text>
<text class="tk" transform="translate(259.1,3299.5) scale(0.92,1)" text-anchor="end">70</text>
<text class="tk" transform="translate(259.1,3245.8) scale(0.92,1)" text-anchor="end">80</text>
<text class="tk" transform="translate(259.1,3192.1) scale(0.92,1)" text-anchor="end">90</text>
<text class="lb" transform="translate(204.5,3446.5) rotate(-90)" text-anchor="middle">Flexion (+) / Extension (-) [°]</text>
<text class="lb" x="525.6" y="3796.2" text-anchor="middle">% of cycle</text></g>
<g class="r6"><clipPath id="c62"><rect x="945.5" y="3178.5" width="521" height="543"/></clipPath>
<rect class="ax" x="948.5" y="3181.5" width="515" height="537"/>
<path class="ax" d="M1051.5,3718.5v-5.5M1051.5,3181.5v5.5M1154.5,3718.5v-5.5M1154.5,3181.5v5.5M1257.5,3718.5v-5.5M1257.5,3181.5v5.5M1360.5,3718.5v-5.5M1360.5,3181.5v5.5M948.5,3664.8h5.5M1463.5,3664.8h-5.5M948.5,3611.1h5.5M1463.5,3611.1h-5.5M948.5,3557.4h5.5M1463.5,3557.4h-5.5M948.5,3503.7h5.5M1463.5,3503.7h-5.5M948.5,3450h5.5M1463.5,3450h-5.5M948.5,3396.3h5.5M1463.5,3396.3h-5.5M948.5,3342.6h5.5M1463.5,3342.6h-5.5M948.5,3288.9h5.5M1463.5,3288.9h-5.5M948.5,3235.2h5.5M1463.5,3235.2h-5.5"/>
<g clip-path="url(#c62)">
<path class="imu" d="M948.5,3486.4 951.1,3486.5 953.6,3486.5 956.2,3486.4 958.8,3486.2 961.4,3485.8 964,3485.2 966.5,3484.4 969.1,3483.4 971.7,3482.1 974.2,3480.5 976.8,3478.7 979.4,3476.7 982,3474.6 984.5,3472.3 987.1,3469.9 989.7,3467.4 992.3,3465 994.9,3462.5 997.4,3460.1 1000,3457.5 1002.6,3454.9 1005.1,3452.4 1007.7,3449.8 1010.3,3447.3 1012.9,3445 1015.5,3442.9 1018,3440.9 1020.6,3439.3 1023.2,3437.9 1025.8,3436.9 1028.3,3436.3 1030.9,3436 1033.5,3436.2 1036,3436.8 1038.6,3437.8 1041.2,3439 1043.8,3440.5 1046.3,3442.2 1048.9,3443.9 1051.5,3445.7 1054.1,3447.4 1056.7,3449.1 1059.2,3450.6 1061.8,3451.9 1064.4,3452.9 1067,3453.8 1069.5,3454.3 1072.1,3454.5 1074.7,3454.3 1077.2,3453.8 1079.8,3452.9 1082.4,3451.7 1085,3450.2 1087.5,3448.4 1090.1,3446.5 1092.7,3444.4 1095.3,3442.2 1097.8,3440.1 1100.4,3438 1103,3436 1105.6,3434.2 1108.2,3432.5 1110.7,3431 1113.3,3429.6 1115.9,3428.3 1118.5,3427.2 1121,3426.3 1123.6,3425.4 1126.2,3424.7 1128.8,3424.1 1131.3,3423.5 1133.9,3423 1136.5,3422.4 1139,3421.9 1141.6,3421.3 1144.2,3420.8 1146.8,3420.2 1149.3,3419.6 1151.9,3419.1 1154.5,3418.5 1157.1,3418 1159.7,3417.4 1162.2,3416.9 1164.8,3416.5 1167.4,3416.1 1170,3415.8 1172.5,3415.5 1175.1,3415.4 1177.7,3415.3 1180.2,3415.3 1182.8,3415.5 1185.4,3415.7 1188,3416 1190.5,3416.4 1193.1,3416.8 1195.7,3417.2 1198.3,3417.6 1200.8,3418 1203.4,3418.4 1206,3418.7 1208.6,3419 1211.2,3419.1 1213.7,3419.2 1216.3,3419.2 1218.9,3419 1221.5,3418.8 1224,3418.3 1226.6,3417.8 1229.2,3417.1 1231.8,3416.4 1234.3,3415.5 1236.9,3414.5 1239.5,3413.5 1242,3412.5 1244.6,3411.5 1247.2,3410.6 1249.8,3409.7 1252.3,3408.8 1254.9,3407.9 1257.5,3407 1260.1,3406.2 1262.7,3405.5 1265.2,3404.7 1267.8,3404 1270.4,3403.4 1273,3402.8 1275.5,3402.2 1278.1,3401.7 1280.7,3401.3 1283.2,3400.8 1285.8,3400.4 1288.4,3400 1291,3399.6 1293.5,3399.2 1296.1,3398.8 1298.7,3398.5 1301.3,3398.2 1303.8,3397.9 1306.4,3397.6 1309,3397.4 1311.6,3397.1 1314.2,3396.9 1316.7,3396.7 1319.3,3396.6 1321.9,3396.4 1324.5,3396.3 1327,3396.2 1329.6,3396.2 1332.2,3396.2 1334.8,3396.2 1337.3,3396.2 1339.9,3396.3 1342.5,3396.5 1345,3396.9 1347.6,3397.4 1350.2,3398 1352.8,3398.9 1355.3,3400 1357.9,3401.3 1360.5,3402.9 1363.1,3404.8 1365.7,3407.1 1368.2,3409.7 1370.8,3412.6 1373.4,3415.8 1376,3419.3 1378.5,3423.1 1381.1,3427.1 1383.7,3431.3 1386.2,3435.6 1388.8,3439.9 1391.4,3444.2 1394,3448.3 1396.5,3452.3 1399.1,3456.1 1401.7,3459.6 1404.3,3462.9 1406.8,3465.9 1409.4,3468.6 1412,3471 1414.6,3473.1 1417.2,3474.9 1419.7,3476.4 1422.3,3477.7 1424.9,3478.7 1427.5,3479.6 1430,3480.3 1432.6,3480.9 1435.2,3481.4 1437.8,3481.7 1440.3,3482 1442.9,3482.3 1445.5,3482.5 1448,3482.7 1450.6,3482.9 1453.2,3483 1455.8,3483.2 1458.3,3483.3 1460.9,3483.4 1463.5,3483.6"/>
<path class="vivo" d="M948.5,3469.9 951.1,3469.8 953.6,3469.7 956.2,3469.7 958.8,3469.7 961.4,3469.8 964,3469.9 966.5,3470.2 969.1,3470.3 971.7,3470.3 974.2,3469.7 976.8,3468.7 979.4,3467.2 982,3465.4 984.5,3463.4 987.1,3461.5 989.7,3459.7 992.3,3458.2 994.9,3457 997.4,3456.2 1000,3455.8 1002.6,3455.7 1005.1,3455.7 1007.7,3455.5 1010.3,3454.9 1012.9,3453.6 1015.5,3451.8 1018,3449.6 1020.6,3447.1 1023.2,3444.6 1025.8,3442.2 1028.3,3440.1 1030.9,3438.5 1033.5,3437.9 1036,3438.2 1038.6,3439.4 1041.2,3441.3 1043.8,3443.6 1046.3,3446.4 1048.9,3449.5 1051.5,3452.8 1054.1,3456.1 1056.7,3459 1059.2,3461.4 1061.8,3463 1064.4,3463.9 1067,3464.3 1069.5,3464.3 1072.1,3464.2 1074.7,3463.7 1077.2,3462.8 1079.8,3461.4 1082.4,3459.4 1085,3456.9 1087.5,3454 1090.1,3451.1 1092.7,3448.2 1095.3,3445.5 1097.8,3443.1 1100.4,3441.1 1103,3439.6 1105.6,3438.7 1108.2,3438.1 1110.7,3437.8 1113.3,3437.6 1115.9,3437.3 1118.5,3436.9 1121,3436.5 1123.6,3436.1 1126.2,3435.6 1128.8,3435.3 1131.3,3435 1133.9,3434.8 1136.5,3434.6 1139,3434.6 1141.6,3434.6 1144.2,3434.7 1146.8,3434.8 1149.3,3435 1151.9,3435.2 1154.5,3435.3 1157.1,3435.5 1159.7,3435.6 1162.2,3435.7 1164.8,3435.8 1167.4,3436 1170,3436.2 1172.5,3436.6 1175.1,3437.1 1177.7,3437.8 1180.2,3438.5 1182.8,3439.4 1185.4,3440.3 1188,3441.3 1190.5,3442.4 1193.1,3443.6 1195.7,3444.9 1198.3,3446.3 1200.8,3447.8 1203.4,3449.5 1206,3451.2 1208.6,3452.8 1211.2,3454.3 1213.7,3455.6 1216.3,3456.7 1218.9,3457.5 1221.5,3458.1 1224,3458.6 1226.6,3458.9 1229.2,3459.1 1231.8,3459.1 1234.3,3459 1236.9,3458.9 1239.5,3458.6 1242,3458.3 1244.6,3458 1247.2,3457.6 1249.8,3457.3 1252.3,3457.1 1254.9,3457 1257.5,3457 1260.1,3457.1 1262.7,3457.3 1265.2,3457.5 1267.8,3457.8 1270.4,3458.1 1273,3458.3 1275.5,3458.5 1278.1,3458.6 1280.7,3458.4 1283.2,3458.2 1285.8,3457.9 1288.4,3457.5 1291,3457 1293.5,3456.6 1296.1,3456.2 1298.7,3455.9 1301.3,3455.6 1303.8,3455.4 1306.4,3455.3 1309,3455.1 1311.6,3454.9 1314.2,3454.8 1316.7,3454.6 1319.3,3454.5 1321.9,3454.3 1324.5,3454.1 1327,3453.9 1329.6,3453.7 1332.2,3453.5 1334.8,3453.3 1337.3,3453.2 1339.9,3453 1342.5,3452.8 1345,3452.6 1347.6,3452.3 1350.2,3451.7 1352.8,3450.9 1355.3,3449.9 1357.9,3448.7 1360.5,3447.7 1363.1,3447.2 1365.7,3447.3 1368.2,3447.9 1370.8,3449 1373.4,3450.3 1376,3451.8 1378.5,3453.4 1381.1,3454.9 1383.7,3456.5 1386.2,3458.1 1388.8,3459.7 1391.4,3461.2 1394,3462.7 1396.5,3464.1 1399.1,3465.3 1401.7,3466.2 1404.3,3467 1406.8,3467.5 1409.4,3468 1412,3468.2 1414.6,3468.4 1417.2,3468.5 1419.7,3468.6 1422.3,3468.6 1424.9,3468.6 1427.5,3468.6 1430,3468.6 1432.6,3468.5 1435.2,3468.5 1437.8,3468.5 1440.3,3468.5 1442.9,3468.5 1445.5,3468.5 1448,3468.6 1450.6,3468.7 1453.2,3468.8 1455.8,3468.9 1458.3,3469 1460.9,3469.2 1463.5,3469.3"/>
</g>
<text class="tk" transform="translate(947.7,3757.1) scale(0.92,1)" text-anchor="middle">0</text>
<text class="tk" transform="translate(1050.7,3757.1) scale(0.92,1)" text-anchor="middle">20</text>
<text class="tk" transform="translate(1153.7,3757.1) scale(0.92,1)" text-anchor="middle">40</text>
<text class="tk" transform="translate(1256.7,3757.1) scale(0.92,1)" text-anchor="middle">60</text>
<text class="tk" transform="translate(1359.7,3757.1) scale(0.92,1)" text-anchor="middle">80</text>
<text class="tk" transform="translate(1462.7,3757.1) scale(0.92,1)" text-anchor="middle">100</text>
<text class="tk" transform="translate(935.3,3729.1) scale(0.92,1)" text-anchor="end">-10</text>
<text class="tk" transform="translate(935.3,3675.4) scale(0.92,1)" text-anchor="end">-8</text>
<text class="tk" transform="translate(935.3,3621.7) scale(0.92,1)" text-anchor="end">-6</text>
<text class="tk" transform="translate(935.3,3568) scale(0.92,1)" text-anchor="end">-4</text>
<text class="tk" transform="translate(935.3,3514.3) scale(0.92,1)" text-anchor="end">-2</text>
<text class="tk" transform="translate(935.3,3460.6) scale(0.92,1)" text-anchor="end">0</text>
<text class="tk" transform="translate(935.3,3406.9) scale(0.92,1)" text-anchor="end">2</text>
<text class="tk" transform="translate(935.3,3353.2) scale(0.92,1)" text-anchor="end">4</text>
<text class="tk" transform="translate(935.3,3299.5) scale(0.92,1)" text-anchor="end">6</text>
<text class="tk" transform="translate(935.3,3245.8) scale(0.92,1)" text-anchor="end">8</text>
<text class="tk" transform="translate(935.3,3192.1) scale(0.92,1)" text-anchor="end">10</text>
<text class="lb" transform="translate(880.7,3450.4) rotate(-90)" text-anchor="middle">Adduction (+) / Abduction (-) [°]</text>
<text class="lb" x="1202.2" y="3796.2" text-anchor="middle">% of cycle</text></g>
<g class="r6"><clipPath id="c63"><rect x="1622.3" y="3178.5" width="520.6" height="543"/></clipPath>
<rect class="ax" x="1625.3" y="3181.5" width="514.6" height="537"/>
<path class="ax" d="M1728.2,3718.5v-5.5M1728.2,3181.5v5.5M1831.1,3718.5v-5.5M1831.1,3181.5v5.5M1934.1,3718.5v-5.5M1934.1,3181.5v5.5M2037,3718.5v-5.5M2037,3181.5v5.5M1625.3,3664.8h5.5M2139.9,3664.8h-5.5M1625.3,3611.1h5.5M2139.9,3611.1h-5.5M1625.3,3557.4h5.5M2139.9,3557.4h-5.5M1625.3,3503.7h5.5M2139.9,3503.7h-5.5M1625.3,3450h5.5M2139.9,3450h-5.5M1625.3,3396.3h5.5M2139.9,3396.3h-5.5M1625.3,3342.6h5.5M2139.9,3342.6h-5.5M1625.3,3288.9h5.5M2139.9,3288.9h-5.5M1625.3,3235.2h5.5M2139.9,3235.2h-5.5"/>
<g clip-path="url(#c63)">
<path class="imu" d="M1625.3,3488.7 1627.9,3492.4 1630.4,3496.1 1633,3499.6 1635.6,3502.9 1638.2,3506 1640.7,3508.7 1643.3,3511.2 1645.9,3513.3 1648.5,3515.1 1651,3516.6 1653.6,3517.7 1656.2,3518.5 1658.7,3518.9 1661.3,3519 1663.9,3518.8 1666.5,3518.3 1669,3517.4 1671.6,3516.3 1674.2,3514.8 1676.8,3513.2 1679.3,3511.5 1681.9,3509.6 1684.5,3507.7 1687.1,3506 1689.6,3504.3 1692.2,3502.9 1694.8,3501.7 1697.3,3500.8 1699.9,3500.3 1702.5,3500.1 1705.1,3500.3 1707.6,3501 1710.2,3502 1712.8,3503.4 1715.4,3505.2 1717.9,3507.3 1720.5,3509.6 1723.1,3512.2 1725.6,3514.8 1728.2,3517.5 1730.8,3520.3 1733.4,3523.1 1735.9,3525.9 1738.5,3528.5 1741.1,3531.1 1743.7,3533.5 1746.2,3535.6 1748.8,3537.5 1751.4,3539 1754,3540.2 1756.5,3541 1759.1,3541.4 1761.7,3541.4 1764.2,3541.1 1766.8,3540.6 1769.4,3539.8 1772,3538.8 1774.5,3537.8 1777.1,3536.7 1779.7,3535.6 1782.3,3534.7 1784.8,3533.9 1787.4,3533.3 1790,3532.9 1792.5,3532.7 1795.1,3532.7 1797.7,3532.8 1800.3,3533 1802.8,3533.2 1805.4,3533.5 1808,3533.8 1810.6,3534.1 1813.1,3534.4 1815.7,3534.6 1818.3,3534.8 1820.8,3534.8 1823.4,3534.7 1826,3534.3 1828.6,3533.7 1831.1,3532.9 1833.7,3532 1836.3,3530.8 1838.9,3529.5 1841.4,3528.1 1844,3526.6 1846.6,3525.1 1849.2,3523.5 1851.7,3521.9 1854.3,3520.2 1856.9,3518.5 1859.4,3516.7 1862,3514.8 1864.6,3512.8 1867.2,3510.6 1869.7,3508.4 1872.3,3505.9 1874.9,3503.4 1877.5,3500.6 1880,3497.8 1882.6,3494.7 1885.2,3491.6 1887.7,3488.4 1890.3,3485.1 1892.9,3481.7 1895.5,3478.3 1898,3475 1900.6,3471.7 1903.2,3468.5 1905.8,3465.3 1908.3,3462.3 1910.9,3459.5 1913.5,3456.8 1916,3454.3 1918.6,3452.1 1921.2,3450.1 1923.8,3448.4 1926.3,3446.8 1928.9,3445.4 1931.5,3444.2 1934.1,3443.1 1936.6,3442.1 1939.2,3441.1 1941.8,3440.2 1944.4,3439.3 1946.9,3438.4 1949.5,3437.5 1952.1,3436.4 1954.6,3435.3 1957.2,3433.9 1959.8,3432.4 1962.4,3430.6 1964.9,3428.6 1967.5,3426.4 1970.1,3424.2 1972.7,3421.9 1975.2,3419.7 1977.8,3417.5 1980.4,3415.6 1982.9,3413.8 1985.5,3412.4 1988.1,3411.2 1990.7,3410.2 1993.2,3409.6 1995.8,3409.4 1998.4,3409.4 2001,3409.9 2003.5,3410.8 2006.1,3412.2 2008.7,3414.4 2011.2,3417.3 2013.8,3421.1 2016.4,3426 2019,3432 2021.5,3438.9 2024.1,3446.9 2026.7,3455.7 2029.3,3465.2 2031.8,3475.3 2034.4,3485.9 2037,3496.7 2039.6,3507.8 2042.1,3518.7 2044.7,3529.4 2047.3,3539.4 2049.8,3548.4 2052.4,3556.2 2055,3562.3 2057.6,3566.7 2060.1,3569.4 2062.7,3570.4 2065.3,3570 2067.9,3568.1 2070.4,3564.8 2073,3560.1 2075.6,3554 2078.1,3546.7 2080.7,3538.6 2083.3,3529.9 2085.9,3521 2088.4,3512.2 2091,3503.7 2093.6,3495.8 2096.2,3488.5 2098.7,3482.1 2101.3,3476.5 2103.9,3471.9 2106.5,3468.4 2109,3465.8 2111.6,3464.3 2114.2,3463.6 2116.7,3463.6 2119.3,3464.4 2121.9,3465.9 2124.5,3467.8 2127,3470.1 2129.6,3472.7 2132.2,3475.3 2134.8,3478.1 2137.3,3480.9 2139.9,3483.7"/>
<path class="vivo" d="M1625.3,3472.3 1627.9,3473.6 1630.4,3474.9 1633,3476 1635.6,3477 1638.2,3477.7 1640.7,3478.1 1643.3,3478.6 1645.9,3479.4 1648.5,3480.9 1651,3483.3 1653.6,3486.6 1656.2,3490.9 1658.7,3496.2 1661.3,3502.2 1663.9,3507.9 1666.5,3512.3 1669,3514.1 1671.6,3511.5 1674.2,3503.8 1676.8,3494.3 1679.3,3486.6 1681.9,3481 1684.5,3476.8 1687.1,3473.7 1689.6,3471.2 1692.2,3469.3 1694.8,3468.2 1697.3,3468.1 1699.9,3469.3 1702.5,3472 1705.1,3476 1707.6,3480.9 1710.2,3486.4 1712.8,3492.4 1715.4,3498.9 1717.9,3505 1720.5,3509.6 1723.1,3512 1725.6,3511.7 1728.2,3508.5 1730.8,3502.7 1733.4,3496.4 1735.9,3492.4 1738.5,3492.9 1741.1,3497.1 1743.7,3504 1746.2,3512.2 1748.8,3520.9 1751.4,3528.9 1754,3535.6 1756.5,3540.3 1759.1,3542.7 1761.7,3542.4 1764.2,3539.2 1766.8,3533.7 1769.4,3526.8 1772,3519.3 1774.5,3512 1777.1,3505.4 1779.7,3499.9 1782.3,3496.1 1784.8,3493.9 1787.4,3493.5 1790,3494.8 1792.5,3497.6 1795.1,3501.8 1797.7,3507 1800.3,3512.7 1802.8,3518.2 1805.4,3523 1808,3526.5 1810.6,3528.5 1813.1,3528.9 1815.7,3527.7 1818.3,3525.5 1820.8,3523 1823.4,3520.8 1826,3519 1828.6,3517.4 1831.1,3516 1833.7,3514.7 1836.3,3513.4 1838.9,3512 1841.4,3510.6 1844,3509.5 1846.6,3508.8 1849.2,3508.5 1851.7,3508.8 1854.3,3509.2 1856.9,3509 1859.4,3507.7 1862,3504.9 1864.6,3501.1 1867.2,3497 1869.7,3493.5 1872.3,3491.2 1874.9,3490 1877.5,3489.7 1880,3490.3 1882.6,3491.2 1885.2,3492.1 1887.7,3492.4 1890.3,3491.9 1892.9,3490.3 1895.5,3487.6 1898,3483.9 1900.6,3479.7 1903.2,3475 1905.8,3470.1 1908.3,3465.5 1910.9,3461.2 1913.5,3457.8 1916,3455.3 1918.6,3453.7 1921.2,3452.7 1923.8,3452.2 1926.3,3452.4 1928.9,3453.8 1931.5,3456.3 1934.1,3459.6 1936.6,3463.1 1939.2,3466.1 1941.8,3468.2 1944.4,3469.2 1946.9,3469.3 1949.5,3468.5 1952.1,3467 1954.6,3464.8 1957.2,3462.2 1959.8,3459.6 1962.4,3457 1964.9,3454.6 1967.5,3452.4 1970.1,3450.1 1972.7,3447.5 1975.2,3444.4 1977.8,3440.8 1980.4,3437.6 1982.9,3435.8 1985.5,3435.1 1988.1,3435.5 1990.7,3436.6 1993.2,3438.5 1995.8,3441 1998.4,3443.8 2001,3446.2 2003.5,3448 2006.1,3449.1 2008.7,3449.7 2011.2,3450 2013.8,3450.1 2016.4,3450.3 2019,3450.8 2021.5,3451.7 2024.1,3453.4 2026.7,3456 2029.3,3459.7 2031.8,3464.8 2034.4,3471.7 2037,3480.9 2039.6,3492.4 2042.1,3505.4 2044.7,3519.3 2047.3,3533.4 2049.8,3546.1 2052.4,3556.1 2055,3563.6 2057.6,3568.7 2060.1,3570 2062.7,3566.3 2065.3,3558.9 2067.9,3549.9 2070.4,3540.9 2073,3532.1 2075.6,3523 2078.1,3513.7 2080.7,3504.5 2083.3,3496.2 2085.9,3489.1 2088.4,3482.9 2091,3476.8 2093.6,3470.6 2096.2,3464.1 2098.7,3457.8 2101.3,3451.9 2103.9,3446.6 2106.5,3442.2 2109,3439 2111.6,3437.1 2114.2,3436.6 2116.7,3437.5 2119.3,3439.7 2121.9,3443 2124.5,3447.2 2127,3451.9 2129.6,3456.7 2132.2,3461.3 2134.8,3465.3 2137.3,3468.5 2139.9,3471.2"/>
</g>
<text class="tk" transform="translate(1624.5,3757.1) scale(0.92,1)" text-anchor="middle">0</text>
<text class="tk" transform="translate(1727.4,3757.1) scale(0.92,1)" text-anchor="middle">20</text>
<text class="tk" transform="translate(1830.3,3757.1) scale(0.92,1)" text-anchor="middle">40</text>
<text class="tk" transform="translate(1933.3,3757.1) scale(0.92,1)" text-anchor="middle">60</text>
<text class="tk" transform="translate(2036.2,3757.1) scale(0.92,1)" text-anchor="middle">80</text>
<text class="tk" transform="translate(2139.1,3757.1) scale(0.92,1)" text-anchor="middle">100</text>
<text class="tk" transform="translate(1612.1,3729.1) scale(0.92,1)" text-anchor="end">-10</text>
<text class="tk" transform="translate(1612.1,3675.4) scale(0.92,1)" text-anchor="end">-8</text>
<text class="tk" transform="translate(1612.1,3621.7) scale(0.92,1)" text-anchor="end">-6</text>
<text class="tk" transform="translate(1612.1,3568) scale(0.92,1)" text-anchor="end">-4</text>
<text class="tk" transform="translate(1612.1,3514.3) scale(0.92,1)" text-anchor="end">-2</text>
<text class="tk" transform="translate(1612.1,3460.6) scale(0.92,1)" text-anchor="end">0</text>
<text class="tk" transform="translate(1612.1,3406.9) scale(0.92,1)" text-anchor="end">2</text>
<text class="tk" transform="translate(1612.1,3353.2) scale(0.92,1)" text-anchor="end">4</text>
<text class="tk" transform="translate(1612.1,3299.5) scale(0.92,1)" text-anchor="end">6</text>
<text class="tk" transform="translate(1612.1,3245.8) scale(0.92,1)" text-anchor="end">8</text>
<text class="tk" transform="translate(1612.1,3192.1) scale(0.92,1)" text-anchor="end">10</text>
<text class="lb" transform="translate(1557.5,3447.4) rotate(-90)" text-anchor="middle">Internal (+) / External (-) Tibial Rotation [°]</text>
<text class="lb" x="1878.8" y="3796.2" text-anchor="middle">% of cycle</text>
<rect class="lg" x="1956.9" y="3200.3" width="166.2" height="71.1"/>
<path class="imu" d="M1967.4,3220.5h82.1"/>
<path class="vivo" d="M1967.4,3251.5h82.1"/>
<text class="lt" x="2058.1" y="3229.5">IMU</text>
<text class="lt" x="2058.1" y="3260.4">VIVO</text></g>
</svg>
</body></html>
